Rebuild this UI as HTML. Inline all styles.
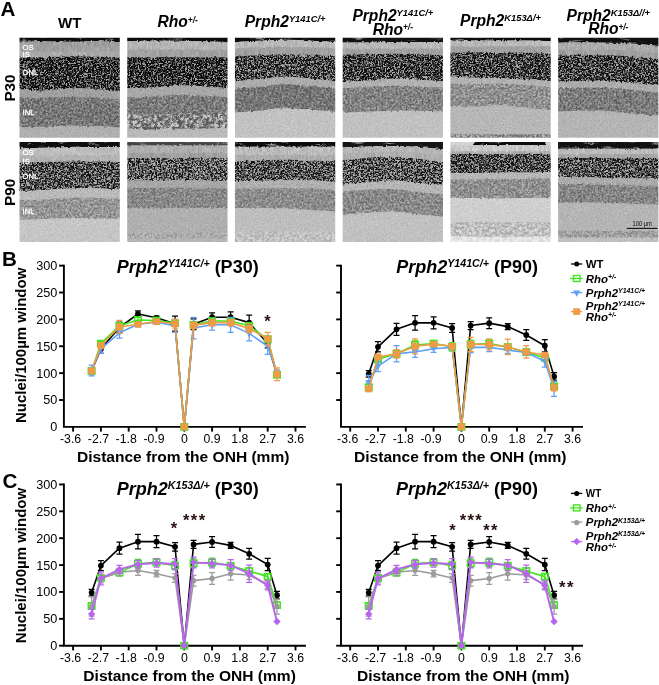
<!DOCTYPE html>
<html lang="en">
<head>
<meta charset="utf-8">
<title>Retinal histology and ONL nuclei counts</title>
<style>
html,body{margin:0;padding:0;background:#fff;}
body{width:659px;height:685px;overflow:hidden;}
svg{display:block;font-family:"Liberation Sans", Arial, Helvetica, sans-serif;}
text{white-space:pre;}
</style>
</head>
<body>
<svg width="659" height="685" viewBox="0 0 659 685">
<defs>
<filter id="soft" x="-5%" y="-5%" width="110%" height="110%" color-interpolation-filters="sRGB"><feTurbulence type="fractalNoise" baseFrequency="0.35" numOctaves="2" seed="7" result="dn"/><feDisplacementMap in="SourceGraphic" in2="dn" scale="3.2" xChannelSelector="R" yChannelSelector="G" result="dd"/><feGaussianBlur in="dd" stdDeviation="0.4"/></filter>
<filter id="rpe_1_0_100" x="0" y="0" width="100%" height="100%" color-interpolation-filters="sRGB"><feTurbulence type="fractalNoise" baseFrequency="0.06 0.45" numOctaves="2" seed="1" result="n"/><feColorMatrix in="n" type="matrix" values="1 0 0 0 0  1 0 0 0 0  1 0 0 0 0  0 0 0 0 1" result="g"/><feComponentTransfer in="g" result="t"><feFuncR type="table" tableValues="0.047 0.047 0.047 0.047 0.047 0.047 0.047 0.047 0.047 0.047 0.047 0.047 0.047 0.121 0.244 0.367 0.490 0.490 0.490 0.490 0.490"/><feFuncG type="table" tableValues="0.047 0.047 0.047 0.047 0.047 0.047 0.047 0.047 0.047 0.047 0.047 0.047 0.047 0.121 0.244 0.367 0.490 0.490 0.490 0.490 0.490"/><feFuncB type="table" tableValues="0.047 0.047 0.047 0.047 0.047 0.047 0.047 0.047 0.047 0.047 0.047 0.047 0.047 0.121 0.244 0.367 0.490 0.490 0.490 0.490 0.490"/></feComponentTransfer><feComposite in="t" in2="SourceGraphic" operator="in"/></filter>
<filter id="os_1_-20_100" x="0" y="0" width="100%" height="100%" color-interpolation-filters="sRGB"><feTurbulence type="fractalNoise" baseFrequency="0.7 0.15" numOctaves="2" seed="1" result="n"/><feColorMatrix in="n" type="matrix" values="1 0 0 0 0  1 0 0 0 0  1 0 0 0 0  0 0 0 0 1" result="g"/><feComponentTransfer in="g" result="t"><feFuncR type="table" tableValues="0.580 0.580 0.580 0.580 0.580 0.580 0.580 0.592 0.604 0.616 0.627 0.639 0.651 0.663 0.675 0.675 0.675 0.675 0.675 0.675 0.675"/><feFuncG type="table" tableValues="0.580 0.580 0.580 0.580 0.580 0.580 0.580 0.592 0.604 0.616 0.627 0.639 0.651 0.663 0.675 0.675 0.675 0.675 0.675 0.675 0.675"/><feFuncB type="table" tableValues="0.580 0.580 0.580 0.580 0.580 0.580 0.580 0.592 0.604 0.616 0.627 0.639 0.651 0.663 0.675 0.675 0.675 0.675 0.675 0.675 0.675"/></feComponentTransfer><feComposite in="t" in2="SourceGraphic" operator="in"/></filter>
<filter id="is_1_10_100" x="0" y="0" width="100%" height="100%" color-interpolation-filters="sRGB"><feTurbulence type="fractalNoise" baseFrequency="0.7 0.12" numOctaves="2" seed="1" result="n"/><feColorMatrix in="n" type="matrix" values="1 0 0 0 0  1 0 0 0 0  1 0 0 0 0  0 0 0 0 1" result="g"/><feComponentTransfer in="g" result="t"><feFuncR type="table" tableValues="0.627 0.627 0.627 0.627 0.627 0.627 0.627 0.638 0.649 0.660 0.671 0.681 0.692 0.703 0.714 0.714 0.714 0.714 0.714 0.714 0.714"/><feFuncG type="table" tableValues="0.627 0.627 0.627 0.627 0.627 0.627 0.627 0.638 0.649 0.660 0.671 0.681 0.692 0.703 0.714 0.714 0.714 0.714 0.714 0.714 0.714"/><feFuncB type="table" tableValues="0.627 0.627 0.627 0.627 0.627 0.627 0.627 0.638 0.649 0.660 0.671 0.681 0.692 0.703 0.714 0.714 0.714 0.714 0.714 0.714 0.714"/></feComponentTransfer><feComposite in="t" in2="SourceGraphic" operator="in"/></filter>
<filter id="onl_1_0_100" x="0" y="0" width="100%" height="100%" color-interpolation-filters="sRGB"><feTurbulence type="fractalNoise" baseFrequency="0.68" numOctaves="1" seed="1" result="n"/><feColorMatrix in="n" type="matrix" values="1 0 0 0 0  1 0 0 0 0  1 0 0 0 0  0 0 0 0 1" result="g"/><feComponentTransfer in="g" result="t"><feFuncR type="table" tableValues="0.031 0.031 0.031 0.031 0.031 0.031 0.031 0.031 0.031 0.031 0.178 0.325 0.471 0.618 0.647 0.647 0.647 0.647 0.647 0.647 0.647"/><feFuncG type="table" tableValues="0.031 0.031 0.031 0.031 0.031 0.031 0.031 0.031 0.031 0.031 0.178 0.325 0.471 0.618 0.647 0.647 0.647 0.647 0.647 0.647 0.647"/><feFuncB type="table" tableValues="0.031 0.031 0.031 0.031 0.031 0.031 0.031 0.031 0.031 0.031 0.178 0.325 0.471 0.618 0.647 0.647 0.647 0.647 0.647 0.647 0.647"/></feComponentTransfer><feComposite in="t" in2="SourceGraphic" operator="in"/></filter>
<filter id="opl_1_-8_100" x="0" y="0" width="100%" height="100%" color-interpolation-filters="sRGB"><feTurbulence type="fractalNoise" baseFrequency="0.7" numOctaves="2" seed="1" result="n"/><feColorMatrix in="n" type="matrix" values="1 0 0 0 0  1 0 0 0 0  1 0 0 0 0  0 0 0 0 1" result="g"/><feComponentTransfer in="g" result="t"><feFuncR type="table" tableValues="0.565 0.565 0.565 0.565 0.565 0.565 0.577 0.590 0.602 0.615 0.627 0.640 0.653 0.665 0.678 0.690 0.690 0.690 0.690 0.690 0.690"/><feFuncG type="table" tableValues="0.565 0.565 0.565 0.565 0.565 0.565 0.577 0.590 0.602 0.615 0.627 0.640 0.653 0.665 0.678 0.690 0.690 0.690 0.690 0.690 0.690"/><feFuncB type="table" tableValues="0.565 0.565 0.565 0.565 0.565 0.565 0.577 0.590 0.602 0.615 0.627 0.640 0.653 0.665 0.678 0.690 0.690 0.690 0.690 0.690 0.690"/></feComponentTransfer><feComposite in="t" in2="SourceGraphic" operator="in"/></filter>
<filter id="inl_1_-8_100" x="0" y="0" width="100%" height="100%" color-interpolation-filters="sRGB"><feTurbulence type="fractalNoise" baseFrequency="0.5" numOctaves="2" seed="1" result="n"/><feColorMatrix in="n" type="matrix" values="1 0 0 0 0  1 0 0 0 0  1 0 0 0 0  0 0 0 0 1" result="g"/><feComponentTransfer in="g" result="t"><feFuncR type="table" tableValues="0.345 0.345 0.345 0.345 0.345 0.345 0.345 0.353 0.392 0.431 0.471 0.510 0.549 0.588 0.612 0.612 0.612 0.612 0.612 0.612 0.612"/><feFuncG type="table" tableValues="0.345 0.345 0.345 0.345 0.345 0.345 0.345 0.353 0.392 0.431 0.471 0.510 0.549 0.588 0.612 0.612 0.612 0.612 0.612 0.612 0.612"/><feFuncB type="table" tableValues="0.345 0.345 0.345 0.345 0.345 0.345 0.345 0.353 0.392 0.431 0.471 0.510 0.549 0.588 0.612 0.612 0.612 0.612 0.612 0.612 0.612"/></feComponentTransfer><feComposite in="t" in2="SourceGraphic" operator="in"/></filter>
<filter id="ipl_1_-10_100" x="0" y="0" width="100%" height="100%" color-interpolation-filters="sRGB"><feTurbulence type="fractalNoise" baseFrequency="0.7" numOctaves="2" seed="1" result="n"/><feColorMatrix in="n" type="matrix" values="1 0 0 0 0  1 0 0 0 0  1 0 0 0 0  0 0 0 0 1" result="g"/><feComponentTransfer in="g" result="t"><feFuncR type="table" tableValues="0.643 0.643 0.643 0.643 0.643 0.643 0.653 0.662 0.671 0.681 0.690 0.700 0.709 0.718 0.728 0.737 0.737 0.737 0.737 0.737 0.737"/><feFuncG type="table" tableValues="0.643 0.643 0.643 0.643 0.643 0.643 0.653 0.662 0.671 0.681 0.690 0.700 0.709 0.718 0.728 0.737 0.737 0.737 0.737 0.737 0.737"/><feFuncB type="table" tableValues="0.643 0.643 0.643 0.643 0.643 0.643 0.653 0.662 0.671 0.681 0.690 0.700 0.709 0.718 0.728 0.737 0.737 0.737 0.737 0.737 0.737"/></feComponentTransfer><feComposite in="t" in2="SourceGraphic" operator="in"/></filter>
<filter id="rpe_2_0_100" x="0" y="0" width="100%" height="100%" color-interpolation-filters="sRGB"><feTurbulence type="fractalNoise" baseFrequency="0.06 0.45" numOctaves="2" seed="2" result="n"/><feColorMatrix in="n" type="matrix" values="1 0 0 0 0  1 0 0 0 0  1 0 0 0 0  0 0 0 0 1" result="g"/><feComponentTransfer in="g" result="t"><feFuncR type="table" tableValues="0.047 0.047 0.047 0.047 0.047 0.047 0.047 0.047 0.047 0.047 0.047 0.047 0.047 0.121 0.244 0.367 0.490 0.490 0.490 0.490 0.490"/><feFuncG type="table" tableValues="0.047 0.047 0.047 0.047 0.047 0.047 0.047 0.047 0.047 0.047 0.047 0.047 0.047 0.121 0.244 0.367 0.490 0.490 0.490 0.490 0.490"/><feFuncB type="table" tableValues="0.047 0.047 0.047 0.047 0.047 0.047 0.047 0.047 0.047 0.047 0.047 0.047 0.047 0.121 0.244 0.367 0.490 0.490 0.490 0.490 0.490"/></feComponentTransfer><feComposite in="t" in2="SourceGraphic" operator="in"/></filter>
<filter id="os_2_0_100" x="0" y="0" width="100%" height="100%" color-interpolation-filters="sRGB"><feTurbulence type="fractalNoise" baseFrequency="0.7 0.15" numOctaves="2" seed="2" result="n"/><feColorMatrix in="n" type="matrix" values="1 0 0 0 0  1 0 0 0 0  1 0 0 0 0  0 0 0 0 1" result="g"/><feComponentTransfer in="g" result="t"><feFuncR type="table" tableValues="0.659 0.659 0.659 0.659 0.659 0.659 0.659 0.671 0.682 0.694 0.706 0.718 0.729 0.741 0.753 0.753 0.753 0.753 0.753 0.753 0.753"/><feFuncG type="table" tableValues="0.659 0.659 0.659 0.659 0.659 0.659 0.659 0.671 0.682 0.694 0.706 0.718 0.729 0.741 0.753 0.753 0.753 0.753 0.753 0.753 0.753"/><feFuncB type="table" tableValues="0.659 0.659 0.659 0.659 0.659 0.659 0.659 0.671 0.682 0.694 0.706 0.718 0.729 0.741 0.753 0.753 0.753 0.753 0.753 0.753 0.753"/></feComponentTransfer><feComposite in="t" in2="SourceGraphic" operator="in"/></filter>
<filter id="is_2_0_100" x="0" y="0" width="100%" height="100%" color-interpolation-filters="sRGB"><feTurbulence type="fractalNoise" baseFrequency="0.7 0.12" numOctaves="2" seed="2" result="n"/><feColorMatrix in="n" type="matrix" values="1 0 0 0 0  1 0 0 0 0  1 0 0 0 0  0 0 0 0 1" result="g"/><feComponentTransfer in="g" result="t"><feFuncR type="table" tableValues="0.588 0.588 0.588 0.588 0.588 0.588 0.588 0.599 0.610 0.621 0.631 0.642 0.653 0.664 0.675 0.675 0.675 0.675 0.675 0.675 0.675"/><feFuncG type="table" tableValues="0.588 0.588 0.588 0.588 0.588 0.588 0.588 0.599 0.610 0.621 0.631 0.642 0.653 0.664 0.675 0.675 0.675 0.675 0.675 0.675 0.675"/><feFuncB type="table" tableValues="0.588 0.588 0.588 0.588 0.588 0.588 0.588 0.599 0.610 0.621 0.631 0.642 0.653 0.664 0.675 0.675 0.675 0.675 0.675 0.675 0.675"/></feComponentTransfer><feComposite in="t" in2="SourceGraphic" operator="in"/></filter>
<filter id="onl_2_0_100" x="0" y="0" width="100%" height="100%" color-interpolation-filters="sRGB"><feTurbulence type="fractalNoise" baseFrequency="0.68" numOctaves="1" seed="2" result="n"/><feColorMatrix in="n" type="matrix" values="1 0 0 0 0  1 0 0 0 0  1 0 0 0 0  0 0 0 0 1" result="g"/><feComponentTransfer in="g" result="t"><feFuncR type="table" tableValues="0.031 0.031 0.031 0.031 0.031 0.031 0.031 0.031 0.031 0.031 0.178 0.325 0.471 0.618 0.647 0.647 0.647 0.647 0.647 0.647 0.647"/><feFuncG type="table" tableValues="0.031 0.031 0.031 0.031 0.031 0.031 0.031 0.031 0.031 0.031 0.178 0.325 0.471 0.618 0.647 0.647 0.647 0.647 0.647 0.647 0.647"/><feFuncB type="table" tableValues="0.031 0.031 0.031 0.031 0.031 0.031 0.031 0.031 0.031 0.031 0.178 0.325 0.471 0.618 0.647 0.647 0.647 0.647 0.647 0.647 0.647"/></feComponentTransfer><feComposite in="t" in2="SourceGraphic" operator="in"/></filter>
<filter id="opl_2_0_100" x="0" y="0" width="100%" height="100%" color-interpolation-filters="sRGB"><feTurbulence type="fractalNoise" baseFrequency="0.7" numOctaves="2" seed="2" result="n"/><feColorMatrix in="n" type="matrix" values="1 0 0 0 0  1 0 0 0 0  1 0 0 0 0  0 0 0 0 1" result="g"/><feComponentTransfer in="g" result="t"><feFuncR type="table" tableValues="0.596 0.596 0.596 0.596 0.596 0.596 0.609 0.621 0.634 0.646 0.659 0.671 0.684 0.696 0.709 0.722 0.722 0.722 0.722 0.722 0.722"/><feFuncG type="table" tableValues="0.596 0.596 0.596 0.596 0.596 0.596 0.609 0.621 0.634 0.646 0.659 0.671 0.684 0.696 0.709 0.722 0.722 0.722 0.722 0.722 0.722"/><feFuncB type="table" tableValues="0.596 0.596 0.596 0.596 0.596 0.596 0.609 0.621 0.634 0.646 0.659 0.671 0.684 0.696 0.709 0.722 0.722 0.722 0.722 0.722 0.722"/></feComponentTransfer><feComposite in="t" in2="SourceGraphic" operator="in"/></filter>
<filter id="inl_2_-5_100" x="0" y="0" width="100%" height="100%" color-interpolation-filters="sRGB"><feTurbulence type="fractalNoise" baseFrequency="0.5" numOctaves="2" seed="2" result="n"/><feColorMatrix in="n" type="matrix" values="1 0 0 0 0  1 0 0 0 0  1 0 0 0 0  0 0 0 0 1" result="g"/><feComponentTransfer in="g" result="t"><feFuncR type="table" tableValues="0.357 0.357 0.357 0.357 0.357 0.357 0.357 0.365 0.404 0.443 0.482 0.522 0.561 0.600 0.624 0.624 0.624 0.624 0.624 0.624 0.624"/><feFuncG type="table" tableValues="0.357 0.357 0.357 0.357 0.357 0.357 0.357 0.365 0.404 0.443 0.482 0.522 0.561 0.600 0.624 0.624 0.624 0.624 0.624 0.624 0.624"/><feFuncB type="table" tableValues="0.357 0.357 0.357 0.357 0.357 0.357 0.357 0.365 0.404 0.443 0.482 0.522 0.561 0.600 0.624 0.624 0.624 0.624 0.624 0.624 0.624"/></feComponentTransfer><feComposite in="t" in2="SourceGraphic" operator="in"/></filter>
<filter id="inl2_2_0_100" x="0" y="0" width="100%" height="100%" color-interpolation-filters="sRGB"><feTurbulence type="fractalNoise" baseFrequency="0.33" numOctaves="2" seed="2" result="n"/><feColorMatrix in="n" type="matrix" values="1 0 0 0 0  1 0 0 0 0  1 0 0 0 0  0 0 0 0 1" result="g"/><feComponentTransfer in="g" result="t"><feFuncR type="table" tableValues="0.353 0.353 0.353 0.353 0.353 0.353 0.353 0.353 0.353 0.436 0.519 0.602 0.685 0.768 0.784 0.784 0.784 0.784 0.784 0.784 0.784"/><feFuncG type="table" tableValues="0.353 0.353 0.353 0.353 0.353 0.353 0.353 0.353 0.353 0.436 0.519 0.602 0.685 0.768 0.784 0.784 0.784 0.784 0.784 0.784 0.784"/><feFuncB type="table" tableValues="0.353 0.353 0.353 0.353 0.353 0.353 0.353 0.353 0.353 0.436 0.519 0.602 0.685 0.768 0.784 0.784 0.784 0.784 0.784 0.784 0.784"/></feComponentTransfer><feComposite in="t" in2="SourceGraphic" operator="in"/></filter>
<filter id="ipl_2_0_100" x="0" y="0" width="100%" height="100%" color-interpolation-filters="sRGB"><feTurbulence type="fractalNoise" baseFrequency="0.7" numOctaves="2" seed="2" result="n"/><feColorMatrix in="n" type="matrix" values="1 0 0 0 0  1 0 0 0 0  1 0 0 0 0  0 0 0 0 1" result="g"/><feComponentTransfer in="g" result="t"><feFuncR type="table" tableValues="0.682 0.682 0.682 0.682 0.682 0.682 0.692 0.701 0.711 0.720 0.729 0.739 0.748 0.758 0.767 0.776 0.776 0.776 0.776 0.776 0.776"/><feFuncG type="table" tableValues="0.682 0.682 0.682 0.682 0.682 0.682 0.692 0.701 0.711 0.720 0.729 0.739 0.748 0.758 0.767 0.776 0.776 0.776 0.776 0.776 0.776"/><feFuncB type="table" tableValues="0.682 0.682 0.682 0.682 0.682 0.682 0.692 0.701 0.711 0.720 0.729 0.739 0.748 0.758 0.767 0.776 0.776 0.776 0.776 0.776 0.776"/></feComponentTransfer><feComposite in="t" in2="SourceGraphic" operator="in"/></filter>
<filter id="rpe_3_0_100" x="0" y="0" width="100%" height="100%" color-interpolation-filters="sRGB"><feTurbulence type="fractalNoise" baseFrequency="0.06 0.45" numOctaves="2" seed="3" result="n"/><feColorMatrix in="n" type="matrix" values="1 0 0 0 0  1 0 0 0 0  1 0 0 0 0  0 0 0 0 1" result="g"/><feComponentTransfer in="g" result="t"><feFuncR type="table" tableValues="0.047 0.047 0.047 0.047 0.047 0.047 0.047 0.047 0.047 0.047 0.047 0.047 0.047 0.121 0.244 0.367 0.490 0.490 0.490 0.490 0.490"/><feFuncG type="table" tableValues="0.047 0.047 0.047 0.047 0.047 0.047 0.047 0.047 0.047 0.047 0.047 0.047 0.047 0.121 0.244 0.367 0.490 0.490 0.490 0.490 0.490"/><feFuncB type="table" tableValues="0.047 0.047 0.047 0.047 0.047 0.047 0.047 0.047 0.047 0.047 0.047 0.047 0.047 0.121 0.244 0.367 0.490 0.490 0.490 0.490 0.490"/></feComponentTransfer><feComposite in="t" in2="SourceGraphic" operator="in"/></filter>
<filter id="os_3_5_100" x="0" y="0" width="100%" height="100%" color-interpolation-filters="sRGB"><feTurbulence type="fractalNoise" baseFrequency="0.7 0.15" numOctaves="2" seed="3" result="n"/><feColorMatrix in="n" type="matrix" values="1 0 0 0 0  1 0 0 0 0  1 0 0 0 0  0 0 0 0 1" result="g"/><feComponentTransfer in="g" result="t"><feFuncR type="table" tableValues="0.678 0.678 0.678 0.678 0.678 0.678 0.678 0.690 0.702 0.714 0.725 0.737 0.749 0.761 0.773 0.773 0.773 0.773 0.773 0.773 0.773"/><feFuncG type="table" tableValues="0.678 0.678 0.678 0.678 0.678 0.678 0.678 0.690 0.702 0.714 0.725 0.737 0.749 0.761 0.773 0.773 0.773 0.773 0.773 0.773 0.773"/><feFuncB type="table" tableValues="0.678 0.678 0.678 0.678 0.678 0.678 0.678 0.690 0.702 0.714 0.725 0.737 0.749 0.761 0.773 0.773 0.773 0.773 0.773 0.773 0.773"/></feComponentTransfer><feComposite in="t" in2="SourceGraphic" operator="in"/></filter>
<filter id="is_3_0_100" x="0" y="0" width="100%" height="100%" color-interpolation-filters="sRGB"><feTurbulence type="fractalNoise" baseFrequency="0.7 0.12" numOctaves="2" seed="3" result="n"/><feColorMatrix in="n" type="matrix" values="1 0 0 0 0  1 0 0 0 0  1 0 0 0 0  0 0 0 0 1" result="g"/><feComponentTransfer in="g" result="t"><feFuncR type="table" tableValues="0.588 0.588 0.588 0.588 0.588 0.588 0.588 0.599 0.610 0.621 0.631 0.642 0.653 0.664 0.675 0.675 0.675 0.675 0.675 0.675 0.675"/><feFuncG type="table" tableValues="0.588 0.588 0.588 0.588 0.588 0.588 0.588 0.599 0.610 0.621 0.631 0.642 0.653 0.664 0.675 0.675 0.675 0.675 0.675 0.675 0.675"/><feFuncB type="table" tableValues="0.588 0.588 0.588 0.588 0.588 0.588 0.588 0.599 0.610 0.621 0.631 0.642 0.653 0.664 0.675 0.675 0.675 0.675 0.675 0.675 0.675"/></feComponentTransfer><feComposite in="t" in2="SourceGraphic" operator="in"/></filter>
<filter id="onl_3_16_100" x="0" y="0" width="100%" height="100%" color-interpolation-filters="sRGB"><feTurbulence type="fractalNoise" baseFrequency="0.68" numOctaves="1" seed="3" result="n"/><feColorMatrix in="n" type="matrix" values="1 0 0 0 0  1 0 0 0 0  1 0 0 0 0  0 0 0 0 1" result="g"/><feComponentTransfer in="g" result="t"><feFuncR type="table" tableValues="0.050 0.050 0.050 0.050 0.050 0.050 0.050 0.050 0.050 0.111 0.258 0.404 0.551 0.666 0.666 0.666 0.666 0.666 0.666 0.666 0.666"/><feFuncG type="table" tableValues="0.050 0.050 0.050 0.050 0.050 0.050 0.050 0.050 0.050 0.111 0.258 0.404 0.551 0.666 0.666 0.666 0.666 0.666 0.666 0.666 0.666"/><feFuncB type="table" tableValues="0.050 0.050 0.050 0.050 0.050 0.050 0.050 0.050 0.050 0.111 0.258 0.404 0.551 0.666 0.666 0.666 0.666 0.666 0.666 0.666 0.666"/></feComponentTransfer><feComposite in="t" in2="SourceGraphic" operator="in"/></filter>
<filter id="opl_3_5_100" x="0" y="0" width="100%" height="100%" color-interpolation-filters="sRGB"><feTurbulence type="fractalNoise" baseFrequency="0.7" numOctaves="2" seed="3" result="n"/><feColorMatrix in="n" type="matrix" values="1 0 0 0 0  1 0 0 0 0  1 0 0 0 0  0 0 0 0 1" result="g"/><feComponentTransfer in="g" result="t"><feFuncR type="table" tableValues="0.616 0.616 0.616 0.616 0.616 0.616 0.628 0.641 0.653 0.666 0.678 0.691 0.704 0.716 0.729 0.741 0.741 0.741 0.741 0.741 0.741"/><feFuncG type="table" tableValues="0.616 0.616 0.616 0.616 0.616 0.616 0.628 0.641 0.653 0.666 0.678 0.691 0.704 0.716 0.729 0.741 0.741 0.741 0.741 0.741 0.741"/><feFuncB type="table" tableValues="0.616 0.616 0.616 0.616 0.616 0.616 0.628 0.641 0.653 0.666 0.678 0.691 0.704 0.716 0.729 0.741 0.741 0.741 0.741 0.741 0.741"/></feComponentTransfer><feComposite in="t" in2="SourceGraphic" operator="in"/></filter>
<filter id="inl_3_-10_90" x="0" y="0" width="100%" height="100%" color-interpolation-filters="sRGB"><feTurbulence type="fractalNoise" baseFrequency="0.5" numOctaves="2" seed="3" result="n"/><feColorMatrix in="n" type="matrix" values="1 0 0 0 0  1 0 0 0 0  1 0 0 0 0  0 0 0 0 1" result="g"/><feComponentTransfer in="g" result="t"><feFuncR type="table" tableValues="0.351 0.351 0.351 0.351 0.351 0.351 0.351 0.358 0.393 0.428 0.464 0.499 0.534 0.569 0.591 0.591 0.591 0.591 0.591 0.591 0.591"/><feFuncG type="table" tableValues="0.351 0.351 0.351 0.351 0.351 0.351 0.351 0.358 0.393 0.428 0.464 0.499 0.534 0.569 0.591 0.591 0.591 0.591 0.591 0.591 0.591"/><feFuncB type="table" tableValues="0.351 0.351 0.351 0.351 0.351 0.351 0.351 0.358 0.393 0.428 0.464 0.499 0.534 0.569 0.591 0.591 0.591 0.591 0.591 0.591 0.591"/></feComponentTransfer><feComposite in="t" in2="SourceGraphic" operator="in"/></filter>
<filter id="ipl_3_8_100" x="0" y="0" width="100%" height="100%" color-interpolation-filters="sRGB"><feTurbulence type="fractalNoise" baseFrequency="0.7" numOctaves="2" seed="3" result="n"/><feColorMatrix in="n" type="matrix" values="1 0 0 0 0  1 0 0 0 0  1 0 0 0 0  0 0 0 0 1" result="g"/><feComponentTransfer in="g" result="t"><feFuncR type="table" tableValues="0.714 0.714 0.714 0.714 0.714 0.714 0.723 0.733 0.742 0.751 0.761 0.770 0.780 0.789 0.798 0.808 0.808 0.808 0.808 0.808 0.808"/><feFuncG type="table" tableValues="0.714 0.714 0.714 0.714 0.714 0.714 0.723 0.733 0.742 0.751 0.761 0.770 0.780 0.789 0.798 0.808 0.808 0.808 0.808 0.808 0.808"/><feFuncB type="table" tableValues="0.714 0.714 0.714 0.714 0.714 0.714 0.723 0.733 0.742 0.751 0.761 0.770 0.780 0.789 0.798 0.808 0.808 0.808 0.808 0.808 0.808"/></feComponentTransfer><feComposite in="t" in2="SourceGraphic" operator="in"/></filter>
<filter id="rpe_4_5_100" x="0" y="0" width="100%" height="100%" color-interpolation-filters="sRGB"><feTurbulence type="fractalNoise" baseFrequency="0.06 0.45" numOctaves="2" seed="4" result="n"/><feColorMatrix in="n" type="matrix" values="1 0 0 0 0  1 0 0 0 0  1 0 0 0 0  0 0 0 0 1" result="g"/><feComponentTransfer in="g" result="t"><feFuncR type="table" tableValues="0.067 0.067 0.067 0.067 0.067 0.067 0.067 0.067 0.067 0.067 0.067 0.067 0.067 0.141 0.264 0.387 0.510 0.510 0.510 0.510 0.510"/><feFuncG type="table" tableValues="0.067 0.067 0.067 0.067 0.067 0.067 0.067 0.067 0.067 0.067 0.067 0.067 0.067 0.141 0.264 0.387 0.510 0.510 0.510 0.510 0.510"/><feFuncB type="table" tableValues="0.067 0.067 0.067 0.067 0.067 0.067 0.067 0.067 0.067 0.067 0.067 0.067 0.067 0.141 0.264 0.387 0.510 0.510 0.510 0.510 0.510"/></feComponentTransfer><feComposite in="t" in2="SourceGraphic" operator="in"/></filter>
<filter id="os_4_5_100" x="0" y="0" width="100%" height="100%" color-interpolation-filters="sRGB"><feTurbulence type="fractalNoise" baseFrequency="0.7 0.15" numOctaves="2" seed="4" result="n"/><feColorMatrix in="n" type="matrix" values="1 0 0 0 0  1 0 0 0 0  1 0 0 0 0  0 0 0 0 1" result="g"/><feComponentTransfer in="g" result="t"><feFuncR type="table" tableValues="0.678 0.678 0.678 0.678 0.678 0.678 0.678 0.690 0.702 0.714 0.725 0.737 0.749 0.761 0.773 0.773 0.773 0.773 0.773 0.773 0.773"/><feFuncG type="table" tableValues="0.678 0.678 0.678 0.678 0.678 0.678 0.678 0.690 0.702 0.714 0.725 0.737 0.749 0.761 0.773 0.773 0.773 0.773 0.773 0.773 0.773"/><feFuncB type="table" tableValues="0.678 0.678 0.678 0.678 0.678 0.678 0.678 0.690 0.702 0.714 0.725 0.737 0.749 0.761 0.773 0.773 0.773 0.773 0.773 0.773 0.773"/></feComponentTransfer><feComposite in="t" in2="SourceGraphic" operator="in"/></filter>
<filter id="is_4_0_100" x="0" y="0" width="100%" height="100%" color-interpolation-filters="sRGB"><feTurbulence type="fractalNoise" baseFrequency="0.7 0.12" numOctaves="2" seed="4" result="n"/><feColorMatrix in="n" type="matrix" values="1 0 0 0 0  1 0 0 0 0  1 0 0 0 0  0 0 0 0 1" result="g"/><feComponentTransfer in="g" result="t"><feFuncR type="table" tableValues="0.588 0.588 0.588 0.588 0.588 0.588 0.588 0.599 0.610 0.621 0.631 0.642 0.653 0.664 0.675 0.675 0.675 0.675 0.675 0.675 0.675"/><feFuncG type="table" tableValues="0.588 0.588 0.588 0.588 0.588 0.588 0.588 0.599 0.610 0.621 0.631 0.642 0.653 0.664 0.675 0.675 0.675 0.675 0.675 0.675 0.675"/><feFuncB type="table" tableValues="0.588 0.588 0.588 0.588 0.588 0.588 0.588 0.599 0.610 0.621 0.631 0.642 0.653 0.664 0.675 0.675 0.675 0.675 0.675 0.675 0.675"/></feComponentTransfer><feComposite in="t" in2="SourceGraphic" operator="in"/></filter>
<filter id="onl_4_10_100" x="0" y="0" width="100%" height="100%" color-interpolation-filters="sRGB"><feTurbulence type="fractalNoise" baseFrequency="0.68" numOctaves="1" seed="4" result="n"/><feColorMatrix in="n" type="matrix" values="1 0 0 0 0  1 0 0 0 0  1 0 0 0 0  0 0 0 0 1" result="g"/><feComponentTransfer in="g" result="t"><feFuncR type="table" tableValues="0.043 0.043 0.043 0.043 0.043 0.043 0.043 0.043 0.043 0.081 0.228 0.374 0.521 0.659 0.659 0.659 0.659 0.659 0.659 0.659 0.659"/><feFuncG type="table" tableValues="0.043 0.043 0.043 0.043 0.043 0.043 0.043 0.043 0.043 0.081 0.228 0.374 0.521 0.659 0.659 0.659 0.659 0.659 0.659 0.659 0.659"/><feFuncB type="table" tableValues="0.043 0.043 0.043 0.043 0.043 0.043 0.043 0.043 0.043 0.081 0.228 0.374 0.521 0.659 0.659 0.659 0.659 0.659 0.659 0.659 0.659"/></feComponentTransfer><feComposite in="t" in2="SourceGraphic" operator="in"/></filter>
<filter id="opl_4_10_100" x="0" y="0" width="100%" height="100%" color-interpolation-filters="sRGB"><feTurbulence type="fractalNoise" baseFrequency="0.7" numOctaves="2" seed="4" result="n"/><feColorMatrix in="n" type="matrix" values="1 0 0 0 0  1 0 0 0 0  1 0 0 0 0  0 0 0 0 1" result="g"/><feComponentTransfer in="g" result="t"><feFuncR type="table" tableValues="0.635 0.635 0.635 0.635 0.635 0.635 0.648 0.660 0.673 0.685 0.698 0.711 0.723 0.736 0.748 0.761 0.761 0.761 0.761 0.761 0.761"/><feFuncG type="table" tableValues="0.635 0.635 0.635 0.635 0.635 0.635 0.648 0.660 0.673 0.685 0.698 0.711 0.723 0.736 0.748 0.761 0.761 0.761 0.761 0.761 0.761"/><feFuncB type="table" tableValues="0.635 0.635 0.635 0.635 0.635 0.635 0.648 0.660 0.673 0.685 0.698 0.711 0.723 0.736 0.748 0.761 0.761 0.761 0.761 0.761 0.761"/></feComponentTransfer><feComposite in="t" in2="SourceGraphic" operator="in"/></filter>
<filter id="inl_4_2_100" x="0" y="0" width="100%" height="100%" color-interpolation-filters="sRGB"><feTurbulence type="fractalNoise" baseFrequency="0.5" numOctaves="2" seed="4" result="n"/><feColorMatrix in="n" type="matrix" values="1 0 0 0 0  1 0 0 0 0  1 0 0 0 0  0 0 0 0 1" result="g"/><feComponentTransfer in="g" result="t"><feFuncR type="table" tableValues="0.384 0.384 0.384 0.384 0.384 0.384 0.384 0.392 0.431 0.471 0.510 0.549 0.588 0.627 0.651 0.651 0.651 0.651 0.651 0.651 0.651"/><feFuncG type="table" tableValues="0.384 0.384 0.384 0.384 0.384 0.384 0.384 0.392 0.431 0.471 0.510 0.549 0.588 0.627 0.651 0.651 0.651 0.651 0.651 0.651 0.651"/><feFuncB type="table" tableValues="0.384 0.384 0.384 0.384 0.384 0.384 0.384 0.392 0.431 0.471 0.510 0.549 0.588 0.627 0.651 0.651 0.651 0.651 0.651 0.651 0.651"/></feComponentTransfer><feComposite in="t" in2="SourceGraphic" operator="in"/></filter>
<filter id="ipl_4_7_100" x="0" y="0" width="100%" height="100%" color-interpolation-filters="sRGB"><feTurbulence type="fractalNoise" baseFrequency="0.7" numOctaves="2" seed="4" result="n"/><feColorMatrix in="n" type="matrix" values="1 0 0 0 0  1 0 0 0 0  1 0 0 0 0  0 0 0 0 1" result="g"/><feComponentTransfer in="g" result="t"><feFuncR type="table" tableValues="0.710 0.710 0.710 0.710 0.710 0.710 0.719 0.729 0.738 0.747 0.757 0.766 0.776 0.785 0.795 0.804 0.804 0.804 0.804 0.804 0.804"/><feFuncG type="table" tableValues="0.710 0.710 0.710 0.710 0.710 0.710 0.719 0.729 0.738 0.747 0.757 0.766 0.776 0.785 0.795 0.804 0.804 0.804 0.804 0.804 0.804"/><feFuncB type="table" tableValues="0.710 0.710 0.710 0.710 0.710 0.710 0.719 0.729 0.738 0.747 0.757 0.766 0.776 0.785 0.795 0.804 0.804 0.804 0.804 0.804 0.804"/></feComponentTransfer><feComposite in="t" in2="SourceGraphic" operator="in"/></filter>
<filter id="rpe_5_0_100" x="0" y="0" width="100%" height="100%" color-interpolation-filters="sRGB"><feTurbulence type="fractalNoise" baseFrequency="0.06 0.45" numOctaves="2" seed="5" result="n"/><feColorMatrix in="n" type="matrix" values="1 0 0 0 0  1 0 0 0 0  1 0 0 0 0  0 0 0 0 1" result="g"/><feComponentTransfer in="g" result="t"><feFuncR type="table" tableValues="0.047 0.047 0.047 0.047 0.047 0.047 0.047 0.047 0.047 0.047 0.047 0.047 0.047 0.121 0.244 0.367 0.490 0.490 0.490 0.490 0.490"/><feFuncG type="table" tableValues="0.047 0.047 0.047 0.047 0.047 0.047 0.047 0.047 0.047 0.047 0.047 0.047 0.047 0.121 0.244 0.367 0.490 0.490 0.490 0.490 0.490"/><feFuncB type="table" tableValues="0.047 0.047 0.047 0.047 0.047 0.047 0.047 0.047 0.047 0.047 0.047 0.047 0.047 0.121 0.244 0.367 0.490 0.490 0.490 0.490 0.490"/></feComponentTransfer><feComposite in="t" in2="SourceGraphic" operator="in"/></filter>
<filter id="os_5_5_100" x="0" y="0" width="100%" height="100%" color-interpolation-filters="sRGB"><feTurbulence type="fractalNoise" baseFrequency="0.7 0.15" numOctaves="2" seed="5" result="n"/><feColorMatrix in="n" type="matrix" values="1 0 0 0 0  1 0 0 0 0  1 0 0 0 0  0 0 0 0 1" result="g"/><feComponentTransfer in="g" result="t"><feFuncR type="table" tableValues="0.678 0.678 0.678 0.678 0.678 0.678 0.678 0.690 0.702 0.714 0.725 0.737 0.749 0.761 0.773 0.773 0.773 0.773 0.773 0.773 0.773"/><feFuncG type="table" tableValues="0.678 0.678 0.678 0.678 0.678 0.678 0.678 0.690 0.702 0.714 0.725 0.737 0.749 0.761 0.773 0.773 0.773 0.773 0.773 0.773 0.773"/><feFuncB type="table" tableValues="0.678 0.678 0.678 0.678 0.678 0.678 0.678 0.690 0.702 0.714 0.725 0.737 0.749 0.761 0.773 0.773 0.773 0.773 0.773 0.773 0.773"/></feComponentTransfer><feComposite in="t" in2="SourceGraphic" operator="in"/></filter>
<filter id="is_5_0_100" x="0" y="0" width="100%" height="100%" color-interpolation-filters="sRGB"><feTurbulence type="fractalNoise" baseFrequency="0.7 0.12" numOctaves="2" seed="5" result="n"/><feColorMatrix in="n" type="matrix" values="1 0 0 0 0  1 0 0 0 0  1 0 0 0 0  0 0 0 0 1" result="g"/><feComponentTransfer in="g" result="t"><feFuncR type="table" tableValues="0.588 0.588 0.588 0.588 0.588 0.588 0.588 0.599 0.610 0.621 0.631 0.642 0.653 0.664 0.675 0.675 0.675 0.675 0.675 0.675 0.675"/><feFuncG type="table" tableValues="0.588 0.588 0.588 0.588 0.588 0.588 0.588 0.599 0.610 0.621 0.631 0.642 0.653 0.664 0.675 0.675 0.675 0.675 0.675 0.675 0.675"/><feFuncB type="table" tableValues="0.588 0.588 0.588 0.588 0.588 0.588 0.588 0.599 0.610 0.621 0.631 0.642 0.653 0.664 0.675 0.675 0.675 0.675 0.675 0.675 0.675"/></feComponentTransfer><feComposite in="t" in2="SourceGraphic" operator="in"/></filter>
<filter id="onl_5_12_100" x="0" y="0" width="100%" height="100%" color-interpolation-filters="sRGB"><feTurbulence type="fractalNoise" baseFrequency="0.68" numOctaves="1" seed="5" result="n"/><feColorMatrix in="n" type="matrix" values="1 0 0 0 0  1 0 0 0 0  1 0 0 0 0  0 0 0 0 1" result="g"/><feComponentTransfer in="g" result="t"><feFuncR type="table" tableValues="0.045 0.045 0.045 0.045 0.045 0.045 0.045 0.045 0.045 0.091 0.238 0.384 0.531 0.661 0.661 0.661 0.661 0.661 0.661 0.661 0.661"/><feFuncG type="table" tableValues="0.045 0.045 0.045 0.045 0.045 0.045 0.045 0.045 0.045 0.091 0.238 0.384 0.531 0.661 0.661 0.661 0.661 0.661 0.661 0.661 0.661"/><feFuncB type="table" tableValues="0.045 0.045 0.045 0.045 0.045 0.045 0.045 0.045 0.045 0.091 0.238 0.384 0.531 0.661 0.661 0.661 0.661 0.661 0.661 0.661 0.661"/></feComponentTransfer><feComposite in="t" in2="SourceGraphic" operator="in"/></filter>
<filter id="opl_5_10_100" x="0" y="0" width="100%" height="100%" color-interpolation-filters="sRGB"><feTurbulence type="fractalNoise" baseFrequency="0.7" numOctaves="2" seed="5" result="n"/><feColorMatrix in="n" type="matrix" values="1 0 0 0 0  1 0 0 0 0  1 0 0 0 0  0 0 0 0 1" result="g"/><feComponentTransfer in="g" result="t"><feFuncR type="table" tableValues="0.635 0.635 0.635 0.635 0.635 0.635 0.648 0.660 0.673 0.685 0.698 0.711 0.723 0.736 0.748 0.761 0.761 0.761 0.761 0.761 0.761"/><feFuncG type="table" tableValues="0.635 0.635 0.635 0.635 0.635 0.635 0.648 0.660 0.673 0.685 0.698 0.711 0.723 0.736 0.748 0.761 0.761 0.761 0.761 0.761 0.761"/><feFuncB type="table" tableValues="0.635 0.635 0.635 0.635 0.635 0.635 0.648 0.660 0.673 0.685 0.698 0.711 0.723 0.736 0.748 0.761 0.761 0.761 0.761 0.761 0.761"/></feComponentTransfer><feComposite in="t" in2="SourceGraphic" operator="in"/></filter>
<filter id="inl_5_16_100" x="0" y="0" width="100%" height="100%" color-interpolation-filters="sRGB"><feTurbulence type="fractalNoise" baseFrequency="0.5" numOctaves="2" seed="5" result="n"/><feColorMatrix in="n" type="matrix" values="1 0 0 0 0  1 0 0 0 0  1 0 0 0 0  0 0 0 0 1" result="g"/><feComponentTransfer in="g" result="t"><feFuncR type="table" tableValues="0.439 0.439 0.439 0.439 0.439 0.439 0.439 0.447 0.486 0.525 0.565 0.604 0.643 0.682 0.706 0.706 0.706 0.706 0.706 0.706 0.706"/><feFuncG type="table" tableValues="0.439 0.439 0.439 0.439 0.439 0.439 0.439 0.447 0.486 0.525 0.565 0.604 0.643 0.682 0.706 0.706 0.706 0.706 0.706 0.706 0.706"/><feFuncB type="table" tableValues="0.439 0.439 0.439 0.439 0.439 0.439 0.439 0.447 0.486 0.525 0.565 0.604 0.643 0.682 0.706 0.706 0.706 0.706 0.706 0.706 0.706"/></feComponentTransfer><feComposite in="t" in2="SourceGraphic" operator="in"/></filter>
<filter id="ipl_5_-3_100" x="0" y="0" width="100%" height="100%" color-interpolation-filters="sRGB"><feTurbulence type="fractalNoise" baseFrequency="0.7" numOctaves="2" seed="5" result="n"/><feColorMatrix in="n" type="matrix" values="1 0 0 0 0  1 0 0 0 0  1 0 0 0 0  0 0 0 0 1" result="g"/><feComponentTransfer in="g" result="t"><feFuncR type="table" tableValues="0.671 0.671 0.671 0.671 0.671 0.671 0.680 0.689 0.699 0.708 0.718 0.727 0.736 0.746 0.755 0.765 0.765 0.765 0.765 0.765 0.765"/><feFuncG type="table" tableValues="0.671 0.671 0.671 0.671 0.671 0.671 0.680 0.689 0.699 0.708 0.718 0.727 0.736 0.746 0.755 0.765 0.765 0.765 0.765 0.765 0.765"/><feFuncB type="table" tableValues="0.671 0.671 0.671 0.671 0.671 0.671 0.680 0.689 0.699 0.708 0.718 0.727 0.736 0.746 0.755 0.765 0.765 0.765 0.765 0.765 0.765"/></feComponentTransfer><feComposite in="t" in2="SourceGraphic" operator="in"/></filter>
<filter id="gcl_5_-25_90" x="0" y="0" width="100%" height="100%" color-interpolation-filters="sRGB"><feTurbulence type="fractalNoise" baseFrequency="0.40" numOctaves="2" seed="5" result="n"/><feColorMatrix in="n" type="matrix" values="1 0 0 0 0  1 0 0 0 0  1 0 0 0 0  0 0 0 0 1" result="g"/><feComponentTransfer in="g" result="t"><feFuncR type="table" tableValues="0.428 0.428 0.428 0.428 0.428 0.428 0.428 0.428 0.474 0.519 0.565 0.610 0.656 0.701 0.728 0.728 0.728 0.728 0.728 0.728 0.728"/><feFuncG type="table" tableValues="0.428 0.428 0.428 0.428 0.428 0.428 0.428 0.428 0.474 0.519 0.565 0.610 0.656 0.701 0.728 0.728 0.728 0.728 0.728 0.728 0.728"/><feFuncB type="table" tableValues="0.428 0.428 0.428 0.428 0.428 0.428 0.428 0.428 0.474 0.519 0.565 0.610 0.656 0.701 0.728 0.728 0.728 0.728 0.728 0.728 0.728"/></feComponentTransfer><feComposite in="t" in2="SourceGraphic" operator="in"/></filter>
<filter id="rpe_6_10_110" x="0" y="0" width="100%" height="100%" color-interpolation-filters="sRGB"><feTurbulence type="fractalNoise" baseFrequency="0.06 0.45" numOctaves="2" seed="6" result="n"/><feColorMatrix in="n" type="matrix" values="1 0 0 0 0  1 0 0 0 0  1 0 0 0 0  0 0 0 0 1" result="g"/><feComponentTransfer in="g" result="t"><feFuncR type="table" tableValues="0.064 0.064 0.064 0.064 0.064 0.064 0.064 0.064 0.064 0.064 0.064 0.064 0.064 0.145 0.281 0.416 0.552 0.552 0.552 0.552 0.552"/><feFuncG type="table" tableValues="0.064 0.064 0.064 0.064 0.064 0.064 0.064 0.064 0.064 0.064 0.064 0.064 0.064 0.145 0.281 0.416 0.552 0.552 0.552 0.552 0.552"/><feFuncB type="table" tableValues="0.064 0.064 0.064 0.064 0.064 0.064 0.064 0.064 0.064 0.064 0.064 0.064 0.064 0.145 0.281 0.416 0.552 0.552 0.552 0.552 0.552"/></feComponentTransfer><feComposite in="t" in2="SourceGraphic" operator="in"/></filter>
<filter id="os_6_-8_100" x="0" y="0" width="100%" height="100%" color-interpolation-filters="sRGB"><feTurbulence type="fractalNoise" baseFrequency="0.7 0.15" numOctaves="2" seed="6" result="n"/><feColorMatrix in="n" type="matrix" values="1 0 0 0 0  1 0 0 0 0  1 0 0 0 0  0 0 0 0 1" result="g"/><feComponentTransfer in="g" result="t"><feFuncR type="table" tableValues="0.627 0.627 0.627 0.627 0.627 0.627 0.627 0.639 0.651 0.663 0.675 0.686 0.698 0.710 0.722 0.722 0.722 0.722 0.722 0.722 0.722"/><feFuncG type="table" tableValues="0.627 0.627 0.627 0.627 0.627 0.627 0.627 0.639 0.651 0.663 0.675 0.686 0.698 0.710 0.722 0.722 0.722 0.722 0.722 0.722 0.722"/><feFuncB type="table" tableValues="0.627 0.627 0.627 0.627 0.627 0.627 0.627 0.639 0.651 0.663 0.675 0.686 0.698 0.710 0.722 0.722 0.722 0.722 0.722 0.722 0.722"/></feComponentTransfer><feComposite in="t" in2="SourceGraphic" operator="in"/></filter>
<filter id="is_6_0_100" x="0" y="0" width="100%" height="100%" color-interpolation-filters="sRGB"><feTurbulence type="fractalNoise" baseFrequency="0.7 0.12" numOctaves="2" seed="6" result="n"/><feColorMatrix in="n" type="matrix" values="1 0 0 0 0  1 0 0 0 0  1 0 0 0 0  0 0 0 0 1" result="g"/><feComponentTransfer in="g" result="t"><feFuncR type="table" tableValues="0.588 0.588 0.588 0.588 0.588 0.588 0.588 0.599 0.610 0.621 0.631 0.642 0.653 0.664 0.675 0.675 0.675 0.675 0.675 0.675 0.675"/><feFuncG type="table" tableValues="0.588 0.588 0.588 0.588 0.588 0.588 0.588 0.599 0.610 0.621 0.631 0.642 0.653 0.664 0.675 0.675 0.675 0.675 0.675 0.675 0.675"/><feFuncB type="table" tableValues="0.588 0.588 0.588 0.588 0.588 0.588 0.588 0.599 0.610 0.621 0.631 0.642 0.653 0.664 0.675 0.675 0.675 0.675 0.675 0.675 0.675"/></feComponentTransfer><feComposite in="t" in2="SourceGraphic" operator="in"/></filter>
<filter id="onl_6_12_100" x="0" y="0" width="100%" height="100%" color-interpolation-filters="sRGB"><feTurbulence type="fractalNoise" baseFrequency="0.68" numOctaves="1" seed="6" result="n"/><feColorMatrix in="n" type="matrix" values="1 0 0 0 0  1 0 0 0 0  1 0 0 0 0  0 0 0 0 1" result="g"/><feComponentTransfer in="g" result="t"><feFuncR type="table" tableValues="0.045 0.045 0.045 0.045 0.045 0.045 0.045 0.045 0.045 0.091 0.238 0.384 0.531 0.661 0.661 0.661 0.661 0.661 0.661 0.661 0.661"/><feFuncG type="table" tableValues="0.045 0.045 0.045 0.045 0.045 0.045 0.045 0.045 0.045 0.091 0.238 0.384 0.531 0.661 0.661 0.661 0.661 0.661 0.661 0.661 0.661"/><feFuncB type="table" tableValues="0.045 0.045 0.045 0.045 0.045 0.045 0.045 0.045 0.045 0.091 0.238 0.384 0.531 0.661 0.661 0.661 0.661 0.661 0.661 0.661 0.661"/></feComponentTransfer><feComposite in="t" in2="SourceGraphic" operator="in"/></filter>
<filter id="opl_6_5_100" x="0" y="0" width="100%" height="100%" color-interpolation-filters="sRGB"><feTurbulence type="fractalNoise" baseFrequency="0.7" numOctaves="2" seed="6" result="n"/><feColorMatrix in="n" type="matrix" values="1 0 0 0 0  1 0 0 0 0  1 0 0 0 0  0 0 0 0 1" result="g"/><feComponentTransfer in="g" result="t"><feFuncR type="table" tableValues="0.616 0.616 0.616 0.616 0.616 0.616 0.628 0.641 0.653 0.666 0.678 0.691 0.704 0.716 0.729 0.741 0.741 0.741 0.741 0.741 0.741"/><feFuncG type="table" tableValues="0.616 0.616 0.616 0.616 0.616 0.616 0.628 0.641 0.653 0.666 0.678 0.691 0.704 0.716 0.729 0.741 0.741 0.741 0.741 0.741 0.741"/><feFuncB type="table" tableValues="0.616 0.616 0.616 0.616 0.616 0.616 0.628 0.641 0.653 0.666 0.678 0.691 0.704 0.716 0.729 0.741 0.741 0.741 0.741 0.741 0.741"/></feComponentTransfer><feComposite in="t" in2="SourceGraphic" operator="in"/></filter>
<filter id="inl_6_-4_100" x="0" y="0" width="100%" height="100%" color-interpolation-filters="sRGB"><feTurbulence type="fractalNoise" baseFrequency="0.5" numOctaves="2" seed="6" result="n"/><feColorMatrix in="n" type="matrix" values="1 0 0 0 0  1 0 0 0 0  1 0 0 0 0  0 0 0 0 1" result="g"/><feComponentTransfer in="g" result="t"><feFuncR type="table" tableValues="0.361 0.361 0.361 0.361 0.361 0.361 0.361 0.369 0.408 0.447 0.486 0.525 0.565 0.604 0.627 0.627 0.627 0.627 0.627 0.627 0.627"/><feFuncG type="table" tableValues="0.361 0.361 0.361 0.361 0.361 0.361 0.361 0.369 0.408 0.447 0.486 0.525 0.565 0.604 0.627 0.627 0.627 0.627 0.627 0.627 0.627"/><feFuncB type="table" tableValues="0.361 0.361 0.361 0.361 0.361 0.361 0.361 0.369 0.408 0.447 0.486 0.525 0.565 0.604 0.627 0.627 0.627 0.627 0.627 0.627 0.627"/></feComponentTransfer><feComposite in="t" in2="SourceGraphic" operator="in"/></filter>
<filter id="ipl_6_-5_100" x="0" y="0" width="100%" height="100%" color-interpolation-filters="sRGB"><feTurbulence type="fractalNoise" baseFrequency="0.7" numOctaves="2" seed="6" result="n"/><feColorMatrix in="n" type="matrix" values="1 0 0 0 0  1 0 0 0 0  1 0 0 0 0  0 0 0 0 1" result="g"/><feComponentTransfer in="g" result="t"><feFuncR type="table" tableValues="0.663 0.663 0.663 0.663 0.663 0.663 0.672 0.682 0.691 0.700 0.710 0.719 0.729 0.738 0.747 0.757 0.757 0.757 0.757 0.757 0.757"/><feFuncG type="table" tableValues="0.663 0.663 0.663 0.663 0.663 0.663 0.672 0.682 0.691 0.700 0.710 0.719 0.729 0.738 0.747 0.757 0.757 0.757 0.757 0.757 0.757"/><feFuncB type="table" tableValues="0.663 0.663 0.663 0.663 0.663 0.663 0.672 0.682 0.691 0.700 0.710 0.719 0.729 0.738 0.747 0.757 0.757 0.757 0.757 0.757 0.757"/></feComponentTransfer><feComposite in="t" in2="SourceGraphic" operator="in"/></filter>
<filter id="rpe_7_14_120" x="0" y="0" width="100%" height="100%" color-interpolation-filters="sRGB"><feTurbulence type="fractalNoise" baseFrequency="0.06 0.45" numOctaves="2" seed="7" result="n"/><feColorMatrix in="n" type="matrix" values="1 0 0 0 0  1 0 0 0 0  1 0 0 0 0  0 0 0 0 1" result="g"/><feComponentTransfer in="g" result="t"><feFuncR type="table" tableValues="0.058 0.058 0.058 0.058 0.058 0.058 0.058 0.058 0.058 0.058 0.058 0.058 0.058 0.146 0.294 0.442 0.589 0.589 0.589 0.589 0.589"/><feFuncG type="table" tableValues="0.058 0.058 0.058 0.058 0.058 0.058 0.058 0.058 0.058 0.058 0.058 0.058 0.058 0.146 0.294 0.442 0.589 0.589 0.589 0.589 0.589"/><feFuncB type="table" tableValues="0.058 0.058 0.058 0.058 0.058 0.058 0.058 0.058 0.058 0.058 0.058 0.058 0.058 0.146 0.294 0.442 0.589 0.589 0.589 0.589 0.589"/></feComponentTransfer><feComposite in="t" in2="SourceGraphic" operator="in"/></filter>
<filter id="os_7_10_100" x="0" y="0" width="100%" height="100%" color-interpolation-filters="sRGB"><feTurbulence type="fractalNoise" baseFrequency="0.7 0.15" numOctaves="2" seed="7" result="n"/><feColorMatrix in="n" type="matrix" values="1 0 0 0 0  1 0 0 0 0  1 0 0 0 0  0 0 0 0 1" result="g"/><feComponentTransfer in="g" result="t"><feFuncR type="table" tableValues="0.698 0.698 0.698 0.698 0.698 0.698 0.698 0.710 0.722 0.733 0.745 0.757 0.769 0.780 0.792 0.792 0.792 0.792 0.792 0.792 0.792"/><feFuncG type="table" tableValues="0.698 0.698 0.698 0.698 0.698 0.698 0.698 0.710 0.722 0.733 0.745 0.757 0.769 0.780 0.792 0.792 0.792 0.792 0.792 0.792 0.792"/><feFuncB type="table" tableValues="0.698 0.698 0.698 0.698 0.698 0.698 0.698 0.710 0.722 0.733 0.745 0.757 0.769 0.780 0.792 0.792 0.792 0.792 0.792 0.792 0.792"/></feComponentTransfer><feComposite in="t" in2="SourceGraphic" operator="in"/></filter>
<filter id="is_7_18_100" x="0" y="0" width="100%" height="100%" color-interpolation-filters="sRGB"><feTurbulence type="fractalNoise" baseFrequency="0.7 0.12" numOctaves="2" seed="7" result="n"/><feColorMatrix in="n" type="matrix" values="1 0 0 0 0  1 0 0 0 0  1 0 0 0 0  0 0 0 0 1" result="g"/><feComponentTransfer in="g" result="t"><feFuncR type="table" tableValues="0.659 0.659 0.659 0.659 0.659 0.659 0.659 0.670 0.680 0.691 0.702 0.713 0.724 0.734 0.745 0.745 0.745 0.745 0.745 0.745 0.745"/><feFuncG type="table" tableValues="0.659 0.659 0.659 0.659 0.659 0.659 0.659 0.670 0.680 0.691 0.702 0.713 0.724 0.734 0.745 0.745 0.745 0.745 0.745 0.745 0.745"/><feFuncB type="table" tableValues="0.659 0.659 0.659 0.659 0.659 0.659 0.659 0.670 0.680 0.691 0.702 0.713 0.724 0.734 0.745 0.745 0.745 0.745 0.745 0.745 0.745"/></feComponentTransfer><feComposite in="t" in2="SourceGraphic" operator="in"/></filter>
<filter id="onl_7_26_100" x="0" y="0" width="100%" height="100%" color-interpolation-filters="sRGB"><feTurbulence type="fractalNoise" baseFrequency="0.68" numOctaves="1" seed="7" result="n"/><feColorMatrix in="n" type="matrix" values="1 0 0 0 0  1 0 0 0 0  1 0 0 0 0  0 0 0 0 1" result="g"/><feComponentTransfer in="g" result="t"><feFuncR type="table" tableValues="0.062 0.062 0.062 0.062 0.062 0.062 0.062 0.062 0.062 0.161 0.308 0.454 0.601 0.678 0.678 0.678 0.678 0.678 0.678 0.678 0.678"/><feFuncG type="table" tableValues="0.062 0.062 0.062 0.062 0.062 0.062 0.062 0.062 0.062 0.161 0.308 0.454 0.601 0.678 0.678 0.678 0.678 0.678 0.678 0.678 0.678"/><feFuncB type="table" tableValues="0.062 0.062 0.062 0.062 0.062 0.062 0.062 0.062 0.062 0.161 0.308 0.454 0.601 0.678 0.678 0.678 0.678 0.678 0.678 0.678 0.678"/></feComponentTransfer><feComposite in="t" in2="SourceGraphic" operator="in"/></filter>
<filter id="opl_7_18_100" x="0" y="0" width="100%" height="100%" color-interpolation-filters="sRGB"><feTurbulence type="fractalNoise" baseFrequency="0.7" numOctaves="2" seed="7" result="n"/><feColorMatrix in="n" type="matrix" values="1 0 0 0 0  1 0 0 0 0  1 0 0 0 0  0 0 0 0 1" result="g"/><feComponentTransfer in="g" result="t"><feFuncR type="table" tableValues="0.667 0.667 0.667 0.667 0.667 0.667 0.679 0.692 0.704 0.717 0.729 0.742 0.755 0.767 0.780 0.792 0.792 0.792 0.792 0.792 0.792"/><feFuncG type="table" tableValues="0.667 0.667 0.667 0.667 0.667 0.667 0.679 0.692 0.704 0.717 0.729 0.742 0.755 0.767 0.780 0.792 0.792 0.792 0.792 0.792 0.792"/><feFuncB type="table" tableValues="0.667 0.667 0.667 0.667 0.667 0.667 0.679 0.692 0.704 0.717 0.729 0.742 0.755 0.767 0.780 0.792 0.792 0.792 0.792 0.792 0.792"/></feComponentTransfer><feComposite in="t" in2="SourceGraphic" operator="in"/></filter>
<filter id="inl_7_22_90" x="0" y="0" width="100%" height="100%" color-interpolation-filters="sRGB"><feTurbulence type="fractalNoise" baseFrequency="0.5" numOctaves="2" seed="7" result="n"/><feColorMatrix in="n" type="matrix" values="1 0 0 0 0  1 0 0 0 0  1 0 0 0 0  0 0 0 0 1" result="g"/><feComponentTransfer in="g" result="t"><feFuncR type="table" tableValues="0.476 0.476 0.476 0.476 0.476 0.476 0.476 0.483 0.518 0.554 0.589 0.624 0.660 0.695 0.716 0.716 0.716 0.716 0.716 0.716 0.716"/><feFuncG type="table" tableValues="0.476 0.476 0.476 0.476 0.476 0.476 0.476 0.483 0.518 0.554 0.589 0.624 0.660 0.695 0.716 0.716 0.716 0.716 0.716 0.716 0.716"/><feFuncB type="table" tableValues="0.476 0.476 0.476 0.476 0.476 0.476 0.476 0.483 0.518 0.554 0.589 0.624 0.660 0.695 0.716 0.716 0.716 0.716 0.716 0.716 0.716"/></feComponentTransfer><feComposite in="t" in2="SourceGraphic" operator="in"/></filter>
<filter id="ipl_7_12_100" x="0" y="0" width="100%" height="100%" color-interpolation-filters="sRGB"><feTurbulence type="fractalNoise" baseFrequency="0.7" numOctaves="2" seed="7" result="n"/><feColorMatrix in="n" type="matrix" values="1 0 0 0 0  1 0 0 0 0  1 0 0 0 0  0 0 0 0 1" result="g"/><feComponentTransfer in="g" result="t"><feFuncR type="table" tableValues="0.729 0.729 0.729 0.729 0.729 0.729 0.739 0.748 0.758 0.767 0.776 0.786 0.795 0.805 0.814 0.824 0.824 0.824 0.824 0.824 0.824"/><feFuncG type="table" tableValues="0.729 0.729 0.729 0.729 0.729 0.729 0.739 0.748 0.758 0.767 0.776 0.786 0.795 0.805 0.814 0.824 0.824 0.824 0.824 0.824 0.824"/><feFuncB type="table" tableValues="0.729 0.729 0.729 0.729 0.729 0.729 0.739 0.748 0.758 0.767 0.776 0.786 0.795 0.805 0.814 0.824 0.824 0.824 0.824 0.824 0.824"/></feComponentTransfer><feComposite in="t" in2="SourceGraphic" operator="in"/></filter>
<filter id="rpe_8_40_70" x="0" y="0" width="100%" height="100%" color-interpolation-filters="sRGB"><feTurbulence type="fractalNoise" baseFrequency="0.06 0.45" numOctaves="2" seed="8" result="n"/><feColorMatrix in="n" type="matrix" values="1 0 0 0 0  1 0 0 0 0  1 0 0 0 0  0 0 0 0 1" result="g"/><feComponentTransfer in="g" result="t"><feFuncR type="table" tableValues="0.270 0.270 0.270 0.270 0.270 0.270 0.270 0.270 0.270 0.270 0.270 0.270 0.270 0.322 0.408 0.494 0.581 0.581 0.581 0.581 0.581"/><feFuncG type="table" tableValues="0.270 0.270 0.270 0.270 0.270 0.270 0.270 0.270 0.270 0.270 0.270 0.270 0.270 0.322 0.408 0.494 0.581 0.581 0.581 0.581 0.581"/><feFuncB type="table" tableValues="0.270 0.270 0.270 0.270 0.270 0.270 0.270 0.270 0.270 0.270 0.270 0.270 0.270 0.322 0.408 0.494 0.581 0.581 0.581 0.581 0.581"/></feComponentTransfer><feComposite in="t" in2="SourceGraphic" operator="in"/></filter>
<filter id="os_8_-5_100" x="0" y="0" width="100%" height="100%" color-interpolation-filters="sRGB"><feTurbulence type="fractalNoise" baseFrequency="0.7 0.15" numOctaves="2" seed="8" result="n"/><feColorMatrix in="n" type="matrix" values="1 0 0 0 0  1 0 0 0 0  1 0 0 0 0  0 0 0 0 1" result="g"/><feComponentTransfer in="g" result="t"><feFuncR type="table" tableValues="0.639 0.639 0.639 0.639 0.639 0.639 0.639 0.651 0.663 0.675 0.686 0.698 0.710 0.722 0.733 0.733 0.733 0.733 0.733 0.733 0.733"/><feFuncG type="table" tableValues="0.639 0.639 0.639 0.639 0.639 0.639 0.639 0.651 0.663 0.675 0.686 0.698 0.710 0.722 0.733 0.733 0.733 0.733 0.733 0.733 0.733"/><feFuncB type="table" tableValues="0.639 0.639 0.639 0.639 0.639 0.639 0.639 0.651 0.663 0.675 0.686 0.698 0.710 0.722 0.733 0.733 0.733 0.733 0.733 0.733 0.733"/></feComponentTransfer><feComposite in="t" in2="SourceGraphic" operator="in"/></filter>
<filter id="is_8_0_100" x="0" y="0" width="100%" height="100%" color-interpolation-filters="sRGB"><feTurbulence type="fractalNoise" baseFrequency="0.7 0.12" numOctaves="2" seed="8" result="n"/><feColorMatrix in="n" type="matrix" values="1 0 0 0 0  1 0 0 0 0  1 0 0 0 0  0 0 0 0 1" result="g"/><feComponentTransfer in="g" result="t"><feFuncR type="table" tableValues="0.588 0.588 0.588 0.588 0.588 0.588 0.588 0.599 0.610 0.621 0.631 0.642 0.653 0.664 0.675 0.675 0.675 0.675 0.675 0.675 0.675"/><feFuncG type="table" tableValues="0.588 0.588 0.588 0.588 0.588 0.588 0.588 0.599 0.610 0.621 0.631 0.642 0.653 0.664 0.675 0.675 0.675 0.675 0.675 0.675 0.675"/><feFuncB type="table" tableValues="0.588 0.588 0.588 0.588 0.588 0.588 0.588 0.599 0.610 0.621 0.631 0.642 0.653 0.664 0.675 0.675 0.675 0.675 0.675 0.675 0.675"/></feComponentTransfer><feComposite in="t" in2="SourceGraphic" operator="in"/></filter>
<filter id="onl_8_38_85" x="0" y="0" width="100%" height="100%" color-interpolation-filters="sRGB"><feTurbulence type="fractalNoise" baseFrequency="0.68" numOctaves="1" seed="8" result="n"/><feColorMatrix in="n" type="matrix" values="1 0 0 0 0  1 0 0 0 0  1 0 0 0 0  0 0 0 0 1" result="g"/><feComponentTransfer in="g" result="t"><feFuncR type="table" tableValues="0.076 0.076 0.076 0.076 0.076 0.076 0.076 0.076 0.076 0.221 0.368 0.514 0.661 0.692 0.692 0.692 0.692 0.692 0.692 0.692 0.692"/><feFuncG type="table" tableValues="0.076 0.076 0.076 0.076 0.076 0.076 0.076 0.076 0.076 0.221 0.368 0.514 0.661 0.692 0.692 0.692 0.692 0.692 0.692 0.692 0.692"/><feFuncB type="table" tableValues="0.076 0.076 0.076 0.076 0.076 0.076 0.076 0.076 0.076 0.221 0.368 0.514 0.661 0.692 0.692 0.692 0.692 0.692 0.692 0.692 0.692"/></feComponentTransfer><feComposite in="t" in2="SourceGraphic" operator="in"/></filter>
<filter id="opl_8_0_100" x="0" y="0" width="100%" height="100%" color-interpolation-filters="sRGB"><feTurbulence type="fractalNoise" baseFrequency="0.7" numOctaves="2" seed="8" result="n"/><feColorMatrix in="n" type="matrix" values="1 0 0 0 0  1 0 0 0 0  1 0 0 0 0  0 0 0 0 1" result="g"/><feComponentTransfer in="g" result="t"><feFuncR type="table" tableValues="0.596 0.596 0.596 0.596 0.596 0.596 0.609 0.621 0.634 0.646 0.659 0.671 0.684 0.696 0.709 0.722 0.722 0.722 0.722 0.722 0.722"/><feFuncG type="table" tableValues="0.596 0.596 0.596 0.596 0.596 0.596 0.609 0.621 0.634 0.646 0.659 0.671 0.684 0.696 0.709 0.722 0.722 0.722 0.722 0.722 0.722"/><feFuncB type="table" tableValues="0.596 0.596 0.596 0.596 0.596 0.596 0.609 0.621 0.634 0.646 0.659 0.671 0.684 0.696 0.709 0.722 0.722 0.722 0.722 0.722 0.722"/></feComponentTransfer><feComposite in="t" in2="SourceGraphic" operator="in"/></filter>
<filter id="inl_8_8_85" x="0" y="0" width="100%" height="100%" color-interpolation-filters="sRGB"><feTurbulence type="fractalNoise" baseFrequency="0.5" numOctaves="2" seed="8" result="n"/><feColorMatrix in="n" type="matrix" values="1 0 0 0 0  1 0 0 0 0  1 0 0 0 0  0 0 0 0 1" result="g"/><feComponentTransfer in="g" result="t"><feFuncR type="table" tableValues="0.428 0.428 0.428 0.428 0.428 0.428 0.428 0.435 0.468 0.501 0.535 0.568 0.601 0.635 0.655 0.655 0.655 0.655 0.655 0.655 0.655"/><feFuncG type="table" tableValues="0.428 0.428 0.428 0.428 0.428 0.428 0.428 0.435 0.468 0.501 0.535 0.568 0.601 0.635 0.655 0.655 0.655 0.655 0.655 0.655 0.655"/><feFuncB type="table" tableValues="0.428 0.428 0.428 0.428 0.428 0.428 0.428 0.435 0.468 0.501 0.535 0.568 0.601 0.635 0.655 0.655 0.655 0.655 0.655 0.655 0.655"/></feComponentTransfer><feComposite in="t" in2="SourceGraphic" operator="in"/></filter>
<filter id="ipl_8_-10_100" x="0" y="0" width="100%" height="100%" color-interpolation-filters="sRGB"><feTurbulence type="fractalNoise" baseFrequency="0.7" numOctaves="2" seed="8" result="n"/><feColorMatrix in="n" type="matrix" values="1 0 0 0 0  1 0 0 0 0  1 0 0 0 0  0 0 0 0 1" result="g"/><feComponentTransfer in="g" result="t"><feFuncR type="table" tableValues="0.643 0.643 0.643 0.643 0.643 0.643 0.653 0.662 0.671 0.681 0.690 0.700 0.709 0.718 0.728 0.737 0.737 0.737 0.737 0.737 0.737"/><feFuncG type="table" tableValues="0.643 0.643 0.643 0.643 0.643 0.643 0.653 0.662 0.671 0.681 0.690 0.700 0.709 0.718 0.728 0.737 0.737 0.737 0.737 0.737 0.737"/><feFuncB type="table" tableValues="0.643 0.643 0.643 0.643 0.643 0.643 0.653 0.662 0.671 0.681 0.690 0.700 0.709 0.718 0.728 0.737 0.737 0.737 0.737 0.737 0.737"/></feComponentTransfer><feComposite in="t" in2="SourceGraphic" operator="in"/></filter>
<filter id="gcl_8_0_45" x="0" y="0" width="100%" height="100%" color-interpolation-filters="sRGB"><feTurbulence type="fractalNoise" baseFrequency="0.40" numOctaves="2" seed="8" result="n"/><feColorMatrix in="n" type="matrix" values="1 0 0 0 0  1 0 0 0 0  1 0 0 0 0  0 0 0 0 1" result="g"/><feComponentTransfer in="g" result="t"><feFuncR type="table" tableValues="0.601 0.601 0.601 0.601 0.601 0.601 0.601 0.601 0.624 0.647 0.670 0.692 0.715 0.738 0.751 0.751 0.751 0.751 0.751 0.751 0.751"/><feFuncG type="table" tableValues="0.601 0.601 0.601 0.601 0.601 0.601 0.601 0.601 0.624 0.647 0.670 0.692 0.715 0.738 0.751 0.751 0.751 0.751 0.751 0.751 0.751"/><feFuncB type="table" tableValues="0.601 0.601 0.601 0.601 0.601 0.601 0.601 0.601 0.624 0.647 0.670 0.692 0.715 0.738 0.751 0.751 0.751 0.751 0.751 0.751 0.751"/></feComponentTransfer><feComposite in="t" in2="SourceGraphic" operator="in"/></filter>
<filter id="ipl_8_-5_100" x="0" y="0" width="100%" height="100%" color-interpolation-filters="sRGB"><feTurbulence type="fractalNoise" baseFrequency="0.7" numOctaves="2" seed="8" result="n"/><feColorMatrix in="n" type="matrix" values="1 0 0 0 0  1 0 0 0 0  1 0 0 0 0  0 0 0 0 1" result="g"/><feComponentTransfer in="g" result="t"><feFuncR type="table" tableValues="0.663 0.663 0.663 0.663 0.663 0.663 0.672 0.682 0.691 0.700 0.710 0.719 0.729 0.738 0.747 0.757 0.757 0.757 0.757 0.757 0.757"/><feFuncG type="table" tableValues="0.663 0.663 0.663 0.663 0.663 0.663 0.672 0.682 0.691 0.700 0.710 0.719 0.729 0.738 0.747 0.757 0.757 0.757 0.757 0.757 0.757"/><feFuncB type="table" tableValues="0.663 0.663 0.663 0.663 0.663 0.663 0.672 0.682 0.691 0.700 0.710 0.719 0.729 0.738 0.747 0.757 0.757 0.757 0.757 0.757 0.757"/></feComponentTransfer><feComposite in="t" in2="SourceGraphic" operator="in"/></filter>
<filter id="rpe_9_12_120" x="0" y="0" width="100%" height="100%" color-interpolation-filters="sRGB"><feTurbulence type="fractalNoise" baseFrequency="0.06 0.45" numOctaves="2" seed="9" result="n"/><feColorMatrix in="n" type="matrix" values="1 0 0 0 0  1 0 0 0 0  1 0 0 0 0  0 0 0 0 1" result="g"/><feComponentTransfer in="g" result="t"><feFuncR type="table" tableValues="0.050 0.050 0.050 0.050 0.050 0.050 0.050 0.050 0.050 0.050 0.050 0.050 0.050 0.138 0.286 0.434 0.582 0.582 0.582 0.582 0.582"/><feFuncG type="table" tableValues="0.050 0.050 0.050 0.050 0.050 0.050 0.050 0.050 0.050 0.050 0.050 0.050 0.050 0.138 0.286 0.434 0.582 0.582 0.582 0.582 0.582"/><feFuncB type="table" tableValues="0.050 0.050 0.050 0.050 0.050 0.050 0.050 0.050 0.050 0.050 0.050 0.050 0.050 0.138 0.286 0.434 0.582 0.582 0.582 0.582 0.582"/></feComponentTransfer><feComposite in="t" in2="SourceGraphic" operator="in"/></filter>
<filter id="os_9_8_120" x="0" y="0" width="100%" height="100%" color-interpolation-filters="sRGB"><feTurbulence type="fractalNoise" baseFrequency="0.7 0.15" numOctaves="2" seed="9" result="n"/><feColorMatrix in="n" type="matrix" values="1 0 0 0 0  1 0 0 0 0  1 0 0 0 0  0 0 0 0 1" result="g"/><feComponentTransfer in="g" result="t"><feFuncR type="table" tableValues="0.681 0.681 0.681 0.681 0.681 0.681 0.681 0.695 0.709 0.723 0.737 0.751 0.765 0.780 0.794 0.794 0.794 0.794 0.794 0.794 0.794"/><feFuncG type="table" tableValues="0.681 0.681 0.681 0.681 0.681 0.681 0.681 0.695 0.709 0.723 0.737 0.751 0.765 0.780 0.794 0.794 0.794 0.794 0.794 0.794 0.794"/><feFuncB type="table" tableValues="0.681 0.681 0.681 0.681 0.681 0.681 0.681 0.695 0.709 0.723 0.737 0.751 0.765 0.780 0.794 0.794 0.794 0.794 0.794 0.794 0.794"/></feComponentTransfer><feComposite in="t" in2="SourceGraphic" operator="in"/></filter>
<filter id="is_9_12_120" x="0" y="0" width="100%" height="100%" color-interpolation-filters="sRGB"><feTurbulence type="fractalNoise" baseFrequency="0.7 0.12" numOctaves="2" seed="9" result="n"/><feColorMatrix in="n" type="matrix" values="1 0 0 0 0  1 0 0 0 0  1 0 0 0 0  0 0 0 0 1" result="g"/><feComponentTransfer in="g" result="t"><feFuncR type="table" tableValues="0.627 0.627 0.627 0.627 0.627 0.627 0.627 0.640 0.653 0.665 0.678 0.691 0.704 0.717 0.730 0.730 0.730 0.730 0.730 0.730 0.730"/><feFuncG type="table" tableValues="0.627 0.627 0.627 0.627 0.627 0.627 0.627 0.640 0.653 0.665 0.678 0.691 0.704 0.717 0.730 0.730 0.730 0.730 0.730 0.730 0.730"/><feFuncB type="table" tableValues="0.627 0.627 0.627 0.627 0.627 0.627 0.627 0.640 0.653 0.665 0.678 0.691 0.704 0.717 0.730 0.730 0.730 0.730 0.730 0.730 0.730"/></feComponentTransfer><feComposite in="t" in2="SourceGraphic" operator="in"/></filter>
<filter id="onl_9_28_90" x="0" y="0" width="100%" height="100%" color-interpolation-filters="sRGB"><feTurbulence type="fractalNoise" baseFrequency="0.68" numOctaves="1" seed="9" result="n"/><feColorMatrix in="n" type="matrix" values="1 0 0 0 0  1 0 0 0 0  1 0 0 0 0  0 0 0 0 1" result="g"/><feComponentTransfer in="g" result="t"><feFuncR type="table" tableValues="0.064 0.064 0.064 0.064 0.064 0.064 0.064 0.064 0.064 0.171 0.318 0.464 0.611 0.680 0.680 0.680 0.680 0.680 0.680 0.680 0.680"/><feFuncG type="table" tableValues="0.064 0.064 0.064 0.064 0.064 0.064 0.064 0.064 0.064 0.171 0.318 0.464 0.611 0.680 0.680 0.680 0.680 0.680 0.680 0.680 0.680"/><feFuncB type="table" tableValues="0.064 0.064 0.064 0.064 0.064 0.064 0.064 0.064 0.064 0.171 0.318 0.464 0.611 0.680 0.680 0.680 0.680 0.680 0.680 0.680 0.680"/></feComponentTransfer><feComposite in="t" in2="SourceGraphic" operator="in"/></filter>
<filter id="opl_9_8_100" x="0" y="0" width="100%" height="100%" color-interpolation-filters="sRGB"><feTurbulence type="fractalNoise" baseFrequency="0.7" numOctaves="2" seed="9" result="n"/><feColorMatrix in="n" type="matrix" values="1 0 0 0 0  1 0 0 0 0  1 0 0 0 0  0 0 0 0 1" result="g"/><feComponentTransfer in="g" result="t"><feFuncR type="table" tableValues="0.627 0.627 0.627 0.627 0.627 0.627 0.640 0.653 0.665 0.678 0.690 0.703 0.715 0.728 0.740 0.753 0.753 0.753 0.753 0.753 0.753"/><feFuncG type="table" tableValues="0.627 0.627 0.627 0.627 0.627 0.627 0.640 0.653 0.665 0.678 0.690 0.703 0.715 0.728 0.740 0.753 0.753 0.753 0.753 0.753 0.753"/><feFuncB type="table" tableValues="0.627 0.627 0.627 0.627 0.627 0.627 0.640 0.653 0.665 0.678 0.690 0.703 0.715 0.728 0.740 0.753 0.753 0.753 0.753 0.753 0.753"/></feComponentTransfer><feComposite in="t" in2="SourceGraphic" operator="in"/></filter>
<filter id="inl_9_12_80" x="0" y="0" width="100%" height="100%" color-interpolation-filters="sRGB"><feTurbulence type="fractalNoise" baseFrequency="0.5" numOctaves="2" seed="9" result="n"/><feColorMatrix in="n" type="matrix" values="1 0 0 0 0  1 0 0 0 0  1 0 0 0 0  0 0 0 0 1" result="g"/><feComponentTransfer in="g" result="t"><feFuncR type="table" tableValues="0.450 0.450 0.450 0.450 0.450 0.450 0.450 0.456 0.488 0.519 0.551 0.582 0.613 0.645 0.664 0.664 0.664 0.664 0.664 0.664 0.664"/><feFuncG type="table" tableValues="0.450 0.450 0.450 0.450 0.450 0.450 0.450 0.456 0.488 0.519 0.551 0.582 0.613 0.645 0.664 0.664 0.664 0.664 0.664 0.664 0.664"/><feFuncB type="table" tableValues="0.450 0.450 0.450 0.450 0.450 0.450 0.450 0.456 0.488 0.519 0.551 0.582 0.613 0.645 0.664 0.664 0.664 0.664 0.664 0.664 0.664"/></feComponentTransfer><feComposite in="t" in2="SourceGraphic" operator="in"/></filter>
<filter id="ipl_9_4_100" x="0" y="0" width="100%" height="100%" color-interpolation-filters="sRGB"><feTurbulence type="fractalNoise" baseFrequency="0.7" numOctaves="2" seed="9" result="n"/><feColorMatrix in="n" type="matrix" values="1 0 0 0 0  1 0 0 0 0  1 0 0 0 0  0 0 0 0 1" result="g"/><feComponentTransfer in="g" result="t"><feFuncR type="table" tableValues="0.698 0.698 0.698 0.698 0.698 0.698 0.707 0.717 0.726 0.736 0.745 0.755 0.764 0.773 0.783 0.792 0.792 0.792 0.792 0.792 0.792"/><feFuncG type="table" tableValues="0.698 0.698 0.698 0.698 0.698 0.698 0.707 0.717 0.726 0.736 0.745 0.755 0.764 0.773 0.783 0.792 0.792 0.792 0.792 0.792 0.792"/><feFuncB type="table" tableValues="0.698 0.698 0.698 0.698 0.698 0.698 0.707 0.717 0.726 0.736 0.745 0.755 0.764 0.773 0.783 0.792 0.792 0.792 0.792 0.792 0.792"/></feComponentTransfer><feComposite in="t" in2="SourceGraphic" operator="in"/></filter>
<filter id="gcl_9_22_45" x="0" y="0" width="100%" height="100%" color-interpolation-filters="sRGB"><feTurbulence type="fractalNoise" baseFrequency="0.40" numOctaves="2" seed="9" result="n"/><feColorMatrix in="n" type="matrix" values="1 0 0 0 0  1 0 0 0 0  1 0 0 0 0  0 0 0 0 1" result="g"/><feComponentTransfer in="g" result="t"><feFuncR type="table" tableValues="0.688 0.688 0.688 0.688 0.688 0.688 0.688 0.688 0.710 0.733 0.756 0.779 0.801 0.824 0.838 0.838 0.838 0.838 0.838 0.838 0.838"/><feFuncG type="table" tableValues="0.688 0.688 0.688 0.688 0.688 0.688 0.688 0.688 0.710 0.733 0.756 0.779 0.801 0.824 0.838 0.838 0.838 0.838 0.838 0.838 0.838"/><feFuncB type="table" tableValues="0.688 0.688 0.688 0.688 0.688 0.688 0.688 0.688 0.710 0.733 0.756 0.779 0.801 0.824 0.838 0.838 0.838 0.838 0.838 0.838 0.838"/></feComponentTransfer><feComposite in="t" in2="SourceGraphic" operator="in"/></filter>
<filter id="rpe_10_10_100" x="0" y="0" width="100%" height="100%" color-interpolation-filters="sRGB"><feTurbulence type="fractalNoise" baseFrequency="0.06 0.45" numOctaves="2" seed="10" result="n"/><feColorMatrix in="n" type="matrix" values="1 0 0 0 0  1 0 0 0 0  1 0 0 0 0  0 0 0 0 1" result="g"/><feComponentTransfer in="g" result="t"><feFuncR type="table" tableValues="0.086 0.086 0.086 0.086 0.086 0.086 0.086 0.086 0.086 0.086 0.086 0.086 0.086 0.160 0.283 0.406 0.529 0.529 0.529 0.529 0.529"/><feFuncG type="table" tableValues="0.086 0.086 0.086 0.086 0.086 0.086 0.086 0.086 0.086 0.086 0.086 0.086 0.086 0.160 0.283 0.406 0.529 0.529 0.529 0.529 0.529"/><feFuncB type="table" tableValues="0.086 0.086 0.086 0.086 0.086 0.086 0.086 0.086 0.086 0.086 0.086 0.086 0.086 0.160 0.283 0.406 0.529 0.529 0.529 0.529 0.529"/></feComponentTransfer><feComposite in="t" in2="SourceGraphic" operator="in"/></filter>
<filter id="os_10_2_100" x="0" y="0" width="100%" height="100%" color-interpolation-filters="sRGB"><feTurbulence type="fractalNoise" baseFrequency="0.7 0.15" numOctaves="2" seed="10" result="n"/><feColorMatrix in="n" type="matrix" values="1 0 0 0 0  1 0 0 0 0  1 0 0 0 0  0 0 0 0 1" result="g"/><feComponentTransfer in="g" result="t"><feFuncR type="table" tableValues="0.667 0.667 0.667 0.667 0.667 0.667 0.667 0.678 0.690 0.702 0.714 0.725 0.737 0.749 0.761 0.761 0.761 0.761 0.761 0.761 0.761"/><feFuncG type="table" tableValues="0.667 0.667 0.667 0.667 0.667 0.667 0.667 0.678 0.690 0.702 0.714 0.725 0.737 0.749 0.761 0.761 0.761 0.761 0.761 0.761 0.761"/><feFuncB type="table" tableValues="0.667 0.667 0.667 0.667 0.667 0.667 0.667 0.678 0.690 0.702 0.714 0.725 0.737 0.749 0.761 0.761 0.761 0.761 0.761 0.761 0.761"/></feComponentTransfer><feComposite in="t" in2="SourceGraphic" operator="in"/></filter>
<filter id="is_10_14_100" x="0" y="0" width="100%" height="100%" color-interpolation-filters="sRGB"><feTurbulence type="fractalNoise" baseFrequency="0.7 0.12" numOctaves="2" seed="10" result="n"/><feColorMatrix in="n" type="matrix" values="1 0 0 0 0  1 0 0 0 0  1 0 0 0 0  0 0 0 0 1" result="g"/><feComponentTransfer in="g" result="t"><feFuncR type="table" tableValues="0.643 0.643 0.643 0.643 0.643 0.643 0.643 0.654 0.665 0.675 0.686 0.697 0.708 0.719 0.729 0.729 0.729 0.729 0.729 0.729 0.729"/><feFuncG type="table" tableValues="0.643 0.643 0.643 0.643 0.643 0.643 0.643 0.654 0.665 0.675 0.686 0.697 0.708 0.719 0.729 0.729 0.729 0.729 0.729 0.729 0.729"/><feFuncB type="table" tableValues="0.643 0.643 0.643 0.643 0.643 0.643 0.643 0.654 0.665 0.675 0.686 0.697 0.708 0.719 0.729 0.729 0.729 0.729 0.729 0.729 0.729"/></feComponentTransfer><feComposite in="t" in2="SourceGraphic" operator="in"/></filter>
<filter id="onl_10_32_95" x="0" y="0" width="100%" height="100%" color-interpolation-filters="sRGB"><feTurbulence type="fractalNoise" baseFrequency="0.68" numOctaves="1" seed="10" result="n"/><feColorMatrix in="n" type="matrix" values="1 0 0 0 0  1 0 0 0 0  1 0 0 0 0  0 0 0 0 1" result="g"/><feComponentTransfer in="g" result="t"><feFuncR type="table" tableValues="0.069 0.069 0.069 0.069 0.069 0.069 0.069 0.069 0.069 0.191 0.338 0.484 0.631 0.685 0.685 0.685 0.685 0.685 0.685 0.685 0.685"/><feFuncG type="table" tableValues="0.069 0.069 0.069 0.069 0.069 0.069 0.069 0.069 0.069 0.191 0.338 0.484 0.631 0.685 0.685 0.685 0.685 0.685 0.685 0.685 0.685"/><feFuncB type="table" tableValues="0.069 0.069 0.069 0.069 0.069 0.069 0.069 0.069 0.069 0.191 0.338 0.484 0.631 0.685 0.685 0.685 0.685 0.685 0.685 0.685 0.685"/></feComponentTransfer><feComposite in="t" in2="SourceGraphic" operator="in"/></filter>
<filter id="opl_10_15_100" x="0" y="0" width="100%" height="100%" color-interpolation-filters="sRGB"><feTurbulence type="fractalNoise" baseFrequency="0.7" numOctaves="2" seed="10" result="n"/><feColorMatrix in="n" type="matrix" values="1 0 0 0 0  1 0 0 0 0  1 0 0 0 0  0 0 0 0 1" result="g"/><feComponentTransfer in="g" result="t"><feFuncR type="table" tableValues="0.655 0.655 0.655 0.655 0.655 0.655 0.667 0.680 0.693 0.705 0.718 0.730 0.743 0.755 0.768 0.780 0.780 0.780 0.780 0.780 0.780"/><feFuncG type="table" tableValues="0.655 0.655 0.655 0.655 0.655 0.655 0.667 0.680 0.693 0.705 0.718 0.730 0.743 0.755 0.768 0.780 0.780 0.780 0.780 0.780 0.780"/><feFuncB type="table" tableValues="0.655 0.655 0.655 0.655 0.655 0.655 0.667 0.680 0.693 0.705 0.718 0.730 0.743 0.755 0.768 0.780 0.780 0.780 0.780 0.780 0.780"/></feComponentTransfer><feComposite in="t" in2="SourceGraphic" operator="in"/></filter>
<filter id="inl_10_10_90" x="0" y="0" width="100%" height="100%" color-interpolation-filters="sRGB"><feTurbulence type="fractalNoise" baseFrequency="0.5" numOctaves="2" seed="10" result="n"/><feColorMatrix in="n" type="matrix" values="1 0 0 0 0  1 0 0 0 0  1 0 0 0 0  0 0 0 0 1" result="g"/><feComponentTransfer in="g" result="t"><feFuncR type="table" tableValues="0.429 0.429 0.429 0.429 0.429 0.429 0.429 0.436 0.471 0.507 0.542 0.577 0.613 0.648 0.669 0.669 0.669 0.669 0.669 0.669 0.669"/><feFuncG type="table" tableValues="0.429 0.429 0.429 0.429 0.429 0.429 0.429 0.436 0.471 0.507 0.542 0.577 0.613 0.648 0.669 0.669 0.669 0.669 0.669 0.669 0.669"/><feFuncB type="table" tableValues="0.429 0.429 0.429 0.429 0.429 0.429 0.429 0.436 0.471 0.507 0.542 0.577 0.613 0.648 0.669 0.669 0.669 0.669 0.669 0.669 0.669"/></feComponentTransfer><feComposite in="t" in2="SourceGraphic" operator="in"/></filter>
<filter id="ipl_10_7_100" x="0" y="0" width="100%" height="100%" color-interpolation-filters="sRGB"><feTurbulence type="fractalNoise" baseFrequency="0.7" numOctaves="2" seed="10" result="n"/><feColorMatrix in="n" type="matrix" values="1 0 0 0 0  1 0 0 0 0  1 0 0 0 0  0 0 0 0 1" result="g"/><feComponentTransfer in="g" result="t"><feFuncR type="table" tableValues="0.710 0.710 0.710 0.710 0.710 0.710 0.719 0.729 0.738 0.747 0.757 0.766 0.776 0.785 0.795 0.804 0.804 0.804 0.804 0.804 0.804"/><feFuncG type="table" tableValues="0.710 0.710 0.710 0.710 0.710 0.710 0.719 0.729 0.738 0.747 0.757 0.766 0.776 0.785 0.795 0.804 0.804 0.804 0.804 0.804 0.804"/><feFuncB type="table" tableValues="0.710 0.710 0.710 0.710 0.710 0.710 0.719 0.729 0.738 0.747 0.757 0.766 0.776 0.785 0.795 0.804 0.804 0.804 0.804 0.804 0.804"/></feComponentTransfer><feComposite in="t" in2="SourceGraphic" operator="in"/></filter>
<filter id="rpe_11_0_100" x="0" y="0" width="100%" height="100%" color-interpolation-filters="sRGB"><feTurbulence type="fractalNoise" baseFrequency="0.06 0.45" numOctaves="2" seed="11" result="n"/><feColorMatrix in="n" type="matrix" values="1 0 0 0 0  1 0 0 0 0  1 0 0 0 0  0 0 0 0 1" result="g"/><feComponentTransfer in="g" result="t"><feFuncR type="table" tableValues="0.047 0.047 0.047 0.047 0.047 0.047 0.047 0.047 0.047 0.047 0.047 0.047 0.047 0.121 0.244 0.367 0.490 0.490 0.490 0.490 0.490"/><feFuncG type="table" tableValues="0.047 0.047 0.047 0.047 0.047 0.047 0.047 0.047 0.047 0.047 0.047 0.047 0.047 0.121 0.244 0.367 0.490 0.490 0.490 0.490 0.490"/><feFuncB type="table" tableValues="0.047 0.047 0.047 0.047 0.047 0.047 0.047 0.047 0.047 0.047 0.047 0.047 0.047 0.121 0.244 0.367 0.490 0.490 0.490 0.490 0.490"/></feComponentTransfer><feComposite in="t" in2="SourceGraphic" operator="in"/></filter>
<filter id="os_11_20_110" x="0" y="0" width="100%" height="100%" color-interpolation-filters="sRGB"><feTurbulence type="fractalNoise" baseFrequency="0.7 0.15" numOctaves="2" seed="11" result="n"/><feColorMatrix in="n" type="matrix" values="1 0 0 0 0  1 0 0 0 0  1 0 0 0 0  0 0 0 0 1" result="g"/><feComponentTransfer in="g" result="t"><feFuncR type="table" tableValues="0.733 0.733 0.733 0.733 0.733 0.733 0.733 0.745 0.758 0.771 0.784 0.797 0.810 0.823 0.836 0.836 0.836 0.836 0.836 0.836 0.836"/><feFuncG type="table" tableValues="0.733 0.733 0.733 0.733 0.733 0.733 0.733 0.745 0.758 0.771 0.784 0.797 0.810 0.823 0.836 0.836 0.836 0.836 0.836 0.836 0.836"/><feFuncB type="table" tableValues="0.733 0.733 0.733 0.733 0.733 0.733 0.733 0.745 0.758 0.771 0.784 0.797 0.810 0.823 0.836 0.836 0.836 0.836 0.836 0.836 0.836"/></feComponentTransfer><feComposite in="t" in2="SourceGraphic" operator="in"/></filter>
<filter id="is_11_10_100" x="0" y="0" width="100%" height="100%" color-interpolation-filters="sRGB"><feTurbulence type="fractalNoise" baseFrequency="0.7 0.12" numOctaves="2" seed="11" result="n"/><feColorMatrix in="n" type="matrix" values="1 0 0 0 0  1 0 0 0 0  1 0 0 0 0  0 0 0 0 1" result="g"/><feComponentTransfer in="g" result="t"><feFuncR type="table" tableValues="0.627 0.627 0.627 0.627 0.627 0.627 0.627 0.638 0.649 0.660 0.671 0.681 0.692 0.703 0.714 0.714 0.714 0.714 0.714 0.714 0.714"/><feFuncG type="table" tableValues="0.627 0.627 0.627 0.627 0.627 0.627 0.627 0.638 0.649 0.660 0.671 0.681 0.692 0.703 0.714 0.714 0.714 0.714 0.714 0.714 0.714"/><feFuncB type="table" tableValues="0.627 0.627 0.627 0.627 0.627 0.627 0.627 0.638 0.649 0.660 0.671 0.681 0.692 0.703 0.714 0.714 0.714 0.714 0.714 0.714 0.714"/></feComponentTransfer><feComposite in="t" in2="SourceGraphic" operator="in"/></filter>
<filter id="onl_11_20_110" x="0" y="0" width="100%" height="100%" color-interpolation-filters="sRGB"><feTurbulence type="fractalNoise" baseFrequency="0.68" numOctaves="1" seed="11" result="n"/><feColorMatrix in="n" type="matrix" values="1 0 0 0 0  1 0 0 0 0  1 0 0 0 0  0 0 0 0 1" result="g"/><feComponentTransfer in="g" result="t"><feFuncR type="table" tableValues="0.055 0.055 0.055 0.055 0.055 0.055 0.055 0.055 0.055 0.131 0.278 0.424 0.571 0.671 0.671 0.671 0.671 0.671 0.671 0.671 0.671"/><feFuncG type="table" tableValues="0.055 0.055 0.055 0.055 0.055 0.055 0.055 0.055 0.055 0.131 0.278 0.424 0.571 0.671 0.671 0.671 0.671 0.671 0.671 0.671 0.671"/><feFuncB type="table" tableValues="0.055 0.055 0.055 0.055 0.055 0.055 0.055 0.055 0.055 0.131 0.278 0.424 0.571 0.671 0.671 0.671 0.671 0.671 0.671 0.671 0.671"/></feComponentTransfer><feComposite in="t" in2="SourceGraphic" operator="in"/></filter>
<filter id="opl_11_15_100" x="0" y="0" width="100%" height="100%" color-interpolation-filters="sRGB"><feTurbulence type="fractalNoise" baseFrequency="0.7" numOctaves="2" seed="11" result="n"/><feColorMatrix in="n" type="matrix" values="1 0 0 0 0  1 0 0 0 0  1 0 0 0 0  0 0 0 0 1" result="g"/><feComponentTransfer in="g" result="t"><feFuncR type="table" tableValues="0.655 0.655 0.655 0.655 0.655 0.655 0.667 0.680 0.693 0.705 0.718 0.730 0.743 0.755 0.768 0.780 0.780 0.780 0.780 0.780 0.780"/><feFuncG type="table" tableValues="0.655 0.655 0.655 0.655 0.655 0.655 0.667 0.680 0.693 0.705 0.718 0.730 0.743 0.755 0.768 0.780 0.780 0.780 0.780 0.780 0.780"/><feFuncB type="table" tableValues="0.655 0.655 0.655 0.655 0.655 0.655 0.667 0.680 0.693 0.705 0.718 0.730 0.743 0.755 0.768 0.780 0.780 0.780 0.780 0.780 0.780"/></feComponentTransfer><feComposite in="t" in2="SourceGraphic" operator="in"/></filter>
<filter id="inl_11_15_90" x="0" y="0" width="100%" height="100%" color-interpolation-filters="sRGB"><feTurbulence type="fractalNoise" baseFrequency="0.5" numOctaves="2" seed="11" result="n"/><feColorMatrix in="n" type="matrix" values="1 0 0 0 0  1 0 0 0 0  1 0 0 0 0  0 0 0 0 1" result="g"/><feComponentTransfer in="g" result="t"><feFuncR type="table" tableValues="0.449 0.449 0.449 0.449 0.449 0.449 0.449 0.456 0.491 0.526 0.562 0.597 0.632 0.667 0.689 0.689 0.689 0.689 0.689 0.689 0.689"/><feFuncG type="table" tableValues="0.449 0.449 0.449 0.449 0.449 0.449 0.449 0.456 0.491 0.526 0.562 0.597 0.632 0.667 0.689 0.689 0.689 0.689 0.689 0.689 0.689"/><feFuncB type="table" tableValues="0.449 0.449 0.449 0.449 0.449 0.449 0.449 0.456 0.491 0.526 0.562 0.597 0.632 0.667 0.689 0.689 0.689 0.689 0.689 0.689 0.689"/></feComponentTransfer><feComposite in="t" in2="SourceGraphic" operator="in"/></filter>
<filter id="ipl_11_21_100" x="0" y="0" width="100%" height="100%" color-interpolation-filters="sRGB"><feTurbulence type="fractalNoise" baseFrequency="0.7" numOctaves="2" seed="11" result="n"/><feColorMatrix in="n" type="matrix" values="1 0 0 0 0  1 0 0 0 0  1 0 0 0 0  0 0 0 0 1" result="g"/><feComponentTransfer in="g" result="t"><feFuncR type="table" tableValues="0.765 0.765 0.765 0.765 0.765 0.765 0.774 0.784 0.793 0.802 0.812 0.821 0.831 0.840 0.849 0.859 0.859 0.859 0.859 0.859 0.859"/><feFuncG type="table" tableValues="0.765 0.765 0.765 0.765 0.765 0.765 0.774 0.784 0.793 0.802 0.812 0.821 0.831 0.840 0.849 0.859 0.859 0.859 0.859 0.859 0.859"/><feFuncB type="table" tableValues="0.765 0.765 0.765 0.765 0.765 0.765 0.774 0.784 0.793 0.802 0.812 0.821 0.831 0.840 0.849 0.859 0.859 0.859 0.859 0.859 0.859"/></feComponentTransfer><feComposite in="t" in2="SourceGraphic" operator="in"/></filter>
<filter id="gcl_11_22_60" x="0" y="0" width="100%" height="100%" color-interpolation-filters="sRGB"><feTurbulence type="fractalNoise" baseFrequency="0.40" numOctaves="2" seed="11" result="n"/><feColorMatrix in="n" type="matrix" values="1 0 0 0 0  1 0 0 0 0  1 0 0 0 0  0 0 0 0 1" result="g"/><feComponentTransfer in="g" result="t"><feFuncR type="table" tableValues="0.663 0.663 0.663 0.663 0.663 0.663 0.663 0.663 0.693 0.723 0.754 0.784 0.814 0.845 0.863 0.863 0.863 0.863 0.863 0.863 0.863"/><feFuncG type="table" tableValues="0.663 0.663 0.663 0.663 0.663 0.663 0.663 0.663 0.693 0.723 0.754 0.784 0.814 0.845 0.863 0.863 0.863 0.863 0.863 0.863 0.863"/><feFuncB type="table" tableValues="0.663 0.663 0.663 0.663 0.663 0.663 0.663 0.663 0.693 0.723 0.754 0.784 0.814 0.845 0.863 0.863 0.863 0.863 0.863 0.863 0.863"/></feComponentTransfer><feComposite in="t" in2="SourceGraphic" operator="in"/></filter>
<filter id="bot_11_0_100" x="0" y="0" width="100%" height="100%" color-interpolation-filters="sRGB"><feTurbulence type="fractalNoise" baseFrequency="0.30" numOctaves="2" seed="11" result="n"/><feColorMatrix in="n" type="matrix" values="1 0 0 0 0  1 0 0 0 0  1 0 0 0 0  0 0 0 0 1" result="g"/><feComponentTransfer in="g" result="t"><feFuncR type="table" tableValues="0.843 0.843 0.843 0.843 0.843 0.843 0.843 0.855 0.868 0.880 0.892 0.904 0.917 0.929 0.941 0.941 0.941 0.941 0.941 0.941 0.941"/><feFuncG type="table" tableValues="0.843 0.843 0.843 0.843 0.843 0.843 0.843 0.855 0.868 0.880 0.892 0.904 0.917 0.929 0.941 0.941 0.941 0.941 0.941 0.941 0.941"/><feFuncB type="table" tableValues="0.843 0.843 0.843 0.843 0.843 0.843 0.843 0.855 0.868 0.880 0.892 0.904 0.917 0.929 0.941 0.941 0.941 0.941 0.941 0.941 0.941"/></feComponentTransfer><feComposite in="t" in2="SourceGraphic" operator="in"/></filter>
<filter id="rpe_12_5_100" x="0" y="0" width="100%" height="100%" color-interpolation-filters="sRGB"><feTurbulence type="fractalNoise" baseFrequency="0.06 0.45" numOctaves="2" seed="12" result="n"/><feColorMatrix in="n" type="matrix" values="1 0 0 0 0  1 0 0 0 0  1 0 0 0 0  0 0 0 0 1" result="g"/><feComponentTransfer in="g" result="t"><feFuncR type="table" tableValues="0.067 0.067 0.067 0.067 0.067 0.067 0.067 0.067 0.067 0.067 0.067 0.067 0.067 0.141 0.264 0.387 0.510 0.510 0.510 0.510 0.510"/><feFuncG type="table" tableValues="0.067 0.067 0.067 0.067 0.067 0.067 0.067 0.067 0.067 0.067 0.067 0.067 0.067 0.141 0.264 0.387 0.510 0.510 0.510 0.510 0.510"/><feFuncB type="table" tableValues="0.067 0.067 0.067 0.067 0.067 0.067 0.067 0.067 0.067 0.067 0.067 0.067 0.067 0.141 0.264 0.387 0.510 0.510 0.510 0.510 0.510"/></feComponentTransfer><feComposite in="t" in2="SourceGraphic" operator="in"/></filter>
<filter id="os_12_8_100" x="0" y="0" width="100%" height="100%" color-interpolation-filters="sRGB"><feTurbulence type="fractalNoise" baseFrequency="0.7 0.15" numOctaves="2" seed="12" result="n"/><feColorMatrix in="n" type="matrix" values="1 0 0 0 0  1 0 0 0 0  1 0 0 0 0  0 0 0 0 1" result="g"/><feComponentTransfer in="g" result="t"><feFuncR type="table" tableValues="0.690 0.690 0.690 0.690 0.690 0.690 0.690 0.702 0.714 0.725 0.737 0.749 0.761 0.773 0.784 0.784 0.784 0.784 0.784 0.784 0.784"/><feFuncG type="table" tableValues="0.690 0.690 0.690 0.690 0.690 0.690 0.690 0.702 0.714 0.725 0.737 0.749 0.761 0.773 0.784 0.784 0.784 0.784 0.784 0.784 0.784"/><feFuncB type="table" tableValues="0.690 0.690 0.690 0.690 0.690 0.690 0.690 0.702 0.714 0.725 0.737 0.749 0.761 0.773 0.784 0.784 0.784 0.784 0.784 0.784 0.784"/></feComponentTransfer><feComposite in="t" in2="SourceGraphic" operator="in"/></filter>
<filter id="is_12_5_100" x="0" y="0" width="100%" height="100%" color-interpolation-filters="sRGB"><feTurbulence type="fractalNoise" baseFrequency="0.7 0.12" numOctaves="2" seed="12" result="n"/><feColorMatrix in="n" type="matrix" values="1 0 0 0 0  1 0 0 0 0  1 0 0 0 0  0 0 0 0 1" result="g"/><feComponentTransfer in="g" result="t"><feFuncR type="table" tableValues="0.608 0.608 0.608 0.608 0.608 0.608 0.608 0.619 0.629 0.640 0.651 0.662 0.673 0.683 0.694 0.694 0.694 0.694 0.694 0.694 0.694"/><feFuncG type="table" tableValues="0.608 0.608 0.608 0.608 0.608 0.608 0.608 0.619 0.629 0.640 0.651 0.662 0.673 0.683 0.694 0.694 0.694 0.694 0.694 0.694 0.694"/><feFuncB type="table" tableValues="0.608 0.608 0.608 0.608 0.608 0.608 0.608 0.619 0.629 0.640 0.651 0.662 0.673 0.683 0.694 0.694 0.694 0.694 0.694 0.694 0.694"/></feComponentTransfer><feComposite in="t" in2="SourceGraphic" operator="in"/></filter>
<filter id="onl_12_24_110" x="0" y="0" width="100%" height="100%" color-interpolation-filters="sRGB"><feTurbulence type="fractalNoise" baseFrequency="0.68" numOctaves="1" seed="12" result="n"/><feColorMatrix in="n" type="matrix" values="1 0 0 0 0  1 0 0 0 0  1 0 0 0 0  0 0 0 0 1" result="g"/><feComponentTransfer in="g" result="t"><feFuncR type="table" tableValues="0.060 0.060 0.060 0.060 0.060 0.060 0.060 0.060 0.060 0.151 0.298 0.444 0.591 0.675 0.675 0.675 0.675 0.675 0.675 0.675 0.675"/><feFuncG type="table" tableValues="0.060 0.060 0.060 0.060 0.060 0.060 0.060 0.060 0.060 0.151 0.298 0.444 0.591 0.675 0.675 0.675 0.675 0.675 0.675 0.675 0.675"/><feFuncB type="table" tableValues="0.060 0.060 0.060 0.060 0.060 0.060 0.060 0.060 0.060 0.151 0.298 0.444 0.591 0.675 0.675 0.675 0.675 0.675 0.675 0.675 0.675"/></feComponentTransfer><feComposite in="t" in2="SourceGraphic" operator="in"/></filter>
<filter id="opl_12_4_100" x="0" y="0" width="100%" height="100%" color-interpolation-filters="sRGB"><feTurbulence type="fractalNoise" baseFrequency="0.7" numOctaves="2" seed="12" result="n"/><feColorMatrix in="n" type="matrix" values="1 0 0 0 0  1 0 0 0 0  1 0 0 0 0  0 0 0 0 1" result="g"/><feComponentTransfer in="g" result="t"><feFuncR type="table" tableValues="0.612 0.612 0.612 0.612 0.612 0.612 0.624 0.637 0.649 0.662 0.675 0.687 0.700 0.712 0.725 0.737 0.737 0.737 0.737 0.737 0.737"/><feFuncG type="table" tableValues="0.612 0.612 0.612 0.612 0.612 0.612 0.624 0.637 0.649 0.662 0.675 0.687 0.700 0.712 0.725 0.737 0.737 0.737 0.737 0.737 0.737"/><feFuncB type="table" tableValues="0.612 0.612 0.612 0.612 0.612 0.612 0.624 0.637 0.649 0.662 0.675 0.687 0.700 0.712 0.725 0.737 0.737 0.737 0.737 0.737 0.737"/></feComponentTransfer><feComposite in="t" in2="SourceGraphic" operator="in"/></filter>
<filter id="inl_12_5_85" x="0" y="0" width="100%" height="100%" color-interpolation-filters="sRGB"><feTurbulence type="fractalNoise" baseFrequency="0.5" numOctaves="2" seed="12" result="n"/><feColorMatrix in="n" type="matrix" values="1 0 0 0 0  1 0 0 0 0  1 0 0 0 0  0 0 0 0 1" result="g"/><feComponentTransfer in="g" result="t"><feFuncR type="table" tableValues="0.416 0.416 0.416 0.416 0.416 0.416 0.416 0.423 0.456 0.489 0.523 0.556 0.589 0.623 0.643 0.643 0.643 0.643 0.643 0.643 0.643"/><feFuncG type="table" tableValues="0.416 0.416 0.416 0.416 0.416 0.416 0.416 0.423 0.456 0.489 0.523 0.556 0.589 0.623 0.643 0.643 0.643 0.643 0.643 0.643 0.643"/><feFuncB type="table" tableValues="0.416 0.416 0.416 0.416 0.416 0.416 0.416 0.423 0.456 0.489 0.523 0.556 0.589 0.623 0.643 0.643 0.643 0.643 0.643 0.643 0.643"/></feComponentTransfer><feComposite in="t" in2="SourceGraphic" operator="in"/></filter>
<filter id="ipl_12_-5_100" x="0" y="0" width="100%" height="100%" color-interpolation-filters="sRGB"><feTurbulence type="fractalNoise" baseFrequency="0.7" numOctaves="2" seed="12" result="n"/><feColorMatrix in="n" type="matrix" values="1 0 0 0 0  1 0 0 0 0  1 0 0 0 0  0 0 0 0 1" result="g"/><feComponentTransfer in="g" result="t"><feFuncR type="table" tableValues="0.663 0.663 0.663 0.663 0.663 0.663 0.672 0.682 0.691 0.700 0.710 0.719 0.729 0.738 0.747 0.757 0.757 0.757 0.757 0.757 0.757"/><feFuncG type="table" tableValues="0.663 0.663 0.663 0.663 0.663 0.663 0.672 0.682 0.691 0.700 0.710 0.719 0.729 0.738 0.747 0.757 0.757 0.757 0.757 0.757 0.757"/><feFuncB type="table" tableValues="0.663 0.663 0.663 0.663 0.663 0.663 0.672 0.682 0.691 0.700 0.710 0.719 0.729 0.738 0.747 0.757 0.757 0.757 0.757 0.757 0.757"/></feComponentTransfer><feComposite in="t" in2="SourceGraphic" operator="in"/></filter>
<filter id="gcl_12_-12_55" x="0" y="0" width="100%" height="100%" color-interpolation-filters="sRGB"><feTurbulence type="fractalNoise" baseFrequency="0.40" numOctaves="2" seed="12" result="n"/><feColorMatrix in="n" type="matrix" values="1 0 0 0 0  1 0 0 0 0  1 0 0 0 0  0 0 0 0 1" result="g"/><feComponentTransfer in="g" result="t"><feFuncR type="table" tableValues="0.538 0.538 0.538 0.538 0.538 0.538 0.538 0.538 0.566 0.593 0.621 0.649 0.677 0.704 0.721 0.721 0.721 0.721 0.721 0.721 0.721"/><feFuncG type="table" tableValues="0.538 0.538 0.538 0.538 0.538 0.538 0.538 0.538 0.566 0.593 0.621 0.649 0.677 0.704 0.721 0.721 0.721 0.721 0.721 0.721 0.721"/><feFuncB type="table" tableValues="0.538 0.538 0.538 0.538 0.538 0.538 0.538 0.538 0.566 0.593 0.621 0.649 0.677 0.704 0.721 0.721 0.721 0.721 0.721 0.721 0.721"/></feComponentTransfer><feComposite in="t" in2="SourceGraphic" operator="in"/></filter>
<filter id="ipl_12_6_100" x="0" y="0" width="100%" height="100%" color-interpolation-filters="sRGB"><feTurbulence type="fractalNoise" baseFrequency="0.7" numOctaves="2" seed="12" result="n"/><feColorMatrix in="n" type="matrix" values="1 0 0 0 0  1 0 0 0 0  1 0 0 0 0  0 0 0 0 1" result="g"/><feComponentTransfer in="g" result="t"><feFuncR type="table" tableValues="0.706 0.706 0.706 0.706 0.706 0.706 0.715 0.725 0.734 0.744 0.753 0.762 0.772 0.781 0.791 0.800 0.800 0.800 0.800 0.800 0.800"/><feFuncG type="table" tableValues="0.706 0.706 0.706 0.706 0.706 0.706 0.715 0.725 0.734 0.744 0.753 0.762 0.772 0.781 0.791 0.800 0.800 0.800 0.800 0.800 0.800"/><feFuncB type="table" tableValues="0.706 0.706 0.706 0.706 0.706 0.706 0.715 0.725 0.734 0.744 0.753 0.762 0.772 0.781 0.791 0.800 0.800 0.800 0.800 0.800 0.800"/></feComponentTransfer><feComposite in="t" in2="SourceGraphic" operator="in"/></filter>
<clipPath id="cp00"><rect x="19.50" y="37.80" width="100.3" height="100.0"/></clipPath>
<clipPath id="cp01"><rect x="127.22" y="37.80" width="100.3" height="100.0"/></clipPath>
<clipPath id="cp02"><rect x="234.94" y="37.80" width="100.3" height="100.0"/></clipPath>
<clipPath id="cp03"><rect x="342.66" y="37.80" width="100.3" height="100.0"/></clipPath>
<clipPath id="cp04"><rect x="450.38" y="37.80" width="100.3" height="100.0"/></clipPath>
<clipPath id="cp05"><rect x="558.10" y="37.80" width="100.3" height="100.0"/></clipPath>
<clipPath id="cp10"><rect x="19.50" y="142.00" width="100.3" height="100.0"/></clipPath>
<clipPath id="cp11"><rect x="127.22" y="142.00" width="100.3" height="100.0"/></clipPath>
<clipPath id="cp12"><rect x="234.94" y="142.00" width="100.3" height="100.0"/></clipPath>
<clipPath id="cp13"><rect x="342.66" y="142.00" width="100.3" height="100.0"/></clipPath>
<clipPath id="cp14"><rect x="450.38" y="142.00" width="100.3" height="100.0"/></clipPath>
<clipPath id="cp15"><rect x="558.10" y="142.00" width="100.3" height="100.0"/></clipPath>

</defs>
<rect width="659" height="685" fill="#fff"/>
<g clip-path="url(#cp00)"><g filter="url(#soft)">
<rect x="19.50" y="37.80" width="100.3" height="100.0" fill="#aaa"/>
<path d="M16.50,33.80 C20.93,33.80 34.22,33.80 43.08,33.80 C51.93,33.80 60.79,33.80 69.65,33.80 C78.51,33.80 87.37,33.80 96.22,33.80 C105.08,33.80 118.37,33.80 122.80,33.80 L122.80,42.30 C118.37,42.08 105.08,41.08 96.22,41.00 C87.37,40.92 78.51,41.75 69.65,41.80 C60.79,41.85 51.93,41.30 43.08,41.30 C34.22,41.30 20.93,41.72 16.50,41.80 Z" fill="#888" filter="url(#rpe_1_0_100)"/>
<path d="M16.50,41.80 C20.93,41.72 34.22,41.30 43.08,41.30 C51.93,41.30 60.79,41.85 69.65,41.80 C78.51,41.75 87.37,40.92 96.22,41.00 C105.08,41.08 118.37,42.08 122.80,42.30 L122.80,51.80 C118.37,51.80 105.08,51.80 96.22,51.80 C87.37,51.80 78.51,51.80 69.65,51.80 C60.79,51.80 51.93,51.80 43.08,51.80 C34.22,51.80 20.93,51.80 16.50,51.80 Z" fill="#888" filter="url(#os_1_-20_100)"/>
<path d="M16.50,51.80 C20.93,51.80 34.22,51.80 43.08,51.80 C51.93,51.80 60.79,51.80 69.65,51.80 C78.51,51.80 87.37,51.80 96.22,51.80 C105.08,51.80 118.37,51.80 122.80,51.80 L122.80,57.80 C118.37,57.63 105.08,57.05 96.22,56.80 C87.37,56.55 78.51,56.22 69.65,56.30 C60.79,56.38 51.93,57.05 43.08,57.30 C34.22,57.55 20.93,57.72 16.50,57.80 Z" fill="#888" filter="url(#is_1_10_100)"/>
<path d="M16.50,57.80 C20.93,57.72 34.22,57.55 43.08,57.30 C51.93,57.05 60.79,56.38 69.65,56.30 C78.51,56.22 87.37,56.55 96.22,56.80 C105.08,57.05 118.37,57.63 122.80,57.80 L122.80,91.80 C118.37,91.38 105.08,89.88 96.22,89.30 C87.37,88.72 78.51,88.05 69.65,88.30 C60.79,88.55 51.93,90.63 43.08,90.80 C34.22,90.97 20.93,89.55 16.50,89.30 Z" fill="#888" filter="url(#onl_1_0_100)"/>
<path d="M16.50,89.30 C20.93,89.55 34.22,90.97 43.08,90.80 C51.93,90.63 60.79,88.55 69.65,88.30 C78.51,88.05 87.37,88.72 96.22,89.30 C105.08,89.88 118.37,91.38 122.80,91.80 L122.80,99.80 C118.37,99.47 105.08,98.30 96.22,97.80 C87.37,97.30 78.51,96.80 69.65,96.80 C60.79,96.80 51.93,97.63 43.08,97.80 C34.22,97.97 20.93,97.80 16.50,97.80 Z" fill="#888" filter="url(#opl_1_-8_100)"/>
<path d="M16.50,97.80 C20.93,97.80 34.22,97.97 43.08,97.80 C51.93,97.63 60.79,96.80 69.65,96.80 C78.51,96.80 87.37,97.30 96.22,97.80 C105.08,98.30 118.37,99.47 122.80,99.80 L122.80,127.80 C118.37,127.55 105.08,126.63 96.22,126.30 C87.37,125.97 78.51,125.72 69.65,125.80 C60.79,125.88 51.93,126.47 43.08,126.80 C34.22,127.13 20.93,127.63 16.50,127.80 Z" fill="#888" filter="url(#inl_1_-8_100)"/>
<path d="M16.50,127.80 C20.93,127.63 34.22,127.13 43.08,126.80 C51.93,126.47 60.79,125.88 69.65,125.80 C78.51,125.72 87.37,125.97 96.22,126.30 C105.08,126.63 118.37,127.55 122.80,127.80 L122.80,141.80 C118.37,141.80 105.08,141.80 96.22,141.80 C87.37,141.80 78.51,141.80 69.65,141.80 C60.79,141.80 51.93,141.80 43.08,141.80 C34.22,141.80 20.93,141.80 16.50,141.80 Z" fill="#888" filter="url(#ipl_1_-10_100)"/>
</g></g>
<g clip-path="url(#cp01)"><g filter="url(#soft)">
<rect x="127.22" y="37.80" width="100.3" height="100.0" fill="#aaa"/>
<path d="M124.22,33.80 C128.65,33.80 141.94,33.80 150.79,33.80 C159.65,33.80 168.51,33.80 177.37,33.80 C186.23,33.80 195.09,33.80 203.94,33.80 C212.80,33.80 226.09,33.80 230.52,33.80 L230.52,42.80 C226.09,42.55 212.80,41.63 203.94,41.30 C195.09,40.97 186.23,40.88 177.37,40.80 C168.51,40.72 159.65,40.72 150.79,40.80 C141.94,40.88 128.65,41.22 124.22,41.30 Z" fill="#888" filter="url(#rpe_2_0_100)"/>
<path d="M124.22,41.30 C128.65,41.22 141.94,40.88 150.79,40.80 C159.65,40.72 168.51,40.72 177.37,40.80 C186.23,40.88 195.09,40.97 203.94,41.30 C212.80,41.63 226.09,42.55 230.52,42.80 L230.52,49.80 C226.09,49.80 212.80,49.80 203.94,49.80 C195.09,49.80 186.23,49.80 177.37,49.80 C168.51,49.80 159.65,49.80 150.79,49.80 C141.94,49.80 128.65,49.80 124.22,49.80 Z" fill="#888" filter="url(#os_2_0_100)"/>
<path d="M124.22,49.80 C128.65,49.80 141.94,49.80 150.79,49.80 C159.65,49.80 168.51,49.80 177.37,49.80 C186.23,49.80 195.09,49.80 203.94,49.80 C212.80,49.80 226.09,49.80 230.52,49.80 L230.52,57.30 C226.09,57.30 212.80,57.30 203.94,57.30 C195.09,57.30 186.23,57.30 177.37,57.30 C168.51,57.30 159.65,57.30 150.79,57.30 C141.94,57.30 128.65,57.30 124.22,57.30 Z" fill="#888" filter="url(#is_2_0_100)"/>
<path d="M124.22,57.30 C128.65,57.30 141.94,57.30 150.79,57.30 C159.65,57.30 168.51,57.30 177.37,57.30 C186.23,57.30 195.09,57.30 203.94,57.30 C212.80,57.30 226.09,57.30 230.52,57.30 L230.52,88.30 C226.09,88.05 212.80,87.30 203.94,86.80 C195.09,86.30 186.23,85.13 177.37,85.30 C168.51,85.47 159.65,87.30 150.79,87.80 C141.94,88.30 128.65,88.22 124.22,88.30 Z" fill="#888" filter="url(#onl_2_0_100)"/>
<path d="M124.22,88.30 C128.65,88.22 141.94,88.30 150.79,87.80 C159.65,87.30 168.51,85.47 177.37,85.30 C186.23,85.13 195.09,86.30 203.94,86.80 C212.80,87.30 226.09,88.05 230.52,88.30 L230.52,97.80 C226.09,97.47 212.80,96.30 203.94,95.80 C195.09,95.30 186.23,94.63 177.37,94.80 C168.51,94.97 159.65,96.38 150.79,96.80 C141.94,97.22 128.65,97.22 124.22,97.30 Z" fill="#888" filter="url(#opl_2_0_100)"/>
<path d="M124.22,97.30 C128.65,97.22 141.94,97.22 150.79,96.80 C159.65,96.38 168.51,94.97 177.37,94.80 C186.23,94.63 195.09,95.30 203.94,95.80 C212.80,96.30 226.09,97.47 230.52,97.80 L230.52,112.80 C226.09,112.80 212.80,112.63 203.94,112.80 C195.09,112.97 186.23,113.47 177.37,113.80 C168.51,114.13 159.65,114.80 150.79,114.80 C141.94,114.80 128.65,113.97 124.22,113.80 Z" fill="#888" filter="url(#inl_2_-5_100)"/>
<path d="M124.22,113.80 C128.65,113.97 141.94,114.80 150.79,114.80 C159.65,114.80 168.51,114.13 177.37,113.80 C186.23,113.47 195.09,112.97 203.94,112.80 C212.80,112.63 226.09,112.80 230.52,112.80 L230.52,127.80 C226.09,127.97 212.80,128.63 203.94,128.80 C195.09,128.97 186.23,128.63 177.37,128.80 C168.51,128.97 159.65,129.80 150.79,129.80 C141.94,129.80 128.65,128.97 124.22,128.80 Z" fill="#888" filter="url(#inl2_2_0_100)"/>
<path d="M124.22,128.80 C128.65,128.97 141.94,129.80 150.79,129.80 C159.65,129.80 168.51,128.97 177.37,128.80 C186.23,128.63 195.09,128.97 203.94,128.80 C212.80,128.63 226.09,127.97 230.52,127.80 L230.52,141.80 C226.09,141.80 212.80,141.80 203.94,141.80 C195.09,141.80 186.23,141.80 177.37,141.80 C168.51,141.80 159.65,141.80 150.79,141.80 C141.94,141.80 128.65,141.80 124.22,141.80 Z" fill="#888" filter="url(#ipl_2_0_100)"/>
</g></g>
<g clip-path="url(#cp02)"><g filter="url(#soft)">
<rect x="234.94" y="37.80" width="100.3" height="100.0" fill="#aaa"/>
<path d="M231.94,33.80 C236.37,33.80 249.66,33.80 258.51,33.80 C267.37,33.80 276.23,33.80 285.09,33.80 C293.95,33.80 302.81,33.80 311.66,33.80 C320.52,33.80 333.81,33.80 338.24,33.80 L338.24,42.30 C333.81,42.05 320.52,41.22 311.66,40.80 C302.81,40.38 293.95,39.80 285.09,39.80 C276.23,39.80 267.37,40.38 258.51,40.80 C249.66,41.22 236.37,42.05 231.94,42.30 Z" fill="#888" filter="url(#rpe_3_0_100)"/>
<path d="M231.94,42.30 C236.37,42.05 249.66,41.22 258.51,40.80 C267.37,40.38 276.23,39.80 285.09,39.80 C293.95,39.80 302.81,40.38 311.66,40.80 C320.52,41.22 333.81,42.05 338.24,42.30 L338.24,48.80 C333.81,48.55 320.52,47.63 311.66,47.30 C302.81,46.97 293.95,46.80 285.09,46.80 C276.23,46.80 267.37,46.97 258.51,47.30 C249.66,47.63 236.37,48.55 231.94,48.80 Z" fill="#888" filter="url(#os_3_5_100)"/>
<path d="M231.94,48.80 C236.37,48.55 249.66,47.63 258.51,47.30 C267.37,46.97 276.23,46.80 285.09,46.80 C293.95,46.80 302.81,46.97 311.66,47.30 C320.52,47.63 333.81,48.55 338.24,48.80 L338.24,56.80 C333.81,56.47 320.52,55.22 311.66,54.80 C302.81,54.38 293.95,54.22 285.09,54.30 C276.23,54.38 267.37,54.97 258.51,55.30 C249.66,55.63 236.37,56.13 231.94,56.30 Z" fill="#888" filter="url(#is_3_0_100)"/>
<path d="M231.94,56.30 C236.37,56.13 249.66,55.63 258.51,55.30 C267.37,54.97 276.23,54.38 285.09,54.30 C293.95,54.22 302.81,54.38 311.66,54.80 C320.52,55.22 333.81,56.47 338.24,56.80 L338.24,81.80 C333.81,81.30 320.52,79.63 311.66,78.80 C302.81,77.97 293.95,76.72 285.09,76.80 C276.23,76.88 267.37,78.47 258.51,79.30 C249.66,80.13 236.37,81.38 231.94,81.80 Z" fill="#888" filter="url(#onl_3_16_100)"/>
<path d="M231.94,81.80 C236.37,81.38 249.66,80.13 258.51,79.30 C267.37,78.47 276.23,76.88 285.09,76.80 C293.95,76.72 302.81,77.97 311.66,78.80 C320.52,79.63 333.81,81.30 338.24,81.80 L338.24,88.80 C333.81,88.38 320.52,87.05 311.66,86.30 C302.81,85.55 293.95,84.22 285.09,84.30 C276.23,84.38 267.37,86.05 258.51,86.80 C249.66,87.55 236.37,88.47 231.94,88.80 Z" fill="#888" filter="url(#opl_3_5_100)"/>
<path d="M231.94,88.80 C236.37,88.47 249.66,87.55 258.51,86.80 C267.37,86.05 276.23,84.38 285.09,84.30 C293.95,84.22 302.81,85.55 311.66,86.30 C320.52,87.05 333.81,88.38 338.24,88.80 L338.24,112.30 C333.81,111.88 320.52,110.47 311.66,109.80 C302.81,109.13 293.95,108.13 285.09,108.30 C276.23,108.47 267.37,110.05 258.51,110.80 C249.66,111.55 236.37,112.47 231.94,112.80 Z" fill="#888" filter="url(#inl_3_-10_90)"/>
<path d="M231.94,112.80 C236.37,112.47 249.66,111.55 258.51,110.80 C267.37,110.05 276.23,108.47 285.09,108.30 C293.95,108.13 302.81,109.13 311.66,109.80 C320.52,110.47 333.81,111.88 338.24,112.30 L338.24,141.80 C333.81,141.80 320.52,141.80 311.66,141.80 C302.81,141.80 293.95,141.80 285.09,141.80 C276.23,141.80 267.37,141.80 258.51,141.80 C249.66,141.80 236.37,141.80 231.94,141.80 Z" fill="#888" filter="url(#ipl_3_8_100)"/>
</g></g>
<g clip-path="url(#cp03)"><g filter="url(#soft)">
<rect x="342.66" y="37.80" width="100.3" height="100.0" fill="#aaa"/>
<path d="M339.66,33.80 C344.09,33.80 357.38,33.80 366.23,33.80 C375.09,33.80 383.95,33.80 392.81,33.80 C401.67,33.80 410.53,33.80 419.38,33.80 C428.24,33.80 441.53,33.80 445.96,33.80 L445.96,42.40 C441.53,42.33 428.24,42.02 419.38,42.00 C410.53,41.98 401.67,42.23 392.81,42.30 C383.95,42.37 375.09,42.38 366.23,42.40 C357.38,42.42 344.09,42.40 339.66,42.40 Z" fill="#888" filter="url(#rpe_4_5_100)"/>
<path d="M339.66,42.40 C344.09,42.40 357.38,42.42 366.23,42.40 C375.09,42.38 383.95,42.37 392.81,42.30 C401.67,42.23 410.53,41.98 419.38,42.00 C428.24,42.02 441.53,42.33 445.96,42.40 L445.96,48.80 C441.53,48.80 428.24,48.80 419.38,48.80 C410.53,48.80 401.67,48.80 392.81,48.80 C383.95,48.80 375.09,48.80 366.23,48.80 C357.38,48.80 344.09,48.80 339.66,48.80 Z" fill="#888" filter="url(#os_4_5_100)"/>
<path d="M339.66,48.80 C344.09,48.80 357.38,48.80 366.23,48.80 C375.09,48.80 383.95,48.80 392.81,48.80 C401.67,48.80 410.53,48.80 419.38,48.80 C428.24,48.80 441.53,48.80 445.96,48.80 L445.96,55.30 C441.53,55.13 428.24,54.55 419.38,54.30 C410.53,54.05 401.67,53.80 392.81,53.80 C383.95,53.80 375.09,54.13 366.23,54.30 C357.38,54.47 344.09,54.72 339.66,54.80 Z" fill="#888" filter="url(#is_4_0_100)"/>
<path d="M339.66,54.80 C344.09,54.72 357.38,54.47 366.23,54.30 C375.09,54.13 383.95,53.80 392.81,53.80 C401.67,53.80 410.53,54.05 419.38,54.30 C428.24,54.55 441.53,55.13 445.96,55.30 L445.96,81.80 C441.53,81.47 428.24,80.30 419.38,79.80 C410.53,79.30 401.67,78.63 392.81,78.80 C383.95,78.97 375.09,80.22 366.23,80.80 C357.38,81.38 344.09,82.05 339.66,82.30 Z" fill="#888" filter="url(#onl_4_10_100)"/>
<path d="M339.66,82.30 C344.09,82.05 357.38,81.38 366.23,80.80 C375.09,80.22 383.95,78.97 392.81,78.80 C401.67,78.63 410.53,79.30 419.38,79.80 C428.24,80.30 441.53,81.47 445.96,81.80 L445.96,87.80 C441.53,87.63 428.24,87.13 419.38,86.80 C410.53,86.47 401.67,85.72 392.81,85.80 C383.95,85.88 375.09,86.88 366.23,87.30 C357.38,87.72 344.09,88.13 339.66,88.30 Z" fill="#888" filter="url(#opl_4_10_100)"/>
<path d="M339.66,88.30 C344.09,88.13 357.38,87.72 366.23,87.30 C375.09,86.88 383.95,85.88 392.81,85.80 C401.67,85.72 410.53,86.47 419.38,86.80 C428.24,87.13 441.53,87.63 445.96,87.80 L445.96,111.80 C441.53,111.63 428.24,110.97 419.38,110.80 C410.53,110.63 401.67,110.63 392.81,110.80 C383.95,110.97 375.09,111.47 366.23,111.80 C357.38,112.13 344.09,112.63 339.66,112.80 Z" fill="#888" filter="url(#inl_4_2_100)"/>
<path d="M339.66,112.80 C344.09,112.63 357.38,112.13 366.23,111.80 C375.09,111.47 383.95,110.97 392.81,110.80 C401.67,110.63 410.53,110.63 419.38,110.80 C428.24,110.97 441.53,111.63 445.96,111.80 L445.96,141.80 C441.53,141.80 428.24,141.80 419.38,141.80 C410.53,141.80 401.67,141.80 392.81,141.80 C383.95,141.80 375.09,141.80 366.23,141.80 C357.38,141.80 344.09,141.80 339.66,141.80 Z" fill="#888" filter="url(#ipl_4_7_100)"/>
</g></g>
<g clip-path="url(#cp04)"><g filter="url(#soft)">
<rect x="450.38" y="37.80" width="100.3" height="100.0" fill="#aaa"/>
<path d="M447.38,33.80 C451.81,33.80 465.10,33.80 473.95,33.80 C482.81,33.80 491.67,33.80 500.53,33.80 C509.39,33.80 518.25,33.80 527.11,33.80 C535.96,33.80 549.25,33.80 553.68,33.80 L553.68,41.40 C549.25,41.27 535.96,40.77 527.11,40.60 C518.25,40.43 509.39,40.40 500.53,40.40 C491.67,40.40 482.81,40.50 473.95,40.60 C465.10,40.70 451.81,40.93 447.38,41.00 Z" fill="#888" filter="url(#rpe_5_0_100)"/>
<path d="M447.38,41.00 C451.81,40.93 465.10,40.70 473.95,40.60 C482.81,40.50 491.67,40.40 500.53,40.40 C509.39,40.40 518.25,40.43 527.11,40.60 C535.96,40.77 549.25,41.27 553.68,41.40 L553.68,46.60 C549.25,46.60 535.96,46.60 527.11,46.60 C518.25,46.60 509.39,46.60 500.53,46.60 C491.67,46.60 482.81,46.60 473.95,46.60 C465.10,46.60 451.81,46.60 447.38,46.60 Z" fill="#888" filter="url(#os_5_5_100)"/>
<path d="M447.38,46.60 C451.81,46.60 465.10,46.60 473.95,46.60 C482.81,46.60 491.67,46.60 500.53,46.60 C509.39,46.60 518.25,46.60 527.11,46.60 C535.96,46.60 549.25,46.60 553.68,46.60 L553.68,53.80 C549.25,53.63 535.96,53.05 527.11,52.80 C518.25,52.55 509.39,52.38 500.53,52.30 C491.67,52.22 482.81,52.22 473.95,52.30 C465.10,52.38 451.81,52.72 447.38,52.80 Z" fill="#888" filter="url(#is_5_0_100)"/>
<path d="M447.38,52.80 C451.81,52.72 465.10,52.38 473.95,52.30 C482.81,52.22 491.67,52.22 500.53,52.30 C509.39,52.38 518.25,52.55 527.11,52.80 C535.96,53.05 549.25,53.63 553.68,53.80 L553.68,81.30 C549.25,81.05 535.96,80.30 527.11,79.80 C518.25,79.30 509.39,78.63 500.53,78.30 C491.67,77.97 482.81,78.13 473.95,77.80 C465.10,77.47 451.81,76.55 447.38,76.30 Z" fill="#888" filter="url(#onl_5_12_100)"/>
<path d="M447.38,76.30 C451.81,76.55 465.10,77.47 473.95,77.80 C482.81,78.13 491.67,77.97 500.53,78.30 C509.39,78.63 518.25,79.30 527.11,79.80 C535.96,80.30 549.25,81.05 553.68,81.30 L553.68,87.80 C549.25,87.38 535.96,85.97 527.11,85.30 C518.25,84.63 509.39,83.97 500.53,83.80 C491.67,83.63 482.81,84.30 473.95,84.30 C465.10,84.30 451.81,83.88 447.38,83.80 Z" fill="#888" filter="url(#opl_5_10_100)"/>
<path d="M447.38,83.80 C451.81,83.88 465.10,84.30 473.95,84.30 C482.81,84.30 491.67,83.63 500.53,83.80 C509.39,83.97 518.25,84.63 527.11,85.30 C535.96,85.97 549.25,87.38 553.68,87.80 L553.68,110.80 C549.25,110.30 535.96,108.72 527.11,107.80 C518.25,106.88 509.39,105.47 500.53,105.30 C491.67,105.13 482.81,106.63 473.95,106.80 C465.10,106.97 451.81,106.38 447.38,106.30 Z" fill="#888" filter="url(#inl_5_16_100)"/>
<path d="M447.38,106.30 C451.81,106.38 465.10,106.97 473.95,106.80 C482.81,106.63 491.67,105.13 500.53,105.30 C509.39,105.47 518.25,106.88 527.11,107.80 C535.96,108.72 549.25,110.30 553.68,110.80 L553.68,134.30 C549.25,134.30 535.96,134.30 527.11,134.30 C518.25,134.30 509.39,134.30 500.53,134.30 C491.67,134.30 482.81,134.30 473.95,134.30 C465.10,134.30 451.81,134.30 447.38,134.30 Z" fill="#888" filter="url(#ipl_5_-3_100)"/>
<path d="M447.38,134.30 C451.81,134.30 465.10,134.30 473.95,134.30 C482.81,134.30 491.67,134.30 500.53,134.30 C509.39,134.30 518.25,134.30 527.11,134.30 C535.96,134.30 549.25,134.30 553.68,134.30 L553.68,141.80 C549.25,141.80 535.96,141.80 527.11,141.80 C518.25,141.80 509.39,141.80 500.53,141.80 C491.67,141.80 482.81,141.80 473.95,141.80 C465.10,141.80 451.81,141.80 447.38,141.80 Z" fill="#888" filter="url(#gcl_5_-25_90)"/>
</g></g>
<g clip-path="url(#cp05)"><g filter="url(#soft)">
<rect x="558.10" y="37.80" width="100.3" height="100.0" fill="#aaa"/>
<path d="M555.10,33.80 C559.53,33.80 572.82,33.80 581.68,33.80 C590.53,33.80 599.39,33.80 608.25,33.80 C617.11,33.80 625.97,33.80 634.83,33.80 C643.68,33.80 656.97,33.80 661.40,33.80 L661.40,46.30 C656.97,45.88 643.68,44.38 634.83,43.80 C625.97,43.22 617.11,43.05 608.25,42.80 C599.39,42.55 590.53,42.30 581.68,42.30 C572.82,42.30 559.53,42.72 555.10,42.80 Z" fill="#888" filter="url(#rpe_6_10_110)"/>
<path d="M555.10,42.80 C559.53,42.72 572.82,42.30 581.68,42.30 C590.53,42.30 599.39,42.55 608.25,42.80 C617.11,43.05 625.97,43.22 634.83,43.80 C643.68,44.38 656.97,45.88 661.40,46.30 L661.40,53.30 C656.97,52.88 643.68,51.38 634.83,50.80 C625.97,50.22 617.11,49.97 608.25,49.80 C599.39,49.63 590.53,49.80 581.68,49.80 C572.82,49.80 559.53,49.80 555.10,49.80 Z" fill="#888" filter="url(#os_6_-8_100)"/>
<path d="M555.10,49.80 C559.53,49.80 572.82,49.80 581.68,49.80 C590.53,49.80 599.39,49.63 608.25,49.80 C617.11,49.97 625.97,50.22 634.83,50.80 C643.68,51.38 656.97,52.88 661.40,53.30 L661.40,59.30 C656.97,58.88 643.68,57.47 634.83,56.80 C625.97,56.13 617.11,55.63 608.25,55.30 C599.39,54.97 590.53,54.80 581.68,54.80 C572.82,54.80 559.53,55.22 555.10,55.30 Z" fill="#888" filter="url(#is_6_0_100)"/>
<path d="M555.10,55.30 C559.53,55.22 572.82,54.80 581.68,54.80 C590.53,54.80 599.39,54.97 608.25,55.30 C617.11,55.63 625.97,56.13 634.83,56.80 C643.68,57.47 656.97,58.88 661.40,59.30 L661.40,85.30 C656.97,84.97 643.68,83.97 634.83,83.30 C625.97,82.63 617.11,81.63 608.25,81.30 C599.39,80.97 590.53,81.22 581.68,81.30 C572.82,81.38 559.53,81.72 555.10,81.80 Z" fill="#888" filter="url(#onl_6_12_100)"/>
<path d="M555.10,81.80 C559.53,81.72 572.82,81.38 581.68,81.30 C590.53,81.22 599.39,80.97 608.25,81.30 C617.11,81.63 625.97,82.63 634.83,83.30 C643.68,83.97 656.97,84.97 661.40,85.30 L661.40,92.80 C656.97,92.38 643.68,91.13 634.83,90.30 C625.97,89.47 617.11,88.22 608.25,87.80 C599.39,87.38 590.53,87.72 581.68,87.80 C572.82,87.88 559.53,88.22 555.10,88.30 Z" fill="#888" filter="url(#opl_6_5_100)"/>
<path d="M555.10,88.30 C559.53,88.22 572.82,87.88 581.68,87.80 C590.53,87.72 599.39,87.38 608.25,87.80 C617.11,88.22 625.97,89.47 634.83,90.30 C643.68,91.13 656.97,92.38 661.40,92.80 L661.40,115.80 C656.97,115.47 643.68,114.55 634.83,113.80 C625.97,113.05 617.11,111.80 608.25,111.30 C599.39,110.80 590.53,110.72 581.68,110.80 C572.82,110.88 559.53,111.63 555.10,111.80 Z" fill="#888" filter="url(#inl_6_-4_100)"/>
<path d="M555.10,111.80 C559.53,111.63 572.82,110.88 581.68,110.80 C590.53,110.72 599.39,110.80 608.25,111.30 C617.11,111.80 625.97,113.05 634.83,113.80 C643.68,114.55 656.97,115.47 661.40,115.80 L661.40,141.80 C656.97,141.80 643.68,141.80 634.83,141.80 C625.97,141.80 617.11,141.80 608.25,141.80 C599.39,141.80 590.53,141.80 581.68,141.80 C572.82,141.80 559.53,141.80 555.10,141.80 Z" fill="#888" filter="url(#ipl_6_-5_100)"/>
</g></g>
<g clip-path="url(#cp10)"><g filter="url(#soft)">
<rect x="19.50" y="142.00" width="100.3" height="100.0" fill="#aaa"/>
<path d="M16.50,138.00 C20.93,138.00 34.22,138.00 43.08,138.00 C51.93,138.00 60.79,138.00 69.65,138.00 C78.51,138.00 87.37,138.00 96.22,138.00 C105.08,138.00 118.37,138.00 122.80,138.00 L122.80,147.20 C118.37,147.17 105.08,147.00 96.22,147.00 C87.37,147.00 78.51,147.07 69.65,147.20 C60.79,147.33 51.93,147.60 43.08,147.80 C34.22,148.00 20.93,148.30 16.50,148.40 Z" fill="#888" filter="url(#rpe_7_14_120)"/>
<path d="M16.50,148.40 C20.93,148.30 34.22,148.00 43.08,147.80 C51.93,147.60 60.79,147.33 69.65,147.20 C78.51,147.07 87.37,147.00 96.22,147.00 C105.08,147.00 118.37,147.17 122.80,147.20 L122.80,155.00 C118.37,155.00 105.08,155.00 96.22,155.00 C87.37,155.00 78.51,155.00 69.65,155.00 C60.79,155.00 51.93,155.00 43.08,155.00 C34.22,155.00 20.93,155.00 16.50,155.00 Z" fill="#888" filter="url(#os_7_10_100)"/>
<path d="M16.50,155.00 C20.93,155.00 34.22,155.00 43.08,155.00 C51.93,155.00 60.79,155.00 69.65,155.00 C78.51,155.00 87.37,155.00 96.22,155.00 C105.08,155.00 118.37,155.00 122.80,155.00 L122.80,162.00 C118.37,161.92 105.08,161.58 96.22,161.50 C87.37,161.42 78.51,161.42 69.65,161.50 C60.79,161.58 51.93,161.83 43.08,162.00 C34.22,162.17 20.93,162.42 16.50,162.50 Z" fill="#888" filter="url(#is_7_18_100)"/>
<path d="M16.50,162.50 C20.93,162.42 34.22,162.17 43.08,162.00 C51.93,161.83 60.79,161.58 69.65,161.50 C78.51,161.42 87.37,161.42 96.22,161.50 C105.08,161.58 118.37,161.92 122.80,162.00 L122.80,189.50 C118.37,189.33 105.08,188.67 96.22,188.50 C87.37,188.33 78.51,188.25 69.65,188.50 C60.79,188.75 51.93,189.50 43.08,190.00 C34.22,190.50 20.93,191.25 16.50,191.50 Z" fill="#888" filter="url(#onl_7_26_100)"/>
<path d="M16.50,191.50 C20.93,191.25 34.22,190.50 43.08,190.00 C51.93,189.50 60.79,188.75 69.65,188.50 C78.51,188.25 87.37,188.33 96.22,188.50 C105.08,188.67 118.37,189.33 122.80,189.50 L122.80,199.00 C118.37,198.83 105.08,198.17 96.22,198.00 C87.37,197.83 78.51,197.75 69.65,198.00 C60.79,198.25 51.93,199.08 43.08,199.50 C34.22,199.92 20.93,200.33 16.50,200.50 Z" fill="#888" filter="url(#opl_7_18_100)"/>
<path d="M16.50,200.50 C20.93,200.33 34.22,199.92 43.08,199.50 C51.93,199.08 60.79,198.25 69.65,198.00 C78.51,197.75 87.37,197.83 96.22,198.00 C105.08,198.17 118.37,198.83 122.80,199.00 L122.80,219.00 C118.37,218.92 105.08,218.67 96.22,218.50 C87.37,218.33 78.51,217.92 69.65,218.00 C60.79,218.08 51.93,218.67 43.08,219.00 C34.22,219.33 20.93,219.83 16.50,220.00 Z" fill="#888" filter="url(#inl_7_22_90)"/>
<path d="M16.50,220.00 C20.93,219.83 34.22,219.33 43.08,219.00 C51.93,218.67 60.79,218.08 69.65,218.00 C78.51,217.92 87.37,218.33 96.22,218.50 C105.08,218.67 118.37,218.92 122.80,219.00 L122.80,246.00 C118.37,246.00 105.08,246.00 96.22,246.00 C87.37,246.00 78.51,246.00 69.65,246.00 C60.79,246.00 51.93,246.00 43.08,246.00 C34.22,246.00 20.93,246.00 16.50,246.00 Z" fill="#888" filter="url(#ipl_7_12_100)"/>
</g></g>
<g clip-path="url(#cp11)"><g filter="url(#soft)">
<rect x="127.22" y="142.00" width="100.3" height="100.0" fill="#aaa"/>
<path d="M124.22,138.00 C128.65,138.00 141.94,138.00 150.79,138.00 C159.65,138.00 168.51,138.00 177.37,138.00 C186.23,138.00 195.09,138.00 203.94,138.00 C212.80,138.00 226.09,138.00 230.52,138.00 L230.52,145.60 C226.09,145.60 212.80,145.60 203.94,145.60 C195.09,145.60 186.23,145.60 177.37,145.60 C168.51,145.60 159.65,145.60 150.79,145.60 C141.94,145.60 128.65,145.60 124.22,145.60 Z" fill="#888" filter="url(#rpe_8_40_70)"/>
<path d="M124.22,145.60 C128.65,145.60 141.94,145.60 150.79,145.60 C159.65,145.60 168.51,145.60 177.37,145.60 C186.23,145.60 195.09,145.60 203.94,145.60 C212.80,145.60 226.09,145.60 230.52,145.60 L230.52,153.00 C226.09,153.00 212.80,153.00 203.94,153.00 C195.09,153.00 186.23,153.00 177.37,153.00 C168.51,153.00 159.65,153.00 150.79,153.00 C141.94,153.00 128.65,153.00 124.22,153.00 Z" fill="#888" filter="url(#os_8_-5_100)"/>
<path d="M124.22,153.00 C128.65,153.00 141.94,153.00 150.79,153.00 C159.65,153.00 168.51,153.00 177.37,153.00 C186.23,153.00 195.09,153.00 203.94,153.00 C212.80,153.00 226.09,153.00 230.52,153.00 L230.52,158.00 C226.09,158.00 212.80,158.00 203.94,158.00 C195.09,158.00 186.23,158.00 177.37,158.00 C168.51,158.00 159.65,158.00 150.79,158.00 C141.94,158.00 128.65,158.00 124.22,158.00 Z" fill="#888" filter="url(#is_8_0_100)"/>
<path d="M124.22,158.00 C128.65,158.00 141.94,158.00 150.79,158.00 C159.65,158.00 168.51,158.00 177.37,158.00 C186.23,158.00 195.09,158.00 203.94,158.00 C212.80,158.00 226.09,158.00 230.52,158.00 L230.52,181.50 C226.09,181.33 212.80,180.75 203.94,180.50 C195.09,180.25 186.23,180.00 177.37,180.00 C168.51,180.00 159.65,180.42 150.79,180.50 C141.94,180.58 128.65,180.50 124.22,180.50 Z" fill="#888" filter="url(#onl_8_38_85)"/>
<path d="M124.22,180.50 C128.65,180.50 141.94,180.58 150.79,180.50 C159.65,180.42 168.51,180.00 177.37,180.00 C186.23,180.00 195.09,180.25 203.94,180.50 C212.80,180.75 226.09,181.33 230.52,181.50 L230.52,188.50 C226.09,188.42 212.80,188.17 203.94,188.00 C195.09,187.83 186.23,187.50 177.37,187.50 C168.51,187.50 159.65,187.92 150.79,188.00 C141.94,188.08 128.65,188.00 124.22,188.00 Z" fill="#888" filter="url(#opl_8_0_100)"/>
<path d="M124.22,188.00 C128.65,188.00 141.94,188.08 150.79,188.00 C159.65,187.92 168.51,187.50 177.37,187.50 C186.23,187.50 195.09,187.83 203.94,188.00 C212.80,188.17 226.09,188.42 230.52,188.50 L230.52,208.00 C226.09,208.00 212.80,208.00 203.94,208.00 C195.09,208.00 186.23,207.92 177.37,208.00 C168.51,208.08 159.65,208.50 150.79,208.50 C141.94,208.50 128.65,208.08 124.22,208.00 Z" fill="#888" filter="url(#inl_8_8_85)"/>
<path d="M124.22,208.00 C128.65,208.08 141.94,208.50 150.79,208.50 C159.65,208.50 168.51,208.08 177.37,208.00 C186.23,207.92 195.09,208.00 203.94,208.00 C212.80,208.00 226.09,208.00 230.52,208.00 L230.52,233.00 C226.09,233.00 212.80,233.00 203.94,233.00 C195.09,233.00 186.23,233.00 177.37,233.00 C168.51,233.00 159.65,233.00 150.79,233.00 C141.94,233.00 128.65,233.00 124.22,233.00 Z" fill="#888" filter="url(#ipl_8_-10_100)"/>
<path d="M124.22,233.00 C128.65,233.00 141.94,233.00 150.79,233.00 C159.65,233.00 168.51,233.00 177.37,233.00 C186.23,233.00 195.09,233.00 203.94,233.00 C212.80,233.00 226.09,233.00 230.52,233.00 L230.52,238.50 C226.09,238.50 212.80,238.50 203.94,238.50 C195.09,238.50 186.23,238.50 177.37,238.50 C168.51,238.50 159.65,238.50 150.79,238.50 C141.94,238.50 128.65,238.50 124.22,238.50 Z" fill="#888" filter="url(#gcl_8_0_45)"/>
<path d="M124.22,238.50 C128.65,238.50 141.94,238.50 150.79,238.50 C159.65,238.50 168.51,238.50 177.37,238.50 C186.23,238.50 195.09,238.50 203.94,238.50 C212.80,238.50 226.09,238.50 230.52,238.50 L230.52,246.00 C226.09,246.00 212.80,246.00 203.94,246.00 C195.09,246.00 186.23,246.00 177.37,246.00 C168.51,246.00 159.65,246.00 150.79,246.00 C141.94,246.00 128.65,246.00 124.22,246.00 Z" fill="#888" filter="url(#ipl_8_-5_100)"/>
</g></g>
<g clip-path="url(#cp12)"><g filter="url(#soft)">
<rect x="234.94" y="142.00" width="100.3" height="100.0" fill="#aaa"/>
<path d="M231.94,138.00 C236.37,138.00 249.66,138.00 258.51,138.00 C267.37,138.00 276.23,138.00 285.09,138.00 C293.95,138.00 302.81,138.00 311.66,138.00 C320.52,138.00 333.81,138.00 338.24,138.00 L338.24,146.80 C333.81,146.80 320.52,146.80 311.66,146.80 C302.81,146.80 293.95,146.80 285.09,146.80 C276.23,146.80 267.37,146.80 258.51,146.80 C249.66,146.80 236.37,146.80 231.94,146.80 Z" fill="#888" filter="url(#rpe_9_12_120)"/>
<path d="M231.94,146.80 C236.37,146.80 249.66,146.80 258.51,146.80 C267.37,146.80 276.23,146.80 285.09,146.80 C293.95,146.80 302.81,146.80 311.66,146.80 C320.52,146.80 333.81,146.80 338.24,146.80 L338.24,155.00 C333.81,155.00 320.52,155.00 311.66,155.00 C302.81,155.00 293.95,155.00 285.09,155.00 C276.23,155.00 267.37,155.00 258.51,155.00 C249.66,155.00 236.37,155.00 231.94,155.00 Z" fill="#888" filter="url(#os_9_8_120)"/>
<path d="M231.94,155.00 C236.37,155.00 249.66,155.00 258.51,155.00 C267.37,155.00 276.23,155.00 285.09,155.00 C293.95,155.00 302.81,155.00 311.66,155.00 C320.52,155.00 333.81,155.00 338.24,155.00 L338.24,161.50 C333.81,161.33 320.52,160.83 311.66,160.50 C302.81,160.17 293.95,159.50 285.09,159.50 C276.23,159.50 267.37,160.17 258.51,160.50 C249.66,160.83 236.37,161.33 231.94,161.50 Z" fill="#888" filter="url(#is_9_12_120)"/>
<path d="M231.94,161.50 C236.37,161.33 249.66,160.83 258.51,160.50 C267.37,160.17 276.23,159.50 285.09,159.50 C293.95,159.50 302.81,160.17 311.66,160.50 C320.52,160.83 333.81,161.33 338.24,161.50 L338.24,182.00 C333.81,181.75 320.52,180.83 311.66,180.50 C302.81,180.17 293.95,179.92 285.09,180.00 C276.23,180.08 267.37,180.75 258.51,181.00 C249.66,181.25 236.37,181.42 231.94,181.50 Z" fill="#888" filter="url(#onl_9_28_90)"/>
<path d="M231.94,181.50 C236.37,181.42 249.66,181.25 258.51,181.00 C267.37,180.75 276.23,180.08 285.09,180.00 C293.95,179.92 302.81,180.17 311.66,180.50 C320.52,180.83 333.81,181.75 338.24,182.00 L338.24,190.00 C333.81,189.75 320.52,188.83 311.66,188.50 C302.81,188.17 293.95,188.00 285.09,188.00 C276.23,188.00 267.37,188.33 258.51,188.50 C249.66,188.67 236.37,188.92 231.94,189.00 Z" fill="#888" filter="url(#opl_9_8_100)"/>
<path d="M231.94,189.00 C236.37,188.92 249.66,188.67 258.51,188.50 C267.37,188.33 276.23,188.00 285.09,188.00 C293.95,188.00 302.81,188.17 311.66,188.50 C320.52,188.83 333.81,189.75 338.24,190.00 L338.24,212.00 C333.81,211.67 320.52,210.58 311.66,210.00 C302.81,209.42 293.95,208.83 285.09,208.50 C276.23,208.17 267.37,208.08 258.51,208.00 C249.66,207.92 236.37,208.00 231.94,208.00 Z" fill="#888" filter="url(#inl_9_12_80)"/>
<path d="M231.94,208.00 C236.37,208.00 249.66,207.92 258.51,208.00 C267.37,208.08 276.23,208.17 285.09,208.50 C293.95,208.83 302.81,209.42 311.66,210.00 C320.52,210.58 333.81,211.67 338.24,212.00 L338.24,232.00 C333.81,232.00 320.52,232.00 311.66,232.00 C302.81,232.00 293.95,232.00 285.09,232.00 C276.23,232.00 267.37,232.00 258.51,232.00 C249.66,232.00 236.37,232.00 231.94,232.00 Z" fill="#888" filter="url(#ipl_9_4_100)"/>
<path d="M231.94,232.00 C236.37,232.00 249.66,232.00 258.51,232.00 C267.37,232.00 276.23,232.00 285.09,232.00 C293.95,232.00 302.81,232.00 311.66,232.00 C320.52,232.00 333.81,232.00 338.24,232.00 L338.24,246.00 C333.81,246.00 320.52,246.00 311.66,246.00 C302.81,246.00 293.95,246.00 285.09,246.00 C276.23,246.00 267.37,246.00 258.51,246.00 C249.66,246.00 236.37,246.00 231.94,246.00 Z" fill="#888" filter="url(#gcl_9_22_45)"/>
</g></g>
<g clip-path="url(#cp13)"><g filter="url(#soft)">
<rect x="342.66" y="142.00" width="100.3" height="100.0" fill="#aaa"/>
<path d="M339.66,138.00 C344.09,138.00 357.38,138.00 366.23,138.00 C375.09,138.00 383.95,138.00 392.81,138.00 C401.67,138.00 410.53,138.00 419.38,138.00 C428.24,138.00 441.53,138.00 445.96,138.00 L445.96,149.50 C441.53,149.08 428.24,147.58 419.38,147.00 C410.53,146.42 401.67,146.08 392.81,146.00 C383.95,145.92 375.09,146.25 366.23,146.50 C357.38,146.75 344.09,147.33 339.66,147.50 Z" fill="#888" filter="url(#rpe_10_10_100)"/>
<path d="M339.66,147.50 C344.09,147.33 357.38,146.75 366.23,146.50 C375.09,146.25 383.95,145.92 392.81,146.00 C401.67,146.08 410.53,146.42 419.38,147.00 C428.24,147.58 441.53,149.08 445.96,149.50 L445.96,155.50 C441.53,155.17 428.24,154.00 419.38,153.50 C410.53,153.00 401.67,152.58 392.81,152.50 C383.95,152.42 375.09,152.75 366.23,153.00 C357.38,153.25 344.09,153.83 339.66,154.00 Z" fill="#888" filter="url(#os_10_2_100)"/>
<path d="M339.66,154.00 C344.09,153.83 357.38,153.25 366.23,153.00 C375.09,152.75 383.95,152.42 392.81,152.50 C401.67,152.58 410.53,153.00 419.38,153.50 C428.24,154.00 441.53,155.17 445.96,155.50 L445.96,162.50 C441.53,161.92 428.24,159.92 419.38,159.00 C410.53,158.08 401.67,157.17 392.81,157.00 C383.95,156.83 375.09,157.42 366.23,158.00 C357.38,158.58 344.09,160.08 339.66,160.50 Z" fill="#888" filter="url(#is_10_14_100)"/>
<path d="M339.66,160.50 C344.09,160.08 357.38,158.58 366.23,158.00 C375.09,157.42 383.95,156.83 392.81,157.00 C401.67,157.17 410.53,158.08 419.38,159.00 C428.24,159.92 441.53,161.92 445.96,162.50 L445.96,185.50 C441.53,185.08 428.24,183.83 419.38,183.00 C410.53,182.17 401.67,180.58 392.81,180.50 C383.95,180.42 375.09,181.75 366.23,182.50 C357.38,183.25 344.09,184.58 339.66,185.00 Z" fill="#888" filter="url(#onl_10_32_95)"/>
<path d="M339.66,185.00 C344.09,184.58 357.38,183.25 366.23,182.50 C375.09,181.75 383.95,180.42 392.81,180.50 C401.67,180.58 410.53,182.17 419.38,183.00 C428.24,183.83 441.53,185.08 445.96,185.50 L445.96,195.00 C441.53,194.50 428.24,193.00 419.38,192.00 C410.53,191.00 401.67,189.33 392.81,189.00 C383.95,188.67 375.09,189.58 366.23,190.00 C357.38,190.42 344.09,191.25 339.66,191.50 Z" fill="#888" filter="url(#opl_10_15_100)"/>
<path d="M339.66,191.50 C344.09,191.25 357.38,190.42 366.23,190.00 C375.09,189.58 383.95,188.67 392.81,189.00 C401.67,189.33 410.53,191.00 419.38,192.00 C428.24,193.00 441.53,194.50 445.96,195.00 L445.96,217.00 C441.53,216.58 428.24,215.42 419.38,214.50 C410.53,213.58 401.67,211.75 392.81,211.50 C383.95,211.25 375.09,212.42 366.23,213.00 C357.38,213.58 344.09,214.67 339.66,215.00 Z" fill="#888" filter="url(#inl_10_10_90)"/>
<path d="M339.66,215.00 C344.09,214.67 357.38,213.58 366.23,213.00 C375.09,212.42 383.95,211.25 392.81,211.50 C401.67,211.75 410.53,213.58 419.38,214.50 C428.24,215.42 441.53,216.58 445.96,217.00 L445.96,246.00 C441.53,246.00 428.24,246.00 419.38,246.00 C410.53,246.00 401.67,246.00 392.81,246.00 C383.95,246.00 375.09,246.00 366.23,246.00 C357.38,246.00 344.09,246.00 339.66,246.00 Z" fill="#888" filter="url(#ipl_10_7_100)"/>
</g></g>
<g clip-path="url(#cp14)"><g filter="url(#soft)">
<rect x="450.38" y="142.00" width="100.3" height="100.0" fill="#aaa"/>
<path d="M447.38,138.00 C451.81,138.00 465.10,138.00 473.95,138.00 C482.81,138.00 491.67,138.00 500.53,138.00 C509.39,138.00 518.25,138.00 527.11,138.00 C535.96,138.00 549.25,138.00 553.68,138.00 L553.68,145.00 C549.25,145.00 535.96,145.00 527.11,145.00 C518.25,145.00 509.39,145.00 500.53,145.00 C491.67,145.00 482.81,145.00 473.95,145.00 C465.10,145.00 451.81,145.00 447.38,145.00 Z" fill="#888" filter="url(#rpe_11_0_100)"/>
<path d="M447.38,145.00 C451.81,145.00 465.10,145.00 473.95,145.00 C482.81,145.00 491.67,145.00 500.53,145.00 C509.39,145.00 518.25,145.00 527.11,145.00 C535.96,145.00 549.25,145.00 553.68,145.00 L553.68,151.50 C549.25,151.50 535.96,151.50 527.11,151.50 C518.25,151.50 509.39,151.50 500.53,151.50 C491.67,151.50 482.81,151.50 473.95,151.50 C465.10,151.50 451.81,151.50 447.38,151.50 Z" fill="#888" filter="url(#os_11_20_110)"/>
<path d="M447.38,151.50 C451.81,151.50 465.10,151.50 473.95,151.50 C482.81,151.50 491.67,151.50 500.53,151.50 C509.39,151.50 518.25,151.50 527.11,151.50 C535.96,151.50 549.25,151.50 553.68,151.50 L553.68,154.00 C549.25,154.00 535.96,154.00 527.11,154.00 C518.25,154.00 509.39,154.00 500.53,154.00 C491.67,154.00 482.81,154.00 473.95,154.00 C465.10,154.00 451.81,154.00 447.38,154.00 Z" fill="#888" filter="url(#is_11_10_100)"/>
<path d="M447.38,154.00 C451.81,154.00 465.10,154.00 473.95,154.00 C482.81,154.00 491.67,154.00 500.53,154.00 C509.39,154.00 518.25,154.00 527.11,154.00 C535.96,154.00 549.25,154.00 553.68,154.00 L553.68,172.00 C549.25,172.08 535.96,172.42 527.11,172.50 C518.25,172.58 509.39,172.42 500.53,172.50 C491.67,172.58 482.81,172.92 473.95,173.00 C465.10,173.08 451.81,173.00 447.38,173.00 Z" fill="#888" filter="url(#onl_11_20_110)"/>
<path d="M447.38,173.00 C451.81,173.00 465.10,173.08 473.95,173.00 C482.81,172.92 491.67,172.58 500.53,172.50 C509.39,172.42 518.25,172.58 527.11,172.50 C535.96,172.42 549.25,172.08 553.68,172.00 L553.68,178.50 C549.25,178.58 535.96,178.92 527.11,179.00 C518.25,179.08 509.39,178.92 500.53,179.00 C491.67,179.08 482.81,179.42 473.95,179.50 C465.10,179.58 451.81,179.50 447.38,179.50 Z" fill="#888" filter="url(#opl_11_15_100)"/>
<path d="M447.38,179.50 C451.81,179.50 465.10,179.58 473.95,179.50 C482.81,179.42 491.67,179.08 500.53,179.00 C509.39,178.92 518.25,179.08 527.11,179.00 C535.96,178.92 549.25,178.58 553.68,178.50 L553.68,197.50 C549.25,197.58 535.96,197.83 527.11,198.00 C518.25,198.17 509.39,198.50 500.53,198.50 C491.67,198.50 482.81,198.08 473.95,198.00 C465.10,197.92 451.81,198.00 447.38,198.00 Z" fill="#888" filter="url(#inl_11_15_90)"/>
<path d="M447.38,198.00 C451.81,198.00 465.10,197.92 473.95,198.00 C482.81,198.08 491.67,198.50 500.53,198.50 C509.39,198.50 518.25,198.17 527.11,198.00 C535.96,197.83 549.25,197.58 553.68,197.50 L553.68,222.50 C549.25,222.50 535.96,222.50 527.11,222.50 C518.25,222.50 509.39,222.50 500.53,222.50 C491.67,222.50 482.81,222.50 473.95,222.50 C465.10,222.50 451.81,222.50 447.38,222.50 Z" fill="#888" filter="url(#ipl_11_21_100)"/>
<path d="M447.38,222.50 C451.81,222.50 465.10,222.50 473.95,222.50 C482.81,222.50 491.67,222.50 500.53,222.50 C509.39,222.50 518.25,222.50 527.11,222.50 C535.96,222.50 549.25,222.50 553.68,222.50 L553.68,236.00 C549.25,236.08 535.96,236.33 527.11,236.50 C518.25,236.67 509.39,237.00 500.53,237.00 C491.67,237.00 482.81,236.67 473.95,236.50 C465.10,236.33 451.81,236.08 447.38,236.00 Z" fill="#888" filter="url(#gcl_11_22_60)"/>
<path d="M447.38,236.00 C451.81,236.08 465.10,236.33 473.95,236.50 C482.81,236.67 491.67,237.00 500.53,237.00 C509.39,237.00 518.25,236.67 527.11,236.50 C535.96,236.33 549.25,236.08 553.68,236.00 L553.68,246.00 C549.25,246.00 535.96,246.00 527.11,246.00 C518.25,246.00 509.39,246.00 500.53,246.00 C491.67,246.00 482.81,246.00 473.95,246.00 C465.10,246.00 451.81,246.00 447.38,246.00 Z" fill="#888" filter="url(#bot_11_0_100)"/>
<path d="M447.4,139.0 H477.4 L472.4,145.4 H447.4 Z" fill="#d4d4d4"/><rect x="545.4" y="139.0" width="9" height="6.4" fill="#cfcfcf"/>
</g></g>
<g clip-path="url(#cp15)"><g filter="url(#soft)">
<rect x="558.10" y="142.00" width="100.3" height="100.0" fill="#aaa"/>
<path d="M555.10,138.00 C559.53,138.00 572.82,138.00 581.68,138.00 C590.53,138.00 599.39,138.00 608.25,138.00 C617.11,138.00 625.97,138.00 634.83,138.00 C643.68,138.00 656.97,138.00 661.40,138.00 L661.40,148.70 C656.97,148.70 643.68,148.70 634.83,148.70 C625.97,148.70 617.11,148.70 608.25,148.70 C599.39,148.70 590.53,148.70 581.68,148.70 C572.82,148.70 559.53,148.70 555.10,148.70 Z" fill="#888" filter="url(#rpe_12_5_100)"/>
<path d="M555.10,148.70 C559.53,148.70 572.82,148.70 581.68,148.70 C590.53,148.70 599.39,148.70 608.25,148.70 C617.11,148.70 625.97,148.70 634.83,148.70 C643.68,148.70 656.97,148.70 661.40,148.70 L661.40,154.00 C656.97,154.00 643.68,154.00 634.83,154.00 C625.97,154.00 617.11,154.00 608.25,154.00 C599.39,154.00 590.53,154.00 581.68,154.00 C572.82,154.00 559.53,154.00 555.10,154.00 Z" fill="#888" filter="url(#os_12_8_100)"/>
<path d="M555.10,154.00 C559.53,154.00 572.82,154.00 581.68,154.00 C590.53,154.00 599.39,154.00 608.25,154.00 C617.11,154.00 625.97,154.00 634.83,154.00 C643.68,154.00 656.97,154.00 661.40,154.00 L661.40,158.00 C656.97,158.00 643.68,158.00 634.83,158.00 C625.97,158.00 617.11,158.00 608.25,158.00 C599.39,158.00 590.53,158.00 581.68,158.00 C572.82,158.00 559.53,158.00 555.10,158.00 Z" fill="#888" filter="url(#is_12_5_100)"/>
<path d="M555.10,158.00 C559.53,158.00 572.82,158.00 581.68,158.00 C590.53,158.00 599.39,158.00 608.25,158.00 C617.11,158.00 625.97,158.00 634.83,158.00 C643.68,158.00 656.97,158.00 661.40,158.00 L661.40,179.00 C656.97,178.92 643.68,178.67 634.83,178.50 C625.97,178.33 617.11,178.25 608.25,178.00 C599.39,177.75 590.53,177.17 581.68,177.00 C572.82,176.83 559.53,177.00 555.10,177.00 Z" fill="#888" filter="url(#onl_12_24_110)"/>
<path d="M555.10,177.00 C559.53,177.00 572.82,176.83 581.68,177.00 C590.53,177.17 599.39,177.75 608.25,178.00 C617.11,178.25 625.97,178.33 634.83,178.50 C643.68,178.67 656.97,178.92 661.40,179.00 L661.40,186.00 C656.97,185.92 643.68,185.67 634.83,185.50 C625.97,185.33 617.11,185.25 608.25,185.00 C599.39,184.75 590.53,184.17 581.68,184.00 C572.82,183.83 559.53,184.00 555.10,184.00 Z" fill="#888" filter="url(#opl_12_4_100)"/>
<path d="M555.10,184.00 C559.53,184.00 572.82,183.83 581.68,184.00 C590.53,184.17 599.39,184.75 608.25,185.00 C617.11,185.25 625.97,185.33 634.83,185.50 C643.68,185.67 656.97,185.92 661.40,186.00 L661.40,205.00 C656.97,204.83 643.68,204.33 634.83,204.00 C625.97,203.67 617.11,203.25 608.25,203.00 C599.39,202.75 590.53,202.50 581.68,202.50 C572.82,202.50 559.53,202.92 555.10,203.00 Z" fill="#888" filter="url(#inl_12_5_85)"/>
<path d="M555.10,203.00 C559.53,202.92 572.82,202.50 581.68,202.50 C590.53,202.50 599.39,202.75 608.25,203.00 C617.11,203.25 625.97,203.67 634.83,204.00 C643.68,204.33 656.97,204.83 661.40,205.00 L661.40,231.00 C656.97,231.00 643.68,231.00 634.83,231.00 C625.97,231.00 617.11,231.00 608.25,231.00 C599.39,231.00 590.53,231.00 581.68,231.00 C572.82,231.00 559.53,231.00 555.10,231.00 Z" fill="#888" filter="url(#ipl_12_-5_100)"/>
<path d="M555.10,231.00 C559.53,231.00 572.82,231.00 581.68,231.00 C590.53,231.00 599.39,231.00 608.25,231.00 C617.11,231.00 625.97,231.00 634.83,231.00 C643.68,231.00 656.97,231.00 661.40,231.00 L661.40,237.50 C656.97,237.50 643.68,237.50 634.83,237.50 C625.97,237.50 617.11,237.50 608.25,237.50 C599.39,237.50 590.53,237.50 581.68,237.50 C572.82,237.50 559.53,237.50 555.10,237.50 Z" fill="#888" filter="url(#gcl_12_-12_55)"/>
<path d="M555.10,237.50 C559.53,237.50 572.82,237.50 581.68,237.50 C590.53,237.50 599.39,237.50 608.25,237.50 C617.11,237.50 625.97,237.50 634.83,237.50 C643.68,237.50 656.97,237.50 661.40,237.50 L661.40,246.00 C656.97,246.00 643.68,246.00 634.83,246.00 C625.97,246.00 617.11,246.00 608.25,246.00 C599.39,246.00 590.53,246.00 581.68,246.00 C572.82,246.00 559.53,246.00 555.10,246.00 Z" fill="#888" filter="url(#ipl_12_6_100)"/>
</g></g>
<text x="0.6" y="15.6" font-size="20.6" font-weight="bold" font-style="normal" text-anchor="start" fill="#000" >A</text>
<text x="1.9" y="265.6" font-size="20.6" font-weight="bold" font-style="normal" text-anchor="start" fill="#000" >B</text>
<text x="2.4" y="488.3" font-size="20.6" font-weight="bold" font-style="normal" text-anchor="start" fill="#000" >C</text>
<text x="69.65" y="27.5" font-size="15" font-weight="bold" font-style="normal" text-anchor="middle" fill="#000" >WT</text>
<text x="177.67000000000002" y="27.3" font-size="15.6" font-weight="bold" font-style="italic" text-anchor="middle" fill="#000" >Rho<tspan font-size="8.3" dy="-4.4">+/-</tspan><tspan dy="4.4" font-size="1">&#8203;</tspan></text>
<text x="285.09" y="26.6" font-size="15.6" font-weight="bold" font-style="italic" text-anchor="middle" fill="#000" >Prph2<tspan font-size="9.35" dy="-4.8">Y141C/+</tspan><tspan dy="4.8" font-size="1">&#8203;</tspan></text>
<text x="392.80999999999995" y="20.8" font-size="15.6" font-weight="bold" font-style="italic" text-anchor="middle" fill="#000" >Prph2<tspan font-size="9.35" dy="-4.8">Y141C/+</tspan><tspan dy="4.8" font-size="1">&#8203;</tspan></text>
<text x="392.80999999999995" y="34.6" font-size="15.6" font-weight="bold" font-style="italic" text-anchor="middle" fill="#000" >Rho<tspan font-size="8.3" dy="-4.4">+/-</tspan><tspan dy="4.4" font-size="1">&#8203;</tspan></text>
<text x="500.53" y="26.2" font-size="15.6" font-weight="bold" font-style="italic" text-anchor="middle" fill="#000" >Prph2<tspan font-size="9.35" dy="-4.8">K153&#916;/+</tspan><tspan dy="4.8" font-size="1">&#8203;</tspan></text>
<text x="608.25" y="20.5" font-size="15.6" font-weight="bold" font-style="italic" text-anchor="middle" fill="#000" >Prph2<tspan font-size="9.35" dy="-4.8">K153&#916;//+</tspan><tspan dy="4.8" font-size="1">&#8203;</tspan></text>
<text x="608.25" y="34.4" font-size="15.6" font-weight="bold" font-style="italic" text-anchor="middle" fill="#000" >Rho<tspan font-size="8.3" dy="-4.4">+/-</tspan><tspan dy="4.4" font-size="1">&#8203;</tspan></text>
<text transform="translate(14.7,88) rotate(-90)" font-size="15.3" font-weight="bold" text-anchor="middle">P30</text>
<text transform="translate(14.7,192.3) rotate(-90)" font-size="15.3" font-weight="bold" text-anchor="middle">P90</text>
<text x="22.6" y="49.8" font-size="7.6" font-weight="normal" font-style="normal" text-anchor="start" fill="#fff" stroke="#fff" stroke-width="0.3">OS</text>
<text x="22.6" y="57.4" font-size="7.6" font-weight="normal" font-style="normal" text-anchor="start" fill="#fff" stroke="#fff" stroke-width="0.3">IS</text>
<text x="22.6" y="74.7" font-size="7.6" font-weight="normal" font-style="normal" text-anchor="start" fill="#fff" stroke="#fff" stroke-width="0.3">ONL</text>
<text x="22.6" y="115.3" font-size="7.6" font-weight="normal" font-style="normal" text-anchor="start" fill="#fff" stroke="#fff" stroke-width="0.3">INL</text>
<text x="22.6" y="154.8" font-size="7.6" font-weight="normal" font-style="normal" text-anchor="start" fill="#fff" stroke="#fff" stroke-width="0.3">OS</text>
<text x="22.6" y="163.7" font-size="7.6" font-weight="normal" font-style="normal" text-anchor="start" fill="#fff" stroke="#fff" stroke-width="0.3">IS</text>
<text x="22.6" y="179.1" font-size="7.6" font-weight="normal" font-style="normal" text-anchor="start" fill="#fff" stroke="#fff" stroke-width="0.3">ONL</text>
<text x="22.6" y="213.8" font-size="7.6" font-weight="normal" font-style="normal" text-anchor="start" fill="#fff" stroke="#fff" stroke-width="0.3">INL</text>
<line x1="626.8" y1="228.4" x2="657.5" y2="228.4" stroke="#111" stroke-width="1.1"/>
<text transform="translate(642.2,225.9) scale(0.96,1.16)" font-size="6" text-anchor="middle" fill="#111">100 &#181;m</text>
<path d="M63.90,264.70 V426.90 H305.90" fill="none" stroke="#000" stroke-width="1.9" stroke-linejoin="miter"/>
<text x="57.30" y="431.35" font-size="12.7" font-weight="normal" font-style="normal" text-anchor="end" fill="#000" >0</text>
<line x1="59.10" y1="400.02" x2="63.90" y2="400.02" stroke="#000" stroke-width="1.9"/>
<text x="57.30" y="404.47" font-size="12.7" font-weight="normal" font-style="normal" text-anchor="end" fill="#000" >50</text>
<line x1="59.10" y1="373.15" x2="63.90" y2="373.15" stroke="#000" stroke-width="1.9"/>
<text x="57.30" y="377.60" font-size="12.7" font-weight="normal" font-style="normal" text-anchor="end" fill="#000" >100</text>
<line x1="59.10" y1="346.27" x2="63.90" y2="346.27" stroke="#000" stroke-width="1.9"/>
<text x="57.30" y="350.72" font-size="12.7" font-weight="normal" font-style="normal" text-anchor="end" fill="#000" >150</text>
<line x1="59.10" y1="319.40" x2="63.90" y2="319.40" stroke="#000" stroke-width="1.9"/>
<text x="57.30" y="323.85" font-size="12.7" font-weight="normal" font-style="normal" text-anchor="end" fill="#000" >200</text>
<line x1="59.10" y1="292.52" x2="63.90" y2="292.52" stroke="#000" stroke-width="1.9"/>
<text x="57.30" y="296.97" font-size="12.7" font-weight="normal" font-style="normal" text-anchor="end" fill="#000" >250</text>
<line x1="59.10" y1="265.65" x2="63.90" y2="265.65" stroke="#000" stroke-width="1.9"/>
<text x="57.30" y="270.10" font-size="12.7" font-weight="normal" font-style="normal" text-anchor="end" fill="#000" >300</text>
<line x1="73.10" y1="426.90" x2="73.10" y2="431.60" stroke="#000" stroke-width="1.9"/>
<text x="70.60" y="442.60" font-size="12.3" font-weight="normal" font-style="normal" text-anchor="middle" fill="#000" >-3.6</text>
<line x1="100.90" y1="426.90" x2="100.90" y2="431.60" stroke="#000" stroke-width="1.9"/>
<text x="98.40" y="442.60" font-size="12.3" font-weight="normal" font-style="normal" text-anchor="middle" fill="#000" >-2.7</text>
<line x1="128.70" y1="426.90" x2="128.70" y2="431.60" stroke="#000" stroke-width="1.9"/>
<text x="126.20" y="442.60" font-size="12.3" font-weight="normal" font-style="normal" text-anchor="middle" fill="#000" >-1.8</text>
<line x1="156.50" y1="426.90" x2="156.50" y2="431.60" stroke="#000" stroke-width="1.9"/>
<text x="154.00" y="442.60" font-size="12.3" font-weight="normal" font-style="normal" text-anchor="middle" fill="#000" >-0.9</text>
<line x1="184.30" y1="426.90" x2="184.30" y2="431.60" stroke="#000" stroke-width="1.9"/>
<text x="184.30" y="442.60" font-size="12.3" font-weight="normal" font-style="normal" text-anchor="middle" fill="#000" >0</text>
<line x1="212.10" y1="426.90" x2="212.10" y2="431.60" stroke="#000" stroke-width="1.9"/>
<text x="212.10" y="442.60" font-size="12.3" font-weight="normal" font-style="normal" text-anchor="middle" fill="#000" >0.9</text>
<line x1="239.90" y1="426.90" x2="239.90" y2="431.60" stroke="#000" stroke-width="1.9"/>
<text x="239.90" y="442.60" font-size="12.3" font-weight="normal" font-style="normal" text-anchor="middle" fill="#000" >1.8</text>
<line x1="267.70" y1="426.90" x2="267.70" y2="431.60" stroke="#000" stroke-width="1.9"/>
<text x="267.70" y="442.60" font-size="12.3" font-weight="normal" font-style="normal" text-anchor="middle" fill="#000" >2.7</text>
<line x1="295.50" y1="426.90" x2="295.50" y2="431.60" stroke="#000" stroke-width="1.9"/>
<text x="295.50" y="442.60" font-size="12.3" font-weight="normal" font-style="normal" text-anchor="middle" fill="#000" >3.6</text>
<path d="M341.00,264.70 V426.90 H583.00" fill="none" stroke="#000" stroke-width="1.9" stroke-linejoin="miter"/>
<line x1="336.20" y1="400.02" x2="341.00" y2="400.02" stroke="#000" stroke-width="1.9"/>
<line x1="336.20" y1="373.15" x2="341.00" y2="373.15" stroke="#000" stroke-width="1.9"/>
<line x1="336.20" y1="346.27" x2="341.00" y2="346.27" stroke="#000" stroke-width="1.9"/>
<line x1="336.20" y1="319.40" x2="341.00" y2="319.40" stroke="#000" stroke-width="1.9"/>
<line x1="336.20" y1="292.52" x2="341.00" y2="292.52" stroke="#000" stroke-width="1.9"/>
<line x1="336.20" y1="265.65" x2="341.00" y2="265.65" stroke="#000" stroke-width="1.9"/>
<line x1="350.20" y1="426.90" x2="350.20" y2="431.60" stroke="#000" stroke-width="1.9"/>
<text x="347.70" y="442.60" font-size="12.3" font-weight="normal" font-style="normal" text-anchor="middle" fill="#000" >-3.6</text>
<line x1="378.00" y1="426.90" x2="378.00" y2="431.60" stroke="#000" stroke-width="1.9"/>
<text x="375.50" y="442.60" font-size="12.3" font-weight="normal" font-style="normal" text-anchor="middle" fill="#000" >-2.7</text>
<line x1="405.80" y1="426.90" x2="405.80" y2="431.60" stroke="#000" stroke-width="1.9"/>
<text x="403.30" y="442.60" font-size="12.3" font-weight="normal" font-style="normal" text-anchor="middle" fill="#000" >-1.8</text>
<line x1="433.60" y1="426.90" x2="433.60" y2="431.60" stroke="#000" stroke-width="1.9"/>
<text x="431.10" y="442.60" font-size="12.3" font-weight="normal" font-style="normal" text-anchor="middle" fill="#000" >-0.9</text>
<line x1="461.40" y1="426.90" x2="461.40" y2="431.60" stroke="#000" stroke-width="1.9"/>
<text x="461.40" y="442.60" font-size="12.3" font-weight="normal" font-style="normal" text-anchor="middle" fill="#000" >0</text>
<line x1="489.20" y1="426.90" x2="489.20" y2="431.60" stroke="#000" stroke-width="1.9"/>
<text x="489.20" y="442.60" font-size="12.3" font-weight="normal" font-style="normal" text-anchor="middle" fill="#000" >0.9</text>
<line x1="517.00" y1="426.90" x2="517.00" y2="431.60" stroke="#000" stroke-width="1.9"/>
<text x="517.00" y="442.60" font-size="12.3" font-weight="normal" font-style="normal" text-anchor="middle" fill="#000" >1.8</text>
<line x1="544.80" y1="426.90" x2="544.80" y2="431.60" stroke="#000" stroke-width="1.9"/>
<text x="544.80" y="442.60" font-size="12.3" font-weight="normal" font-style="normal" text-anchor="middle" fill="#000" >2.7</text>
<line x1="572.60" y1="426.90" x2="572.60" y2="431.60" stroke="#000" stroke-width="1.9"/>
<text x="572.60" y="442.60" font-size="12.3" font-weight="normal" font-style="normal" text-anchor="middle" fill="#000" >3.6</text>
<path d="M63.90,483.50 V645.70 H305.90" fill="none" stroke="#000" stroke-width="1.9" stroke-linejoin="miter"/>
<line x1="59.10" y1="645.70" x2="63.90" y2="645.70" stroke="#000" stroke-width="1.9"/>
<text x="57.30" y="649.65" font-size="12.7" font-weight="normal" font-style="normal" text-anchor="end" fill="#000" >0</text>
<line x1="59.10" y1="618.83" x2="63.90" y2="618.83" stroke="#000" stroke-width="1.9"/>
<text x="57.30" y="623.28" font-size="12.7" font-weight="normal" font-style="normal" text-anchor="end" fill="#000" >50</text>
<line x1="59.10" y1="591.95" x2="63.90" y2="591.95" stroke="#000" stroke-width="1.9"/>
<text x="57.30" y="596.40" font-size="12.7" font-weight="normal" font-style="normal" text-anchor="end" fill="#000" >100</text>
<line x1="59.10" y1="565.08" x2="63.90" y2="565.08" stroke="#000" stroke-width="1.9"/>
<text x="57.30" y="569.53" font-size="12.7" font-weight="normal" font-style="normal" text-anchor="end" fill="#000" >150</text>
<line x1="59.10" y1="538.20" x2="63.90" y2="538.20" stroke="#000" stroke-width="1.9"/>
<text x="57.30" y="542.65" font-size="12.7" font-weight="normal" font-style="normal" text-anchor="end" fill="#000" >200</text>
<line x1="59.10" y1="511.33" x2="63.90" y2="511.33" stroke="#000" stroke-width="1.9"/>
<text x="57.30" y="515.78" font-size="12.7" font-weight="normal" font-style="normal" text-anchor="end" fill="#000" >250</text>
<line x1="59.10" y1="484.45" x2="63.90" y2="484.45" stroke="#000" stroke-width="1.9"/>
<text x="57.30" y="488.90" font-size="12.7" font-weight="normal" font-style="normal" text-anchor="end" fill="#000" >300</text>
<line x1="73.10" y1="645.70" x2="73.10" y2="650.40" stroke="#000" stroke-width="1.9"/>
<text x="70.60" y="662.30" font-size="12.3" font-weight="normal" font-style="normal" text-anchor="middle" fill="#000" >-3.6</text>
<line x1="100.90" y1="645.70" x2="100.90" y2="650.40" stroke="#000" stroke-width="1.9"/>
<text x="98.40" y="662.30" font-size="12.3" font-weight="normal" font-style="normal" text-anchor="middle" fill="#000" >-2.7</text>
<line x1="128.70" y1="645.70" x2="128.70" y2="650.40" stroke="#000" stroke-width="1.9"/>
<text x="126.20" y="662.30" font-size="12.3" font-weight="normal" font-style="normal" text-anchor="middle" fill="#000" >-1.8</text>
<line x1="156.50" y1="645.70" x2="156.50" y2="650.40" stroke="#000" stroke-width="1.9"/>
<text x="154.00" y="662.30" font-size="12.3" font-weight="normal" font-style="normal" text-anchor="middle" fill="#000" >-0.9</text>
<line x1="184.30" y1="645.70" x2="184.30" y2="650.40" stroke="#000" stroke-width="1.9"/>
<text x="184.30" y="662.30" font-size="12.3" font-weight="normal" font-style="normal" text-anchor="middle" fill="#000" >0</text>
<line x1="212.10" y1="645.70" x2="212.10" y2="650.40" stroke="#000" stroke-width="1.9"/>
<text x="212.10" y="662.30" font-size="12.3" font-weight="normal" font-style="normal" text-anchor="middle" fill="#000" >0.9</text>
<line x1="239.90" y1="645.70" x2="239.90" y2="650.40" stroke="#000" stroke-width="1.9"/>
<text x="239.90" y="662.30" font-size="12.3" font-weight="normal" font-style="normal" text-anchor="middle" fill="#000" >1.8</text>
<line x1="267.70" y1="645.70" x2="267.70" y2="650.40" stroke="#000" stroke-width="1.9"/>
<text x="267.70" y="662.30" font-size="12.3" font-weight="normal" font-style="normal" text-anchor="middle" fill="#000" >2.7</text>
<line x1="295.50" y1="645.70" x2="295.50" y2="650.40" stroke="#000" stroke-width="1.9"/>
<text x="295.50" y="662.30" font-size="12.3" font-weight="normal" font-style="normal" text-anchor="middle" fill="#000" >3.6</text>
<path d="M341.00,483.50 V645.70 H583.00" fill="none" stroke="#000" stroke-width="1.9" stroke-linejoin="miter"/>
<line x1="336.20" y1="645.70" x2="341.00" y2="645.70" stroke="#000" stroke-width="1.9"/>
<line x1="336.20" y1="618.83" x2="341.00" y2="618.83" stroke="#000" stroke-width="1.9"/>
<line x1="336.20" y1="591.95" x2="341.00" y2="591.95" stroke="#000" stroke-width="1.9"/>
<line x1="336.20" y1="565.08" x2="341.00" y2="565.08" stroke="#000" stroke-width="1.9"/>
<line x1="336.20" y1="538.20" x2="341.00" y2="538.20" stroke="#000" stroke-width="1.9"/>
<line x1="336.20" y1="511.33" x2="341.00" y2="511.33" stroke="#000" stroke-width="1.9"/>
<line x1="336.20" y1="484.45" x2="341.00" y2="484.45" stroke="#000" stroke-width="1.9"/>
<line x1="350.20" y1="645.70" x2="350.20" y2="650.40" stroke="#000" stroke-width="1.9"/>
<text x="347.70" y="662.30" font-size="12.3" font-weight="normal" font-style="normal" text-anchor="middle" fill="#000" >-3.6</text>
<line x1="378.00" y1="645.70" x2="378.00" y2="650.40" stroke="#000" stroke-width="1.9"/>
<text x="375.50" y="662.30" font-size="12.3" font-weight="normal" font-style="normal" text-anchor="middle" fill="#000" >-2.7</text>
<line x1="405.80" y1="645.70" x2="405.80" y2="650.40" stroke="#000" stroke-width="1.9"/>
<text x="403.30" y="662.30" font-size="12.3" font-weight="normal" font-style="normal" text-anchor="middle" fill="#000" >-1.8</text>
<line x1="433.60" y1="645.70" x2="433.60" y2="650.40" stroke="#000" stroke-width="1.9"/>
<text x="431.10" y="662.30" font-size="12.3" font-weight="normal" font-style="normal" text-anchor="middle" fill="#000" >-0.9</text>
<line x1="461.40" y1="645.70" x2="461.40" y2="650.40" stroke="#000" stroke-width="1.9"/>
<text x="461.40" y="662.30" font-size="12.3" font-weight="normal" font-style="normal" text-anchor="middle" fill="#000" >0</text>
<line x1="489.20" y1="645.70" x2="489.20" y2="650.40" stroke="#000" stroke-width="1.9"/>
<text x="489.20" y="662.30" font-size="12.3" font-weight="normal" font-style="normal" text-anchor="middle" fill="#000" >0.9</text>
<line x1="517.00" y1="645.70" x2="517.00" y2="650.40" stroke="#000" stroke-width="1.9"/>
<text x="517.00" y="662.30" font-size="12.3" font-weight="normal" font-style="normal" text-anchor="middle" fill="#000" >1.8</text>
<line x1="544.80" y1="645.70" x2="544.80" y2="650.40" stroke="#000" stroke-width="1.9"/>
<text x="544.80" y="662.30" font-size="12.3" font-weight="normal" font-style="normal" text-anchor="middle" fill="#000" >2.7</text>
<line x1="572.60" y1="645.70" x2="572.60" y2="650.40" stroke="#000" stroke-width="1.9"/>
<text x="572.60" y="662.30" font-size="12.3" font-weight="normal" font-style="normal" text-anchor="middle" fill="#000" >3.6</text>
<text transform="translate(26.2,345.35) rotate(-90)" font-size="15.0" font-weight="bold" text-anchor="middle">Nuclei/100&#181;m window</text>
<text x="183.20" y="461.60" font-size="15.55" font-weight="bold" font-style="normal" text-anchor="middle" fill="#000" >Distance from the ONH (mm)</text>
<text x="460.30" y="461.60" font-size="15.55" font-weight="bold" font-style="normal" text-anchor="middle" fill="#000" >Distance from the ONH (mm)</text>
<text transform="translate(26.2,565.50) rotate(-90)" font-size="15.0" font-weight="bold" text-anchor="middle">Nuclei/100&#181;m window</text>
<text x="189.60" y="681.00" font-size="15.55" font-weight="bold" font-style="normal" text-anchor="middle" fill="#000" >Distance from the ONH (mm)</text>
<text x="463.20" y="681.00" font-size="15.55" font-weight="bold" font-style="normal" text-anchor="middle" fill="#000" >Distance from the ONH (mm)</text>
<text x="187.70" y="273.30" font-size="18" font-weight="bold" font-style="italic" text-anchor="middle" fill="#000" >Prph2<tspan font-size="10.7" dy="-6.3">Y141C/+</tspan><tspan dy="6.3" font-size="1">&#8203;</tspan><tspan font-style="normal"> (P30)</tspan></text>
<text x="467.10" y="273.30" font-size="18" font-weight="bold" font-style="italic" text-anchor="middle" fill="#000" >Prph2<tspan font-size="10.7" dy="-6.3">Y141C/+</tspan><tspan dy="6.3" font-size="1">&#8203;</tspan><tspan font-style="normal"> (P90)</tspan></text>
<text x="187.70" y="495.20" font-size="18" font-weight="bold" font-style="italic" text-anchor="middle" fill="#000" >Prph2<tspan font-size="10.7" dy="-6.3">K153&#916;/+</tspan><tspan dy="6.3" font-size="1">&#8203;</tspan><tspan font-style="normal"> (P30)</tspan></text>
<text x="467.10" y="495.20" font-size="18" font-weight="bold" font-style="italic" text-anchor="middle" fill="#000" >Prph2<tspan font-size="10.7" dy="-6.3">K153&#916;/+</tspan><tspan dy="6.3" font-size="1">&#8203;</tspan><tspan font-style="normal"> (P90)</tspan></text>
<path d="M91.63,368.31 V373.69 M88.63,368.31 h6 M88.63,373.69 h6" fill="none" stroke="#000000" stroke-width="1.25"/>
<path d="M100.90,344.66 V353.26 M97.90,344.66 h6 M97.90,353.26 h6" fill="none" stroke="#000000" stroke-width="1.25"/>
<path d="M119.43,322.09 V332.84 M116.43,322.09 h6 M116.43,332.84 h6" fill="none" stroke="#000000" stroke-width="1.25"/>
<path d="M137.97,310.80 V317.25 M134.97,310.80 h6 M134.97,317.25 h6" fill="none" stroke="#000000" stroke-width="1.25"/>
<path d="M156.50,316.17 V319.40 M153.50,316.17 h6 M153.50,319.40 h6" fill="none" stroke="#000000" stroke-width="1.25"/>
<path d="M175.03,316.18 V331.22 M172.03,316.18 h6 M172.03,331.22 h6" fill="none" stroke="#000000" stroke-width="1.25"/>
<path d="M193.57,318.86 V329.61 M190.57,318.86 h6 M190.57,329.61 h6" fill="none" stroke="#000000" stroke-width="1.25"/>
<path d="M212.10,312.95 V321.55 M209.10,312.95 h6 M209.10,321.55 h6" fill="none" stroke="#000000" stroke-width="1.25"/>
<path d="M230.63,311.88 V322.62 M227.63,311.88 h6 M227.63,322.62 h6" fill="none" stroke="#000000" stroke-width="1.25"/>
<path d="M249.17,315.10 V330.15 M246.17,315.10 h6 M246.17,330.15 h6" fill="none" stroke="#000000" stroke-width="1.25"/>
<path d="M267.70,339.29 V347.89 M264.70,339.29 h6 M264.70,347.89 h6" fill="none" stroke="#000000" stroke-width="1.25"/>
<path d="M276.97,372.07 V377.45 M273.97,372.07 h6 M273.97,377.45 h6" fill="none" stroke="#000000" stroke-width="1.25"/>
<polyline points="91.63,371.00 100.90,348.96 119.43,327.46 137.97,314.02 156.50,317.79 175.03,323.70 184.30,426.90 193.57,324.24 212.10,317.25 230.63,317.25 249.17,322.62 267.70,343.59 276.97,374.76" fill="none" stroke="#000000" stroke-width="1.6" stroke-linejoin="round"/>
<circle cx="91.63" cy="371.00" r="2.9" fill="#000000"/>
<circle cx="100.90" cy="348.96" r="2.9" fill="#000000"/>
<circle cx="119.43" cy="327.46" r="2.9" fill="#000000"/>
<circle cx="137.97" cy="314.02" r="2.9" fill="#000000"/>
<circle cx="156.50" cy="317.79" r="2.9" fill="#000000"/>
<circle cx="175.03" cy="323.70" r="2.9" fill="#000000"/>
<circle cx="184.30" cy="426.90" r="2.9" fill="#000000"/>
<circle cx="193.57" cy="324.24" r="2.9" fill="#000000"/>
<circle cx="212.10" cy="317.25" r="2.9" fill="#000000"/>
<circle cx="230.63" cy="317.25" r="2.9" fill="#000000"/>
<circle cx="249.17" cy="322.62" r="2.9" fill="#000000"/>
<circle cx="267.70" cy="343.59" r="2.9" fill="#000000"/>
<circle cx="276.97" cy="374.76" r="2.9" fill="#000000"/>
<path d="M91.63,368.85 V373.15 M88.63,368.85 h6 M88.63,373.15 h6" fill="none" stroke="#3fe61e" stroke-width="1.25"/>
<path d="M100.90,341.44 V345.74 M97.90,341.44 h6 M97.90,345.74 h6" fill="none" stroke="#3fe61e" stroke-width="1.25"/>
<path d="M119.43,323.16 V328.54 M116.43,323.16 h6 M116.43,328.54 h6" fill="none" stroke="#3fe61e" stroke-width="1.25"/>
<path d="M137.97,317.25 V322.62 M134.97,317.25 h6 M134.97,322.62 h6" fill="none" stroke="#3fe61e" stroke-width="1.25"/>
<path d="M156.50,318.86 V322.09 M153.50,318.86 h6 M153.50,322.09 h6" fill="none" stroke="#3fe61e" stroke-width="1.25"/>
<path d="M175.03,320.47 V325.85 M172.03,320.47 h6 M172.03,325.85 h6" fill="none" stroke="#3fe61e" stroke-width="1.25"/>
<path d="M193.57,322.09 V327.46 M190.57,322.09 h6 M190.57,327.46 h6" fill="none" stroke="#3fe61e" stroke-width="1.25"/>
<path d="M212.10,318.32 V323.70 M209.10,318.32 h6 M209.10,323.70 h6" fill="none" stroke="#3fe61e" stroke-width="1.25"/>
<path d="M230.63,318.32 V323.70 M227.63,318.32 h6 M227.63,323.70 h6" fill="none" stroke="#3fe61e" stroke-width="1.25"/>
<path d="M249.17,323.16 V328.54 M246.17,323.16 h6 M246.17,328.54 h6" fill="none" stroke="#3fe61e" stroke-width="1.25"/>
<path d="M267.70,336.06 V342.51 M264.70,336.06 h6 M264.70,342.51 h6" fill="none" stroke="#3fe61e" stroke-width="1.25"/>
<path d="M276.97,372.61 V376.91 M273.97,372.61 h6 M273.97,376.91 h6" fill="none" stroke="#3fe61e" stroke-width="1.25"/>
<polyline points="91.63,371.00 100.90,343.59 119.43,325.85 137.97,319.94 156.50,320.47 175.03,323.16 184.30,426.90 193.57,324.77 212.10,321.01 230.63,321.01 249.17,325.85 267.70,339.29 276.97,374.76" fill="none" stroke="#3fe61e" stroke-width="1.6" stroke-linejoin="round"/>
<rect x="88.33" y="367.90" width="6.6" height="6.2" fill="none" stroke="#3fe61e" stroke-width="1.5"/>
<rect x="97.60" y="340.49" width="6.6" height="6.2" fill="none" stroke="#3fe61e" stroke-width="1.5"/>
<rect x="116.13" y="322.75" width="6.6" height="6.2" fill="none" stroke="#3fe61e" stroke-width="1.5"/>
<rect x="134.67" y="316.84" width="6.6" height="6.2" fill="none" stroke="#3fe61e" stroke-width="1.5"/>
<rect x="153.20" y="317.37" width="6.6" height="6.2" fill="none" stroke="#3fe61e" stroke-width="1.5"/>
<rect x="171.73" y="320.06" width="6.6" height="6.2" fill="none" stroke="#3fe61e" stroke-width="1.5"/>
<rect x="181.00" y="423.80" width="6.6" height="6.2" fill="none" stroke="#3fe61e" stroke-width="1.5"/>
<rect x="190.27" y="321.67" width="6.6" height="6.2" fill="none" stroke="#3fe61e" stroke-width="1.5"/>
<rect x="208.80" y="317.91" width="6.6" height="6.2" fill="none" stroke="#3fe61e" stroke-width="1.5"/>
<rect x="227.33" y="317.91" width="6.6" height="6.2" fill="none" stroke="#3fe61e" stroke-width="1.5"/>
<rect x="245.87" y="322.75" width="6.6" height="6.2" fill="none" stroke="#3fe61e" stroke-width="1.5"/>
<rect x="264.40" y="336.19" width="6.6" height="6.2" fill="none" stroke="#3fe61e" stroke-width="1.5"/>
<rect x="273.67" y="371.66" width="6.6" height="6.2" fill="none" stroke="#3fe61e" stroke-width="1.5"/>
<path d="M91.63,365.09 V375.84 M88.63,365.09 h6 M88.63,375.84 h6" fill="none" stroke="#5f9ff5" stroke-width="1.25"/>
<path d="M100.90,344.66 V353.26 M97.90,344.66 h6 M97.90,353.26 h6" fill="none" stroke="#5f9ff5" stroke-width="1.25"/>
<path d="M119.43,327.46 V338.21 M116.43,327.46 h6 M116.43,338.21 h6" fill="none" stroke="#5f9ff5" stroke-width="1.25"/>
<path d="M137.97,321.55 V326.92 M134.97,321.55 h6 M134.97,326.92 h6" fill="none" stroke="#5f9ff5" stroke-width="1.25"/>
<path d="M156.50,319.94 V324.24 M153.50,319.94 h6 M153.50,324.24 h6" fill="none" stroke="#5f9ff5" stroke-width="1.25"/>
<path d="M175.03,319.40 V332.30 M172.03,319.40 h6 M172.03,332.30 h6" fill="none" stroke="#5f9ff5" stroke-width="1.25"/>
<path d="M193.57,317.25 V338.75 M190.57,317.25 h6 M190.57,338.75 h6" fill="none" stroke="#5f9ff5" stroke-width="1.25"/>
<path d="M212.10,319.40 V330.15 M209.10,319.40 h6 M209.10,330.15 h6" fill="none" stroke="#5f9ff5" stroke-width="1.25"/>
<path d="M230.63,317.25 V332.30 M227.63,317.25 h6 M227.63,332.30 h6" fill="none" stroke="#5f9ff5" stroke-width="1.25"/>
<path d="M249.17,325.85 V340.90 M246.17,325.85 h6 M246.17,340.90 h6" fill="none" stroke="#5f9ff5" stroke-width="1.25"/>
<path d="M267.70,338.21 V354.34 M264.70,338.21 h6 M264.70,354.34 h6" fill="none" stroke="#5f9ff5" stroke-width="1.25"/>
<path d="M276.97,369.92 V376.38 M273.97,369.92 h6 M273.97,376.38 h6" fill="none" stroke="#5f9ff5" stroke-width="1.25"/>
<polyline points="91.63,370.46 100.90,348.96 119.43,332.84 137.97,324.24 156.50,322.09 175.03,325.85 184.30,426.90 193.57,328.00 212.10,324.77 230.63,324.77 249.17,333.38 267.70,346.27 276.97,373.15" fill="none" stroke="#5f9ff5" stroke-width="1.6" stroke-linejoin="round"/>
<path d="M88.03,367.86 H95.23 L91.63,374.06 Z" fill="#5f9ff5"/>
<path d="M97.30,346.36 H104.50 L100.90,352.56 Z" fill="#5f9ff5"/>
<path d="M115.83,330.24 H123.03 L119.43,336.44 Z" fill="#5f9ff5"/>
<path d="M134.37,321.64 H141.57 L137.97,327.84 Z" fill="#5f9ff5"/>
<path d="M152.90,319.49 H160.10 L156.50,325.69 Z" fill="#5f9ff5"/>
<path d="M171.43,323.25 H178.63 L175.03,329.45 Z" fill="#5f9ff5"/>
<path d="M180.70,424.30 H187.90 L184.30,430.50 Z" fill="#5f9ff5"/>
<path d="M189.97,325.40 H197.17 L193.57,331.60 Z" fill="#5f9ff5"/>
<path d="M208.50,322.17 H215.70 L212.10,328.38 Z" fill="#5f9ff5"/>
<path d="M227.03,322.17 H234.23 L230.63,328.38 Z" fill="#5f9ff5"/>
<path d="M245.57,330.77 H252.77 L249.17,336.98 Z" fill="#5f9ff5"/>
<path d="M264.10,343.67 H271.30 L267.70,349.88 Z" fill="#5f9ff5"/>
<path d="M273.37,370.55 H280.57 L276.97,376.75 Z" fill="#5f9ff5"/>
<path d="M91.63,368.31 V373.69 M88.63,368.31 h6 M88.63,373.69 h6" fill="none" stroke="#f09a48" stroke-width="1.25"/>
<path d="M100.90,342.51 V347.89 M97.90,342.51 h6 M97.90,347.89 h6" fill="none" stroke="#f09a48" stroke-width="1.25"/>
<path d="M119.43,320.47 V333.37 M116.43,320.47 h6 M116.43,333.37 h6" fill="none" stroke="#f09a48" stroke-width="1.25"/>
<path d="M137.97,322.09 V326.39 M134.97,322.09 h6 M134.97,326.39 h6" fill="none" stroke="#f09a48" stroke-width="1.25"/>
<path d="M156.50,319.40 V323.70 M153.50,319.40 h6 M153.50,323.70 h6" fill="none" stroke="#f09a48" stroke-width="1.25"/>
<path d="M175.03,319.40 V328.00 M172.03,319.40 h6 M172.03,328.00 h6" fill="none" stroke="#f09a48" stroke-width="1.25"/>
<path d="M193.57,322.09 V328.54 M190.57,322.09 h6 M190.57,328.54 h6" fill="none" stroke="#f09a48" stroke-width="1.25"/>
<path d="M212.10,319.40 V325.85 M209.10,319.40 h6 M209.10,325.85 h6" fill="none" stroke="#f09a48" stroke-width="1.25"/>
<path d="M230.63,319.40 V325.85 M227.63,319.40 h6 M227.63,325.85 h6" fill="none" stroke="#f09a48" stroke-width="1.25"/>
<path d="M249.17,324.24 V332.84 M246.17,324.24 h6 M246.17,332.84 h6" fill="none" stroke="#f09a48" stroke-width="1.25"/>
<path d="M267.70,332.30 V345.20 M264.70,332.30 h6 M264.70,345.20 h6" fill="none" stroke="#f09a48" stroke-width="1.25"/>
<path d="M276.97,367.77 V380.67 M273.97,367.77 h6 M273.97,380.67 h6" fill="none" stroke="#f09a48" stroke-width="1.25"/>
<polyline points="91.63,371.00 100.90,345.20 119.43,326.92 137.97,324.24 156.50,321.55 175.03,323.70 184.30,426.90 193.57,325.31 212.10,322.62 230.63,322.62 249.17,328.54 267.70,338.75 276.97,374.22" fill="none" stroke="#f09a48" stroke-width="1.6" stroke-linejoin="round"/>
<rect x="88.13" y="367.70" width="7" height="6.6" fill="#f09a48"/>
<rect x="97.40" y="341.90" width="7" height="6.6" fill="#f09a48"/>
<rect x="115.93" y="323.62" width="7" height="6.6" fill="#f09a48"/>
<rect x="134.47" y="320.94" width="7" height="6.6" fill="#f09a48"/>
<rect x="153.00" y="318.25" width="7" height="6.6" fill="#f09a48"/>
<rect x="171.53" y="320.40" width="7" height="6.6" fill="#f09a48"/>
<rect x="180.80" y="423.60" width="7" height="6.6" fill="#f09a48"/>
<rect x="190.07" y="322.01" width="7" height="6.6" fill="#f09a48"/>
<rect x="208.60" y="319.32" width="7" height="6.6" fill="#f09a48"/>
<rect x="227.13" y="319.32" width="7" height="6.6" fill="#f09a48"/>
<rect x="245.67" y="325.24" width="7" height="6.6" fill="#f09a48"/>
<rect x="264.20" y="335.45" width="7" height="6.6" fill="#f09a48"/>
<rect x="273.47" y="370.92" width="7" height="6.6" fill="#f09a48"/>
<path d="M368.73,370.57 V377.02 M365.73,370.57 h6 M365.73,377.02 h6" fill="none" stroke="#000000" stroke-width="1.25"/>
<path d="M378.00,341.71 V351.92 M375.00,341.71 h6 M375.00,351.92 h6" fill="none" stroke="#000000" stroke-width="1.25"/>
<path d="M396.53,323.43 V335.26 M393.53,323.43 h6 M393.53,335.26 h6" fill="none" stroke="#000000" stroke-width="1.25"/>
<path d="M415.07,315.58 V330.10 M412.07,315.58 h6 M412.07,330.10 h6" fill="none" stroke="#000000" stroke-width="1.25"/>
<path d="M433.60,316.93 V328.75 M430.60,316.93 h6 M430.60,328.75 h6" fill="none" stroke="#000000" stroke-width="1.25"/>
<path d="M452.13,323.70 V332.30 M449.13,323.70 h6 M449.13,332.30 h6" fill="none" stroke="#000000" stroke-width="1.25"/>
<path d="M470.67,321.55 V329.61 M467.67,321.55 h6 M467.67,329.61 h6" fill="none" stroke="#000000" stroke-width="1.25"/>
<path d="M489.20,317.79 V328.54 M486.20,317.79 h6 M486.20,328.54 h6" fill="none" stroke="#000000" stroke-width="1.25"/>
<path d="M507.73,323.65 V329.56 M504.73,323.65 h6 M504.73,329.56 h6" fill="none" stroke="#000000" stroke-width="1.25"/>
<path d="M526.27,329.61 V340.36 M523.27,329.61 h6 M523.27,340.36 h6" fill="none" stroke="#000000" stroke-width="1.25"/>
<path d="M544.80,339.56 V351.92 M541.80,339.56 h6 M541.80,351.92 h6" fill="none" stroke="#000000" stroke-width="1.25"/>
<path d="M554.07,372.61 V380.14 M551.07,372.61 h6 M551.07,380.14 h6" fill="none" stroke="#000000" stroke-width="1.25"/>
<polyline points="368.73,373.79 378.00,346.81 396.53,329.34 415.07,322.84 433.60,322.84 452.13,328.00 461.40,426.90 470.67,325.58 489.20,323.16 507.73,326.60 526.27,334.99 544.80,345.74 554.07,376.38" fill="none" stroke="#000000" stroke-width="1.6" stroke-linejoin="round"/>
<circle cx="368.73" cy="373.79" r="2.9" fill="#000000"/>
<circle cx="378.00" cy="346.81" r="2.9" fill="#000000"/>
<circle cx="396.53" cy="329.34" r="2.9" fill="#000000"/>
<circle cx="415.07" cy="322.84" r="2.9" fill="#000000"/>
<circle cx="433.60" cy="322.84" r="2.9" fill="#000000"/>
<circle cx="452.13" cy="328.00" r="2.9" fill="#000000"/>
<circle cx="461.40" cy="426.90" r="2.9" fill="#000000"/>
<circle cx="470.67" cy="325.58" r="2.9" fill="#000000"/>
<circle cx="489.20" cy="323.16" r="2.9" fill="#000000"/>
<circle cx="507.73" cy="326.60" r="2.9" fill="#000000"/>
<circle cx="526.27" cy="334.99" r="2.9" fill="#000000"/>
<circle cx="544.80" cy="345.74" r="2.9" fill="#000000"/>
<circle cx="554.07" cy="376.38" r="2.9" fill="#000000"/>
<path d="M368.73,384.44 V389.81 M365.73,384.44 h6 M365.73,389.81 h6" fill="none" stroke="#3fe61e" stroke-width="1.25"/>
<path d="M378.00,356.49 V361.86 M375.00,356.49 h6 M375.00,361.86 h6" fill="none" stroke="#3fe61e" stroke-width="1.25"/>
<path d="M396.53,350.57 V357.02 M393.53,350.57 h6 M393.53,357.02 h6" fill="none" stroke="#3fe61e" stroke-width="1.25"/>
<path d="M415.07,340.63 V349.23 M412.07,340.63 h6 M412.07,349.23 h6" fill="none" stroke="#3fe61e" stroke-width="1.25"/>
<path d="M433.60,340.36 V346.81 M430.60,340.36 h6 M430.60,346.81 h6" fill="none" stroke="#3fe61e" stroke-width="1.25"/>
<path d="M452.13,342.51 V351.11 M449.13,342.51 h6 M449.13,351.11 h6" fill="none" stroke="#3fe61e" stroke-width="1.25"/>
<path d="M470.67,340.09 V348.69 M467.67,340.09 h6 M467.67,348.69 h6" fill="none" stroke="#3fe61e" stroke-width="1.25"/>
<path d="M489.20,339.29 V347.89 M486.20,339.29 h6 M486.20,347.89 h6" fill="none" stroke="#3fe61e" stroke-width="1.25"/>
<path d="M507.73,343.69 V350.14 M504.73,343.69 h6 M504.73,350.14 h6" fill="none" stroke="#3fe61e" stroke-width="1.25"/>
<path d="M526.27,348.96 V355.41 M523.27,348.96 h6 M523.27,355.41 h6" fill="none" stroke="#3fe61e" stroke-width="1.25"/>
<path d="M544.80,355.14 V360.52 M541.80,355.14 h6 M541.80,360.52 h6" fill="none" stroke="#3fe61e" stroke-width="1.25"/>
<path d="M554.07,383.15 V389.60 M551.07,383.15 h6 M551.07,389.60 h6" fill="none" stroke="#3fe61e" stroke-width="1.25"/>
<polyline points="368.73,387.12 378.00,359.17 396.53,353.80 415.07,344.93 433.60,343.59 452.13,346.81 461.40,426.90 470.67,344.39 489.20,343.59 507.73,346.92 526.27,352.19 544.80,357.83 554.07,386.37" fill="none" stroke="#3fe61e" stroke-width="1.6" stroke-linejoin="round"/>
<rect x="365.43" y="384.02" width="6.6" height="6.2" fill="none" stroke="#3fe61e" stroke-width="1.5"/>
<rect x="374.70" y="356.07" width="6.6" height="6.2" fill="none" stroke="#3fe61e" stroke-width="1.5"/>
<rect x="393.23" y="350.70" width="6.6" height="6.2" fill="none" stroke="#3fe61e" stroke-width="1.5"/>
<rect x="411.77" y="341.83" width="6.6" height="6.2" fill="none" stroke="#3fe61e" stroke-width="1.5"/>
<rect x="430.30" y="340.49" width="6.6" height="6.2" fill="none" stroke="#3fe61e" stroke-width="1.5"/>
<rect x="448.83" y="343.71" width="6.6" height="6.2" fill="none" stroke="#3fe61e" stroke-width="1.5"/>
<rect x="458.10" y="423.80" width="6.6" height="6.2" fill="none" stroke="#3fe61e" stroke-width="1.5"/>
<rect x="467.37" y="341.29" width="6.6" height="6.2" fill="none" stroke="#3fe61e" stroke-width="1.5"/>
<rect x="485.90" y="340.49" width="6.6" height="6.2" fill="none" stroke="#3fe61e" stroke-width="1.5"/>
<rect x="504.43" y="343.82" width="6.6" height="6.2" fill="none" stroke="#3fe61e" stroke-width="1.5"/>
<rect x="522.97" y="349.09" width="6.6" height="6.2" fill="none" stroke="#3fe61e" stroke-width="1.5"/>
<rect x="541.50" y="354.73" width="6.6" height="6.2" fill="none" stroke="#3fe61e" stroke-width="1.5"/>
<rect x="550.77" y="383.27" width="6.6" height="6.2" fill="none" stroke="#3fe61e" stroke-width="1.5"/>
<path d="M368.73,375.30 V390.35 M365.73,375.30 h6 M365.73,390.35 h6" fill="none" stroke="#5f9ff5" stroke-width="1.25"/>
<path d="M378.00,360.79 V371.54 M375.00,360.79 h6 M375.00,371.54 h6" fill="none" stroke="#5f9ff5" stroke-width="1.25"/>
<path d="M396.53,345.74 V361.86 M393.53,345.74 h6 M393.53,361.86 h6" fill="none" stroke="#5f9ff5" stroke-width="1.25"/>
<path d="M415.07,346.54 V357.29 M412.07,346.54 h6 M412.07,357.29 h6" fill="none" stroke="#5f9ff5" stroke-width="1.25"/>
<path d="M433.60,344.93 V352.46 M430.60,344.93 h6 M430.60,352.46 h6" fill="none" stroke="#5f9ff5" stroke-width="1.25"/>
<path d="M452.13,345.20 V349.50 M449.13,345.20 h6 M449.13,349.50 h6" fill="none" stroke="#5f9ff5" stroke-width="1.25"/>
<path d="M470.67,341.97 V352.72 M467.67,341.97 h6 M467.67,352.72 h6" fill="none" stroke="#5f9ff5" stroke-width="1.25"/>
<path d="M489.20,343.05 V351.65 M486.20,343.05 h6 M486.20,351.65 h6" fill="none" stroke="#5f9ff5" stroke-width="1.25"/>
<path d="M507.73,346.81 V353.26 M504.73,346.81 h6 M504.73,353.26 h6" fill="none" stroke="#5f9ff5" stroke-width="1.25"/>
<path d="M526.27,349.77 V355.14 M523.27,349.77 h6 M523.27,355.14 h6" fill="none" stroke="#5f9ff5" stroke-width="1.25"/>
<path d="M544.80,355.41 V367.24 M541.80,355.41 h6 M541.80,367.24 h6" fill="none" stroke="#5f9ff5" stroke-width="1.25"/>
<path d="M554.07,381.37 V396.42 M551.07,381.37 h6 M551.07,396.42 h6" fill="none" stroke="#5f9ff5" stroke-width="1.25"/>
<polyline points="368.73,382.82 378.00,366.16 396.53,353.80 415.07,351.92 433.60,348.69 452.13,347.35 461.40,426.90 470.67,347.35 489.20,347.35 507.73,350.04 526.27,352.46 544.80,361.32 554.07,388.90" fill="none" stroke="#5f9ff5" stroke-width="1.6" stroke-linejoin="round"/>
<path d="M365.13,380.22 H372.33 L368.73,386.43 Z" fill="#5f9ff5"/>
<path d="M374.40,363.56 H381.60 L378.00,369.76 Z" fill="#5f9ff5"/>
<path d="M392.93,351.20 H400.13 L396.53,357.40 Z" fill="#5f9ff5"/>
<path d="M411.47,349.32 H418.67 L415.07,355.52 Z" fill="#5f9ff5"/>
<path d="M430.00,346.09 H437.20 L433.60,352.29 Z" fill="#5f9ff5"/>
<path d="M448.53,344.75 H455.73 L452.13,350.95 Z" fill="#5f9ff5"/>
<path d="M457.80,424.30 H465.00 L461.40,430.50 Z" fill="#5f9ff5"/>
<path d="M467.07,344.75 H474.27 L470.67,350.95 Z" fill="#5f9ff5"/>
<path d="M485.60,344.75 H492.80 L489.20,350.95 Z" fill="#5f9ff5"/>
<path d="M504.13,347.44 H511.33 L507.73,353.64 Z" fill="#5f9ff5"/>
<path d="M522.67,349.86 H529.87 L526.27,356.06 Z" fill="#5f9ff5"/>
<path d="M541.20,358.72 H548.40 L544.80,364.93 Z" fill="#5f9ff5"/>
<path d="M550.47,386.30 H557.67 L554.07,392.50 Z" fill="#5f9ff5"/>
<path d="M368.73,386.21 V391.59 M365.73,386.21 h6 M365.73,391.59 h6" fill="none" stroke="#f09a48" stroke-width="1.25"/>
<path d="M378.00,354.34 V359.71 M375.00,354.34 h6 M375.00,359.71 h6" fill="none" stroke="#f09a48" stroke-width="1.25"/>
<path d="M396.53,349.50 V358.10 M393.53,349.50 h6 M393.53,358.10 h6" fill="none" stroke="#f09a48" stroke-width="1.25"/>
<path d="M415.07,338.75 V353.80 M412.07,338.75 h6 M412.07,353.80 h6" fill="none" stroke="#f09a48" stroke-width="1.25"/>
<path d="M433.60,341.98 V346.27 M430.60,341.98 h6 M430.60,346.27 h6" fill="none" stroke="#f09a48" stroke-width="1.25"/>
<path d="M452.13,343.59 V348.96 M449.13,343.59 h6 M449.13,348.96 h6" fill="none" stroke="#f09a48" stroke-width="1.25"/>
<path d="M470.67,337.41 V351.38 M467.67,337.41 h6 M467.67,351.38 h6" fill="none" stroke="#f09a48" stroke-width="1.25"/>
<path d="M489.20,339.02 V349.77 M486.20,339.02 h6 M486.20,349.77 h6" fill="none" stroke="#f09a48" stroke-width="1.25"/>
<path d="M507.73,339.13 V354.71 M504.73,339.13 h6 M504.73,354.71 h6" fill="none" stroke="#f09a48" stroke-width="1.25"/>
<path d="M526.27,345.63 V358.21 M523.27,345.63 h6 M523.27,358.21 h6" fill="none" stroke="#f09a48" stroke-width="1.25"/>
<path d="M544.80,352.83 V357.13 M541.80,352.83 h6 M541.80,357.13 h6" fill="none" stroke="#f09a48" stroke-width="1.25"/>
<path d="M554.07,384.44 V390.89 M551.07,384.44 h6 M551.07,390.89 h6" fill="none" stroke="#f09a48" stroke-width="1.25"/>
<polyline points="368.73,388.90 378.00,357.02 396.53,353.80 415.07,346.27 433.60,344.12 452.13,346.27 461.40,426.90 470.67,344.39 489.20,344.39 507.73,346.92 526.27,351.92 544.80,354.98 554.07,387.66" fill="none" stroke="#f09a48" stroke-width="1.6" stroke-linejoin="round"/>
<rect x="365.23" y="385.60" width="7" height="6.6" fill="#f09a48"/>
<rect x="374.50" y="353.72" width="7" height="6.6" fill="#f09a48"/>
<rect x="393.03" y="350.50" width="7" height="6.6" fill="#f09a48"/>
<rect x="411.57" y="342.97" width="7" height="6.6" fill="#f09a48"/>
<rect x="430.10" y="340.82" width="7" height="6.6" fill="#f09a48"/>
<rect x="448.63" y="342.97" width="7" height="6.6" fill="#f09a48"/>
<rect x="457.90" y="423.60" width="7" height="6.6" fill="#f09a48"/>
<rect x="467.17" y="341.09" width="7" height="6.6" fill="#f09a48"/>
<rect x="485.70" y="341.09" width="7" height="6.6" fill="#f09a48"/>
<rect x="504.23" y="343.62" width="7" height="6.6" fill="#f09a48"/>
<rect x="522.77" y="348.62" width="7" height="6.6" fill="#f09a48"/>
<rect x="541.30" y="351.68" width="7" height="6.6" fill="#f09a48"/>
<rect x="550.57" y="384.36" width="7" height="6.6" fill="#f09a48"/>
<path d="M91.63,589.37 V595.82 M88.63,589.37 h6 M88.63,595.82 h6" fill="none" stroke="#000000" stroke-width="1.25"/>
<path d="M100.90,560.51 V570.72 M97.90,560.51 h6 M97.90,570.72 h6" fill="none" stroke="#000000" stroke-width="1.25"/>
<path d="M119.43,542.23 V554.06 M116.43,542.23 h6 M116.43,554.06 h6" fill="none" stroke="#000000" stroke-width="1.25"/>
<path d="M137.97,534.38 V548.90 M134.97,534.38 h6 M134.97,548.90 h6" fill="none" stroke="#000000" stroke-width="1.25"/>
<path d="M156.50,535.73 V547.55 M153.50,535.73 h6 M153.50,547.55 h6" fill="none" stroke="#000000" stroke-width="1.25"/>
<path d="M175.03,542.50 V551.10 M172.03,542.50 h6 M172.03,551.10 h6" fill="none" stroke="#000000" stroke-width="1.25"/>
<path d="M193.57,540.35 V548.41 M190.57,540.35 h6 M190.57,548.41 h6" fill="none" stroke="#000000" stroke-width="1.25"/>
<path d="M212.10,536.59 V547.34 M209.10,536.59 h6 M209.10,547.34 h6" fill="none" stroke="#000000" stroke-width="1.25"/>
<path d="M230.63,542.45 V548.36 M227.63,542.45 h6 M227.63,548.36 h6" fill="none" stroke="#000000" stroke-width="1.25"/>
<path d="M249.17,548.41 V559.16 M246.17,548.41 h6 M246.17,559.16 h6" fill="none" stroke="#000000" stroke-width="1.25"/>
<path d="M267.70,558.36 V570.72 M264.70,558.36 h6 M264.70,570.72 h6" fill="none" stroke="#000000" stroke-width="1.25"/>
<path d="M276.97,591.41 V598.94 M273.97,591.41 h6 M273.97,598.94 h6" fill="none" stroke="#000000" stroke-width="1.25"/>
<polyline points="91.63,592.60 100.90,565.61 119.43,548.14 137.97,541.64 156.50,541.64 175.03,546.80 184.30,645.70 193.57,544.38 212.10,541.96 230.63,545.40 249.17,553.79 267.70,564.54 276.97,595.18" fill="none" stroke="#000000" stroke-width="1.6" stroke-linejoin="round"/>
<circle cx="91.63" cy="592.60" r="2.9" fill="#000000"/>
<circle cx="100.90" cy="565.61" r="2.9" fill="#000000"/>
<circle cx="119.43" cy="548.14" r="2.9" fill="#000000"/>
<circle cx="137.97" cy="541.64" r="2.9" fill="#000000"/>
<circle cx="156.50" cy="541.64" r="2.9" fill="#000000"/>
<circle cx="175.03" cy="546.80" r="2.9" fill="#000000"/>
<circle cx="184.30" cy="645.70" r="2.9" fill="#000000"/>
<circle cx="193.57" cy="544.38" r="2.9" fill="#000000"/>
<circle cx="212.10" cy="541.96" r="2.9" fill="#000000"/>
<circle cx="230.63" cy="545.40" r="2.9" fill="#000000"/>
<circle cx="249.17" cy="553.79" r="2.9" fill="#000000"/>
<circle cx="267.70" cy="564.54" r="2.9" fill="#000000"/>
<circle cx="276.97" cy="595.18" r="2.9" fill="#000000"/>
<path d="M91.63,603.24 V608.61 M88.63,603.24 h6 M88.63,608.61 h6" fill="none" stroke="#3fe61e" stroke-width="1.25"/>
<path d="M100.90,575.29 V580.66 M97.90,575.29 h6 M97.90,580.66 h6" fill="none" stroke="#3fe61e" stroke-width="1.25"/>
<path d="M119.43,569.38 V575.83 M116.43,569.38 h6 M116.43,575.83 h6" fill="none" stroke="#3fe61e" stroke-width="1.25"/>
<path d="M137.97,559.43 V568.03 M134.97,559.43 h6 M134.97,568.03 h6" fill="none" stroke="#3fe61e" stroke-width="1.25"/>
<path d="M156.50,559.16 V565.61 M153.50,559.16 h6 M153.50,565.61 h6" fill="none" stroke="#3fe61e" stroke-width="1.25"/>
<path d="M175.03,561.31 V569.91 M172.03,561.31 h6 M172.03,569.91 h6" fill="none" stroke="#3fe61e" stroke-width="1.25"/>
<path d="M193.57,558.89 V567.49 M190.57,558.89 h6 M190.57,567.49 h6" fill="none" stroke="#3fe61e" stroke-width="1.25"/>
<path d="M212.10,558.09 V566.69 M209.10,558.09 h6 M209.10,566.69 h6" fill="none" stroke="#3fe61e" stroke-width="1.25"/>
<path d="M230.63,562.50 V568.95 M227.63,562.50 h6 M227.63,568.95 h6" fill="none" stroke="#3fe61e" stroke-width="1.25"/>
<path d="M249.17,567.76 V574.21 M246.17,567.76 h6 M246.17,574.21 h6" fill="none" stroke="#3fe61e" stroke-width="1.25"/>
<path d="M267.70,573.94 V579.32 M264.70,573.94 h6 M264.70,579.32 h6" fill="none" stroke="#3fe61e" stroke-width="1.25"/>
<path d="M276.97,601.95 V608.40 M273.97,601.95 h6 M273.97,608.40 h6" fill="none" stroke="#3fe61e" stroke-width="1.25"/>
<polyline points="91.63,605.93 100.90,577.98 119.43,572.60 137.97,563.73 156.50,562.39 175.03,565.61 184.30,645.70 193.57,563.19 212.10,562.39 230.63,565.72 249.17,570.99 267.70,576.63 276.97,605.17" fill="none" stroke="#3fe61e" stroke-width="1.6" stroke-linejoin="round"/>
<rect x="88.33" y="602.83" width="6.6" height="6.2" fill="none" stroke="#3fe61e" stroke-width="1.5"/>
<rect x="97.60" y="574.88" width="6.6" height="6.2" fill="none" stroke="#3fe61e" stroke-width="1.5"/>
<rect x="116.13" y="569.50" width="6.6" height="6.2" fill="none" stroke="#3fe61e" stroke-width="1.5"/>
<rect x="134.67" y="560.63" width="6.6" height="6.2" fill="none" stroke="#3fe61e" stroke-width="1.5"/>
<rect x="153.20" y="559.29" width="6.6" height="6.2" fill="none" stroke="#3fe61e" stroke-width="1.5"/>
<rect x="171.73" y="562.51" width="6.6" height="6.2" fill="none" stroke="#3fe61e" stroke-width="1.5"/>
<rect x="181.00" y="642.60" width="6.6" height="6.2" fill="none" stroke="#3fe61e" stroke-width="1.5"/>
<rect x="190.27" y="560.09" width="6.6" height="6.2" fill="none" stroke="#3fe61e" stroke-width="1.5"/>
<rect x="208.80" y="559.29" width="6.6" height="6.2" fill="none" stroke="#3fe61e" stroke-width="1.5"/>
<rect x="227.33" y="562.62" width="6.6" height="6.2" fill="none" stroke="#3fe61e" stroke-width="1.5"/>
<rect x="245.87" y="567.89" width="6.6" height="6.2" fill="none" stroke="#3fe61e" stroke-width="1.5"/>
<rect x="264.40" y="573.53" width="6.6" height="6.2" fill="none" stroke="#3fe61e" stroke-width="1.5"/>
<rect x="273.67" y="602.07" width="6.6" height="6.2" fill="none" stroke="#3fe61e" stroke-width="1.5"/>
<path d="M91.63,596.79 V616.14 M88.63,596.79 h6 M88.63,616.14 h6" fill="none" stroke="#9b9b9b" stroke-width="1.25"/>
<path d="M100.90,574.21 V582.81 M97.90,574.21 h6 M97.90,582.81 h6" fill="none" stroke="#9b9b9b" stroke-width="1.25"/>
<path d="M119.43,568.46 V575.99 M116.43,568.46 h6 M116.43,575.99 h6" fill="none" stroke="#9b9b9b" stroke-width="1.25"/>
<path d="M137.97,565.61 V575.29 M134.97,565.61 h6 M134.97,575.29 h6" fill="none" stroke="#9b9b9b" stroke-width="1.25"/>
<path d="M156.50,570.45 V576.90 M153.50,570.45 h6 M153.50,576.90 h6" fill="none" stroke="#9b9b9b" stroke-width="1.25"/>
<path d="M175.03,573.68 V582.27 M172.03,573.68 h6 M172.03,582.27 h6" fill="none" stroke="#9b9b9b" stroke-width="1.25"/>
<path d="M193.57,575.29 V586.04 M190.57,575.29 h6 M190.57,586.04 h6" fill="none" stroke="#9b9b9b" stroke-width="1.25"/>
<path d="M212.10,572.60 V584.43 M209.10,572.60 h6 M209.10,584.43 h6" fill="none" stroke="#9b9b9b" stroke-width="1.25"/>
<path d="M230.63,567.23 V580.13 M227.63,567.23 h6 M227.63,580.13 h6" fill="none" stroke="#9b9b9b" stroke-width="1.25"/>
<path d="M249.17,570.72 V579.32 M246.17,570.72 h6 M246.17,579.32 h6" fill="none" stroke="#9b9b9b" stroke-width="1.25"/>
<path d="M267.70,580.13 V588.73 M264.70,580.13 h6 M264.70,588.73 h6" fill="none" stroke="#9b9b9b" stroke-width="1.25"/>
<path d="M276.97,599.05 V614.10 M273.97,599.05 h6 M273.97,614.10 h6" fill="none" stroke="#9b9b9b" stroke-width="1.25"/>
<polyline points="91.63,606.46 100.90,578.51 119.43,572.22 137.97,570.45 156.50,573.68 175.03,577.98 184.30,645.70 193.57,580.66 212.10,578.51 230.63,573.68 249.17,575.02 267.70,584.43 276.97,606.57" fill="none" stroke="#9b9b9b" stroke-width="1.6" stroke-linejoin="round"/>
<circle cx="91.63" cy="606.46" r="2.7" fill="#9b9b9b"/>
<circle cx="100.90" cy="578.51" r="2.7" fill="#9b9b9b"/>
<circle cx="119.43" cy="572.22" r="2.7" fill="#9b9b9b"/>
<circle cx="137.97" cy="570.45" r="2.7" fill="#9b9b9b"/>
<circle cx="156.50" cy="573.68" r="2.7" fill="#9b9b9b"/>
<circle cx="175.03" cy="577.98" r="2.7" fill="#9b9b9b"/>
<circle cx="184.30" cy="645.70" r="2.7" fill="#9b9b9b"/>
<circle cx="193.57" cy="580.66" r="2.7" fill="#9b9b9b"/>
<circle cx="212.10" cy="578.51" r="2.7" fill="#9b9b9b"/>
<circle cx="230.63" cy="573.68" r="2.7" fill="#9b9b9b"/>
<circle cx="249.17" cy="575.02" r="2.7" fill="#9b9b9b"/>
<circle cx="267.70" cy="584.43" r="2.7" fill="#9b9b9b"/>
<circle cx="276.97" cy="606.57" r="2.7" fill="#9b9b9b"/>
<path d="M91.63,609.26 V618.93 M88.63,609.26 h6 M88.63,618.93 h6" fill="none" stroke="#b765ee" stroke-width="1.25"/>
<path d="M100.90,572.06 V584.96 M97.90,572.06 h6 M97.90,584.96 h6" fill="none" stroke="#b765ee" stroke-width="1.25"/>
<path d="M119.43,565.34 V573.41 M116.43,565.34 h6 M116.43,573.41 h6" fill="none" stroke="#b765ee" stroke-width="1.25"/>
<path d="M137.97,560.45 V567.98 M134.97,560.45 h6 M134.97,567.98 h6" fill="none" stroke="#b765ee" stroke-width="1.25"/>
<path d="M156.50,558.63 V567.23 M153.50,558.63 h6 M153.50,567.23 h6" fill="none" stroke="#b765ee" stroke-width="1.25"/>
<path d="M175.03,558.62 V569.38 M172.03,558.62 h6 M172.03,569.38 h6" fill="none" stroke="#b765ee" stroke-width="1.25"/>
<path d="M193.57,557.01 V567.76 M190.57,557.01 h6 M190.57,567.76 h6" fill="none" stroke="#b765ee" stroke-width="1.25"/>
<path d="M212.10,559.16 V567.76 M209.10,559.16 h6 M209.10,567.76 h6" fill="none" stroke="#b765ee" stroke-width="1.25"/>
<path d="M230.63,559.70 V570.45 M227.63,559.70 h6 M227.63,570.45 h6" fill="none" stroke="#b765ee" stroke-width="1.25"/>
<path d="M249.17,565.08 V582.28 M246.17,565.08 h6 M246.17,582.28 h6" fill="none" stroke="#b765ee" stroke-width="1.25"/>
<path d="M267.70,581.20 V589.80 M264.70,581.20 h6 M264.70,589.80 h6" fill="none" stroke="#b765ee" stroke-width="1.25"/>
<polyline points="91.63,614.10 100.90,578.51 119.43,569.38 137.97,564.22 156.50,562.93 175.03,564.00 184.30,645.70 193.57,562.39 212.10,563.46 230.63,565.08 249.17,573.68 267.70,585.50 276.97,621.51" fill="none" stroke="#b765ee" stroke-width="1.9" stroke-linejoin="round"/>
<path d="M87.93,614.10 L91.63,610.39 L95.33,614.10 L91.63,617.80 Z" fill="#b765ee"/>
<path d="M97.20,578.51 L100.90,574.81 L104.60,578.51 L100.90,582.21 Z" fill="#b765ee"/>
<path d="M115.73,569.38 L119.43,565.67 L123.13,569.38 L119.43,573.08 Z" fill="#b765ee"/>
<path d="M134.27,564.22 L137.97,560.51 L141.67,564.22 L137.97,567.92 Z" fill="#b765ee"/>
<path d="M152.80,562.93 L156.50,559.23 L160.20,562.93 L156.50,566.63 Z" fill="#b765ee"/>
<path d="M171.33,564.00 L175.03,560.30 L178.73,564.00 L175.03,567.70 Z" fill="#b765ee"/>
<path d="M180.60,645.70 L184.30,642.00 L188.00,645.70 L184.30,649.40 Z" fill="#b765ee"/>
<path d="M189.87,562.39 L193.57,558.69 L197.27,562.39 L193.57,566.09 Z" fill="#b765ee"/>
<path d="M208.40,563.46 L212.10,559.76 L215.80,563.46 L212.10,567.16 Z" fill="#b765ee"/>
<path d="M226.93,565.08 L230.63,561.38 L234.33,565.08 L230.63,568.78 Z" fill="#b765ee"/>
<path d="M245.47,573.68 L249.17,569.98 L252.87,573.68 L249.17,577.38 Z" fill="#b765ee"/>
<path d="M264.00,585.50 L267.70,581.80 L271.40,585.50 L267.70,589.20 Z" fill="#b765ee"/>
<path d="M273.27,621.51 L276.97,617.81 L280.67,621.51 L276.97,625.21 Z" fill="#b765ee"/>
<path d="M368.73,589.37 V595.82 M365.73,589.37 h6 M365.73,595.82 h6" fill="none" stroke="#000000" stroke-width="1.25"/>
<path d="M378.00,560.51 V570.72 M375.00,560.51 h6 M375.00,570.72 h6" fill="none" stroke="#000000" stroke-width="1.25"/>
<path d="M396.53,542.23 V554.06 M393.53,542.23 h6 M393.53,554.06 h6" fill="none" stroke="#000000" stroke-width="1.25"/>
<path d="M415.07,534.38 V548.90 M412.07,534.38 h6 M412.07,548.90 h6" fill="none" stroke="#000000" stroke-width="1.25"/>
<path d="M433.60,535.73 V547.55 M430.60,535.73 h6 M430.60,547.55 h6" fill="none" stroke="#000000" stroke-width="1.25"/>
<path d="M452.13,542.50 V551.10 M449.13,542.50 h6 M449.13,551.10 h6" fill="none" stroke="#000000" stroke-width="1.25"/>
<path d="M470.67,540.35 V548.41 M467.67,540.35 h6 M467.67,548.41 h6" fill="none" stroke="#000000" stroke-width="1.25"/>
<path d="M489.20,536.59 V547.34 M486.20,536.59 h6 M486.20,547.34 h6" fill="none" stroke="#000000" stroke-width="1.25"/>
<path d="M507.73,542.45 V548.36 M504.73,542.45 h6 M504.73,548.36 h6" fill="none" stroke="#000000" stroke-width="1.25"/>
<path d="M526.27,548.41 V559.16 M523.27,548.41 h6 M523.27,559.16 h6" fill="none" stroke="#000000" stroke-width="1.25"/>
<path d="M544.80,558.36 V570.72 M541.80,558.36 h6 M541.80,570.72 h6" fill="none" stroke="#000000" stroke-width="1.25"/>
<path d="M554.07,591.41 V598.94 M551.07,591.41 h6 M551.07,598.94 h6" fill="none" stroke="#000000" stroke-width="1.25"/>
<polyline points="368.73,592.60 378.00,565.61 396.53,548.14 415.07,541.64 433.60,541.64 452.13,546.80 461.40,645.70 470.67,544.38 489.20,541.96 507.73,545.40 526.27,553.79 544.80,564.54 554.07,595.18" fill="none" stroke="#000000" stroke-width="1.6" stroke-linejoin="round"/>
<circle cx="368.73" cy="592.60" r="2.9" fill="#000000"/>
<circle cx="378.00" cy="565.61" r="2.9" fill="#000000"/>
<circle cx="396.53" cy="548.14" r="2.9" fill="#000000"/>
<circle cx="415.07" cy="541.64" r="2.9" fill="#000000"/>
<circle cx="433.60" cy="541.64" r="2.9" fill="#000000"/>
<circle cx="452.13" cy="546.80" r="2.9" fill="#000000"/>
<circle cx="461.40" cy="645.70" r="2.9" fill="#000000"/>
<circle cx="470.67" cy="544.38" r="2.9" fill="#000000"/>
<circle cx="489.20" cy="541.96" r="2.9" fill="#000000"/>
<circle cx="507.73" cy="545.40" r="2.9" fill="#000000"/>
<circle cx="526.27" cy="553.79" r="2.9" fill="#000000"/>
<circle cx="544.80" cy="564.54" r="2.9" fill="#000000"/>
<circle cx="554.07" cy="595.18" r="2.9" fill="#000000"/>
<path d="M368.73,603.24 V608.61 M365.73,603.24 h6 M365.73,608.61 h6" fill="none" stroke="#3fe61e" stroke-width="1.25"/>
<path d="M378.00,575.29 V580.66 M375.00,575.29 h6 M375.00,580.66 h6" fill="none" stroke="#3fe61e" stroke-width="1.25"/>
<path d="M396.53,569.38 V575.83 M393.53,569.38 h6 M393.53,575.83 h6" fill="none" stroke="#3fe61e" stroke-width="1.25"/>
<path d="M415.07,559.43 V568.03 M412.07,559.43 h6 M412.07,568.03 h6" fill="none" stroke="#3fe61e" stroke-width="1.25"/>
<path d="M433.60,559.16 V565.61 M430.60,559.16 h6 M430.60,565.61 h6" fill="none" stroke="#3fe61e" stroke-width="1.25"/>
<path d="M452.13,561.31 V569.91 M449.13,561.31 h6 M449.13,569.91 h6" fill="none" stroke="#3fe61e" stroke-width="1.25"/>
<path d="M470.67,558.89 V567.49 M467.67,558.89 h6 M467.67,567.49 h6" fill="none" stroke="#3fe61e" stroke-width="1.25"/>
<path d="M489.20,558.09 V566.69 M486.20,558.09 h6 M486.20,566.69 h6" fill="none" stroke="#3fe61e" stroke-width="1.25"/>
<path d="M507.73,562.50 V568.95 M504.73,562.50 h6 M504.73,568.95 h6" fill="none" stroke="#3fe61e" stroke-width="1.25"/>
<path d="M526.27,567.76 V574.21 M523.27,567.76 h6 M523.27,574.21 h6" fill="none" stroke="#3fe61e" stroke-width="1.25"/>
<path d="M544.80,573.94 V579.32 M541.80,573.94 h6 M541.80,579.32 h6" fill="none" stroke="#3fe61e" stroke-width="1.25"/>
<path d="M554.07,601.95 V608.40 M551.07,601.95 h6 M551.07,608.40 h6" fill="none" stroke="#3fe61e" stroke-width="1.25"/>
<polyline points="368.73,605.93 378.00,577.98 396.53,572.60 415.07,563.73 433.60,562.39 452.13,565.61 461.40,645.70 470.67,563.19 489.20,562.39 507.73,565.72 526.27,570.99 544.80,576.63 554.07,605.17" fill="none" stroke="#3fe61e" stroke-width="1.6" stroke-linejoin="round"/>
<rect x="365.43" y="602.83" width="6.6" height="6.2" fill="none" stroke="#3fe61e" stroke-width="1.5"/>
<rect x="374.70" y="574.88" width="6.6" height="6.2" fill="none" stroke="#3fe61e" stroke-width="1.5"/>
<rect x="393.23" y="569.50" width="6.6" height="6.2" fill="none" stroke="#3fe61e" stroke-width="1.5"/>
<rect x="411.77" y="560.63" width="6.6" height="6.2" fill="none" stroke="#3fe61e" stroke-width="1.5"/>
<rect x="430.30" y="559.29" width="6.6" height="6.2" fill="none" stroke="#3fe61e" stroke-width="1.5"/>
<rect x="448.83" y="562.51" width="6.6" height="6.2" fill="none" stroke="#3fe61e" stroke-width="1.5"/>
<rect x="458.10" y="642.60" width="6.6" height="6.2" fill="none" stroke="#3fe61e" stroke-width="1.5"/>
<rect x="467.37" y="560.09" width="6.6" height="6.2" fill="none" stroke="#3fe61e" stroke-width="1.5"/>
<rect x="485.90" y="559.29" width="6.6" height="6.2" fill="none" stroke="#3fe61e" stroke-width="1.5"/>
<rect x="504.43" y="562.62" width="6.6" height="6.2" fill="none" stroke="#3fe61e" stroke-width="1.5"/>
<rect x="522.97" y="567.89" width="6.6" height="6.2" fill="none" stroke="#3fe61e" stroke-width="1.5"/>
<rect x="541.50" y="573.53" width="6.6" height="6.2" fill="none" stroke="#3fe61e" stroke-width="1.5"/>
<rect x="550.77" y="602.07" width="6.6" height="6.2" fill="none" stroke="#3fe61e" stroke-width="1.5"/>
<path d="M368.73,596.79 V616.14 M365.73,596.79 h6 M365.73,616.14 h6" fill="none" stroke="#9b9b9b" stroke-width="1.25"/>
<path d="M378.00,574.21 V582.81 M375.00,574.21 h6 M375.00,582.81 h6" fill="none" stroke="#9b9b9b" stroke-width="1.25"/>
<path d="M396.53,568.46 V575.99 M393.53,568.46 h6 M393.53,575.99 h6" fill="none" stroke="#9b9b9b" stroke-width="1.25"/>
<path d="M415.07,565.61 V575.29 M412.07,565.61 h6 M412.07,575.29 h6" fill="none" stroke="#9b9b9b" stroke-width="1.25"/>
<path d="M433.60,570.45 V576.90 M430.60,570.45 h6 M430.60,576.90 h6" fill="none" stroke="#9b9b9b" stroke-width="1.25"/>
<path d="M452.13,573.68 V582.27 M449.13,573.68 h6 M449.13,582.27 h6" fill="none" stroke="#9b9b9b" stroke-width="1.25"/>
<path d="M470.67,575.29 V586.04 M467.67,575.29 h6 M467.67,586.04 h6" fill="none" stroke="#9b9b9b" stroke-width="1.25"/>
<path d="M489.20,572.60 V584.43 M486.20,572.60 h6 M486.20,584.43 h6" fill="none" stroke="#9b9b9b" stroke-width="1.25"/>
<path d="M507.73,567.23 V580.13 M504.73,567.23 h6 M504.73,580.13 h6" fill="none" stroke="#9b9b9b" stroke-width="1.25"/>
<path d="M526.27,570.72 V579.32 M523.27,570.72 h6 M523.27,579.32 h6" fill="none" stroke="#9b9b9b" stroke-width="1.25"/>
<path d="M544.80,580.13 V588.73 M541.80,580.13 h6 M541.80,588.73 h6" fill="none" stroke="#9b9b9b" stroke-width="1.25"/>
<path d="M554.07,599.05 V614.10 M551.07,599.05 h6 M551.07,614.10 h6" fill="none" stroke="#9b9b9b" stroke-width="1.25"/>
<polyline points="368.73,606.46 378.00,578.51 396.53,572.22 415.07,570.45 433.60,573.68 452.13,577.98 461.40,645.70 470.67,580.66 489.20,578.51 507.73,573.68 526.27,575.02 544.80,584.43 554.07,606.57" fill="none" stroke="#9b9b9b" stroke-width="1.6" stroke-linejoin="round"/>
<circle cx="368.73" cy="606.46" r="2.7" fill="#9b9b9b"/>
<circle cx="378.00" cy="578.51" r="2.7" fill="#9b9b9b"/>
<circle cx="396.53" cy="572.22" r="2.7" fill="#9b9b9b"/>
<circle cx="415.07" cy="570.45" r="2.7" fill="#9b9b9b"/>
<circle cx="433.60" cy="573.68" r="2.7" fill="#9b9b9b"/>
<circle cx="452.13" cy="577.98" r="2.7" fill="#9b9b9b"/>
<circle cx="461.40" cy="645.70" r="2.7" fill="#9b9b9b"/>
<circle cx="470.67" cy="580.66" r="2.7" fill="#9b9b9b"/>
<circle cx="489.20" cy="578.51" r="2.7" fill="#9b9b9b"/>
<circle cx="507.73" cy="573.68" r="2.7" fill="#9b9b9b"/>
<circle cx="526.27" cy="575.02" r="2.7" fill="#9b9b9b"/>
<circle cx="544.80" cy="584.43" r="2.7" fill="#9b9b9b"/>
<circle cx="554.07" cy="606.57" r="2.7" fill="#9b9b9b"/>
<path d="M368.73,609.26 V618.93 M365.73,609.26 h6 M365.73,618.93 h6" fill="none" stroke="#b765ee" stroke-width="1.25"/>
<path d="M378.00,572.06 V584.96 M375.00,572.06 h6 M375.00,584.96 h6" fill="none" stroke="#b765ee" stroke-width="1.25"/>
<path d="M396.53,565.34 V573.41 M393.53,565.34 h6 M393.53,573.41 h6" fill="none" stroke="#b765ee" stroke-width="1.25"/>
<path d="M415.07,560.45 V567.98 M412.07,560.45 h6 M412.07,567.98 h6" fill="none" stroke="#b765ee" stroke-width="1.25"/>
<path d="M433.60,558.63 V567.23 M430.60,558.63 h6 M430.60,567.23 h6" fill="none" stroke="#b765ee" stroke-width="1.25"/>
<path d="M452.13,558.62 V569.38 M449.13,558.62 h6 M449.13,569.38 h6" fill="none" stroke="#b765ee" stroke-width="1.25"/>
<path d="M470.67,557.01 V567.76 M467.67,557.01 h6 M467.67,567.76 h6" fill="none" stroke="#b765ee" stroke-width="1.25"/>
<path d="M489.20,559.16 V567.76 M486.20,559.16 h6 M486.20,567.76 h6" fill="none" stroke="#b765ee" stroke-width="1.25"/>
<path d="M507.73,559.70 V570.45 M504.73,559.70 h6 M504.73,570.45 h6" fill="none" stroke="#b765ee" stroke-width="1.25"/>
<path d="M526.27,565.08 V582.28 M523.27,565.08 h6 M523.27,582.28 h6" fill="none" stroke="#b765ee" stroke-width="1.25"/>
<path d="M544.80,581.20 V589.80 M541.80,581.20 h6 M541.80,589.80 h6" fill="none" stroke="#b765ee" stroke-width="1.25"/>
<polyline points="368.73,614.10 378.00,578.51 396.53,569.38 415.07,564.22 433.60,562.93 452.13,564.00 461.40,645.70 470.67,562.39 489.20,563.46 507.73,565.08 526.27,573.68 544.80,585.50 554.07,621.51" fill="none" stroke="#b765ee" stroke-width="1.9" stroke-linejoin="round"/>
<path d="M365.03,614.10 L368.73,610.39 L372.43,614.10 L368.73,617.80 Z" fill="#b765ee"/>
<path d="M374.30,578.51 L378.00,574.81 L381.70,578.51 L378.00,582.21 Z" fill="#b765ee"/>
<path d="M392.83,569.38 L396.53,565.67 L400.23,569.38 L396.53,573.08 Z" fill="#b765ee"/>
<path d="M411.37,564.22 L415.07,560.51 L418.77,564.22 L415.07,567.92 Z" fill="#b765ee"/>
<path d="M429.90,562.93 L433.60,559.23 L437.30,562.93 L433.60,566.63 Z" fill="#b765ee"/>
<path d="M448.43,564.00 L452.13,560.30 L455.83,564.00 L452.13,567.70 Z" fill="#b765ee"/>
<path d="M457.70,645.70 L461.40,642.00 L465.10,645.70 L461.40,649.40 Z" fill="#b765ee"/>
<path d="M466.97,562.39 L470.67,558.69 L474.37,562.39 L470.67,566.09 Z" fill="#b765ee"/>
<path d="M485.50,563.46 L489.20,559.76 L492.90,563.46 L489.20,567.16 Z" fill="#b765ee"/>
<path d="M504.03,565.08 L507.73,561.38 L511.43,565.08 L507.73,568.78 Z" fill="#b765ee"/>
<path d="M522.57,573.68 L526.27,569.98 L529.97,573.68 L526.27,577.38 Z" fill="#b765ee"/>
<path d="M541.10,585.50 L544.80,581.80 L548.50,585.50 L544.80,589.20 Z" fill="#b765ee"/>
<path d="M550.37,621.51 L554.07,617.81 L557.77,621.51 L554.07,625.21 Z" fill="#b765ee"/>
<text x="264.29" y="326.70" font-size="16.5" font-weight="bold" font-style="normal" text-anchor="start" fill="#2a1010" letter-spacing="1.4">*</text>
<text x="170.79" y="533.50" font-size="16.5" font-weight="bold" font-style="normal" text-anchor="start" fill="#2a1010" letter-spacing="1.4">*</text>
<text x="183.02" y="525.60" font-size="16.5" font-weight="bold" font-style="normal" text-anchor="start" fill="#2a1010" letter-spacing="1.4">***</text>
<text x="449.29" y="535.70" font-size="16.5" font-weight="bold" font-style="normal" text-anchor="start" fill="#2a1010" letter-spacing="1.4">*</text>
<text x="459.67" y="525.60" font-size="16.5" font-weight="bold" font-style="normal" text-anchor="start" fill="#2a1010" letter-spacing="1.4">***</text>
<text x="483.28" y="535.70" font-size="16.5" font-weight="bold" font-style="normal" text-anchor="start" fill="#2a1010" letter-spacing="1.4">**</text>
<text x="559.08" y="593.10" font-size="16.5" font-weight="bold" font-style="normal" text-anchor="start" fill="#2a1010" letter-spacing="1.4">**</text>
<line x1="571.0" y1="264" x2="582.3" y2="264" stroke="#000" stroke-width="1.3"/>
<circle cx="576.7" cy="264" r="2.5" fill="#000"/>
<text transform="translate(585.8,267.8) scale(1.0,1)" font-size="11.4" font-weight="bold">WT</text>
<line x1="570.0" y1="278.5" x2="582.8" y2="278.5" stroke="#3fe61e" stroke-width="1.3"/>
<rect x="573.4000000000001" y="275.5" width="6.6" height="6.0" fill="none" stroke="#3fe61e" stroke-width="1.4"/>
<text x="585.8" y="282.6" font-size="11.4" font-weight="bold" font-style="italic" text-anchor="start" fill="#000" >Rho<tspan font-size="6.9" dy="-3.4">+/-</tspan><tspan dy="3.4" font-size="1">&#8203;</tspan></text>
<line x1="571.0" y1="292.59999999999997" x2="582.3" y2="292.59999999999997" stroke="#5f9ff5" stroke-width="1.3"/>
<path d="M573.10,290.60 H580.30 L576.70,296.80 Z" fill="#5f9ff5"/>
<text x="585.8" y="296.7" font-size="11.4" font-weight="bold" font-style="italic" text-anchor="start" fill="#000" >Prph2<tspan font-size="6.9" dy="-3.4">Y141C/+</tspan><tspan dy="3.4" font-size="1">&#8203;</tspan></text>
<line x1="571.0" y1="311.6" x2="582.3" y2="311.6" stroke="#f09a48" stroke-width="1.3"/>
<rect x="573.20" y="308.30" width="7" height="6.6" fill="#f09a48"/>
<text x="585.8" y="309.8" font-size="11.4" font-weight="bold" font-style="italic" text-anchor="start" fill="#000" >Prph2<tspan font-size="6.9" dy="-3.4">Y141C/+</tspan><tspan dy="3.4" font-size="1">&#8203;</tspan></text>
<text x="585.8" y="320.6" font-size="11.4" font-weight="bold" font-style="italic" text-anchor="start" fill="#000" >Rho<tspan font-size="6.9" dy="-3.4">+/-</tspan><tspan dy="3.4" font-size="1">&#8203;</tspan></text>
<line x1="571.0" y1="493.4" x2="582.3" y2="493.4" stroke="#000" stroke-width="1.3"/>
<circle cx="576.7" cy="493.4" r="2.5" fill="#000"/>
<text transform="translate(585.8,497.2) scale(0.87,1)" font-size="11.4" font-weight="bold">WT</text>
<line x1="570.0" y1="507.9" x2="582.8" y2="507.9" stroke="#3fe61e" stroke-width="1.3"/>
<rect x="573.4000000000001" y="504.9" width="6.6" height="6.0" fill="none" stroke="#3fe61e" stroke-width="1.4"/>
<text x="585.8" y="512.0" font-size="11.4" font-weight="bold" font-style="italic" text-anchor="start" fill="#000" >Rho<tspan font-size="6.9" dy="-3.4">+/-</tspan><tspan dy="3.4" font-size="1">&#8203;</tspan></text>
<line x1="571.0" y1="522.0" x2="582.3" y2="522.0" stroke="#9b9b9b" stroke-width="1.3"/>
<circle cx="576.70" cy="522.60" r="2.7" fill="#9b9b9b"/>
<text x="585.8" y="526.1" font-size="11.4" font-weight="bold" font-style="italic" text-anchor="start" fill="#000" >Prph2<tspan font-size="6.9" dy="-3.4">K153&#916;/+</tspan><tspan dy="3.4" font-size="1">&#8203;</tspan></text>
<line x1="571.0" y1="541.6" x2="582.3" y2="541.6" stroke="#b765ee" stroke-width="1.3"/>
<path d="M573.00,541.60 L576.70,537.90 L580.40,541.60 L576.70,545.30 Z" fill="#b765ee"/>
<text x="585.8" y="539.8" font-size="11.4" font-weight="bold" font-style="italic" text-anchor="start" fill="#000" >Prph2<tspan font-size="6.9" dy="-3.4">K153&#916;/+</tspan><tspan dy="3.4" font-size="1">&#8203;</tspan></text>
<text x="585.8" y="551.4" font-size="11.4" font-weight="bold" font-style="italic" text-anchor="start" fill="#000" >Rho<tspan font-size="6.9" dy="-3.4">+/-</tspan><tspan dy="3.4" font-size="1">&#8203;</tspan></text>
</svg>
</body>
</html>
